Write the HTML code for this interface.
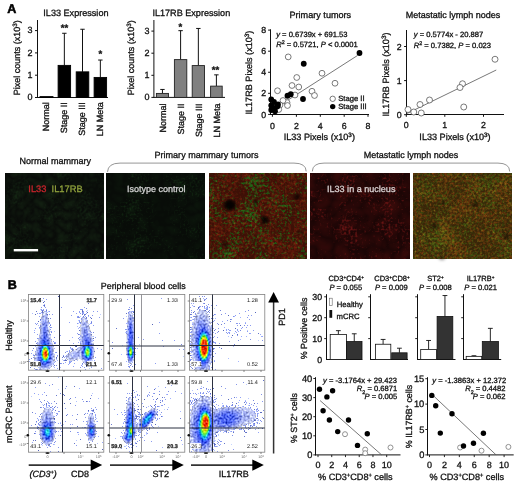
<!DOCTYPE html>
<html><head><meta charset="utf-8"><style>
html,body{margin:0;padding:0;background:#fff;}
svg{display:block;filter:blur(0.3px);}
text{font-family:'Liberation Sans', Arial, sans-serif;text-rendering:geometricPrecision;}
</style></head><body>
<svg width="520" height="483" viewBox="0 0 520 483">
<defs><filter id="mic0" x="0" y="0" width="1" height="1" color-interpolation-filters="sRGB"><feTurbulence type="turbulence" baseFrequency="0.09" numOctaves="2" seed="2" result="a_n0"/><feColorMatrix in="a_n0" type="matrix" values="1 0 0 0 0  1 0 0 0 0  1 0 0 0 0  0 0 0 0 1" result="a_n"/><feComponentTransfer in="a_n" result="a_t"><feFuncR type="linear" slope="1.3" intercept="-0.0650"/></feComponentTransfer><feColorMatrix in="a_t" type="matrix" values="0.04 0 0 0 0  0.085 0 0 0 0  0.035 0 0 0 0  0 0 0 0 1" result="a"/><feComposite in="SourceGraphic" in2="a" operator="arithmetic" k1="0" k2="1" k3="1" k4="0" result="acc0"/><feTurbulence type="fractalNoise" baseFrequency="0.45" numOctaves="1" seed="9" result="b_n0"/><feColorMatrix in="b_n0" type="matrix" values="1 0 0 0 0  1 0 0 0 0  1 0 0 0 0  0 0 0 0 1" result="b_n"/><feTurbulence type="fractalNoise" baseFrequency="0.04" numOctaves="2" seed="5" result="b_c0"/><feColorMatrix in="b_c0" type="matrix" values="1 0 0 0 0  1 0 0 0 0  1 0 0 0 0  0 0 0 0 1" result="b_c"/><feComposite in="b_n" in2="b_c" operator="arithmetic" k1="0" k2="1" k3="0.8" k4="-0.4" result="b_m"/><feComponentTransfer in="b_m" result="b_t"><feFuncR type="linear" slope="2.0" intercept="-1.1600"/></feComponentTransfer><feColorMatrix in="b_t" type="matrix" values="0.03 0 0 0 0  0.08 0 0 0 0  0.03 0 0 0 0  0 0 0 0 1" result="b"/><feComposite in="acc0" in2="b" operator="arithmetic" k1="0" k2="1" k3="1" k4="0" result="acc1"/><feGaussianBlur in="acc1" stdDeviation="0.35" result="bl"/><feComposite in="bl" in2="SourceAlpha" operator="in"/></filter><filter id="mic1" x="0" y="0" width="1" height="1" color-interpolation-filters="sRGB"><feTurbulence type="turbulence" baseFrequency="0.08" numOctaves="2" seed="4" result="a_n0"/><feColorMatrix in="a_n0" type="matrix" values="1 0 0 0 0  1 0 0 0 0  1 0 0 0 0  0 0 0 0 1" result="a_n"/><feComponentTransfer in="a_n" result="a_t"><feFuncR type="linear" slope="1.0" intercept="-0.1000"/></feComponentTransfer><feColorMatrix in="a_t" type="matrix" values="0.02 0 0 0 0  0.06 0 0 0 0  0.02 0 0 0 0  0 0 0 0 1" result="a"/><feComposite in="SourceGraphic" in2="a" operator="arithmetic" k1="0" k2="1" k3="1" k4="0" result="acc0"/><feTurbulence type="fractalNoise" baseFrequency="0.5" numOctaves="1" seed="12" result="b_n0"/><feColorMatrix in="b_n0" type="matrix" values="1 0 0 0 0  1 0 0 0 0  1 0 0 0 0  0 0 0 0 1" result="b_n"/><feTurbulence type="fractalNoise" baseFrequency="0.04" numOctaves="2" seed="8" result="b_c0"/><feColorMatrix in="b_c0" type="matrix" values="1 0 0 0 0  1 0 0 0 0  1 0 0 0 0  0 0 0 0 1" result="b_c"/><feComposite in="b_n" in2="b_c" operator="arithmetic" k1="0" k2="1" k3="0.8" k4="-0.4" result="b_m"/><feComponentTransfer in="b_m" result="b_t"><feFuncR type="linear" slope="2.5" intercept="-1.5000"/></feComponentTransfer><feColorMatrix in="b_t" type="matrix" values="0.03 0 0 0 0  0.09 0 0 0 0  0.03 0 0 0 0  0 0 0 0 1" result="b"/><feComposite in="acc0" in2="b" operator="arithmetic" k1="0" k2="1" k3="1" k4="0" result="acc1"/><feGaussianBlur in="acc1" stdDeviation="0.35" result="bl"/><feComposite in="bl" in2="SourceAlpha" operator="in"/></filter><filter id="mic2" x="0" y="0" width="1" height="1" color-interpolation-filters="sRGB"><feTurbulence type="fractalNoise" baseFrequency="0.35" numOctaves="2" seed="3" result="r_n0"/><feColorMatrix in="r_n0" type="matrix" values="1 0 0 0 0  1 0 0 0 0  1 0 0 0 0  0 0 0 0 1" result="r_n"/><feTurbulence type="fractalNoise" baseFrequency="0.05" numOctaves="2" seed="7" result="r_c0"/><feColorMatrix in="r_c0" type="matrix" values="1 0 0 0 0  1 0 0 0 0  1 0 0 0 0  0 0 0 0 1" result="r_c"/><feComposite in="r_n" in2="r_c" operator="arithmetic" k1="0" k2="1" k3="0.5" k4="-0.25" result="r_m"/><feComponentTransfer in="r_m" result="r_t"><feFuncR type="linear" slope="2.0" intercept="-0.8000"/></feComponentTransfer><feColorMatrix in="r_t" type="matrix" values="0.2 0 0 0 0  0.05 0 0 0 0  0.02 0 0 0 0  0 0 0 0 1" result="r"/><feComposite in="SourceGraphic" in2="r" operator="arithmetic" k1="0" k2="1" k3="1" k4="0" result="acc0"/><feTurbulence type="fractalNoise" baseFrequency="0.4" numOctaves="2" seed="5" result="g_n0"/><feColorMatrix in="g_n0" type="matrix" values="1 0 0 0 0  1 0 0 0 0  1 0 0 0 0  0 0 0 0 1" result="g_n"/><feTurbulence type="fractalNoise" baseFrequency="0.045" numOctaves="2" seed="21" result="g_c0"/><feColorMatrix in="g_c0" type="matrix" values="1 0 0 0 0  1 0 0 0 0  1 0 0 0 0  0 0 0 0 1" result="g_c"/><feComposite in="g_n" in2="g_c" operator="arithmetic" k1="0" k2="1" k3="0.6" k4="-0.3" result="g_m"/><feComponentTransfer in="g_m" result="g_t"><feFuncR type="linear" slope="3.2" intercept="-1.6320"/></feComponentTransfer><feColorMatrix in="g_t" type="matrix" values="0.02 0 0 0 0  0.3 0 0 0 0  0.05 0 0 0 0  0 0 0 0 1" result="g"/><feComposite in="acc0" in2="g" operator="arithmetic" k1="0" k2="1" k3="1" k4="0" result="acc1"/><feTurbulence type="fractalNoise" baseFrequency="0.4" numOctaves="2" seed="5" result="gm_n0"/><feColorMatrix in="gm_n0" type="matrix" values="1 0 0 0 0  1 0 0 0 0  1 0 0 0 0  0 0 0 0 1" result="gm_n"/><feTurbulence type="fractalNoise" baseFrequency="0.045" numOctaves="2" seed="21" result="gm_c0"/><feColorMatrix in="gm_c0" type="matrix" values="1 0 0 0 0  1 0 0 0 0  1 0 0 0 0  0 0 0 0 1" result="gm_c"/><feComposite in="gm_n" in2="gm_c" operator="arithmetic" k1="0" k2="1" k3="0.6" k4="-0.3" result="gm_m"/><feComponentTransfer in="gm_m" result="gm_t"><feFuncR type="linear" slope="3.2" intercept="-1.6320"/></feComponentTransfer><feColorMatrix in="gm_t" type="matrix" values="0.16 0 0 0 0  0.0 0 0 0 0  0.0 0 0 0 0  0 0 0 0 1" result="gm"/><feComposite in="acc1" in2="gm" operator="arithmetic" k1="0" k2="1" k3="-1" k4="0" result="acc2"/><feTurbulence type="fractalNoise" baseFrequency="0.47" numOctaves="1" seed="15" result="h_n0"/><feColorMatrix in="h_n0" type="matrix" values="1 0 0 0 0  1 0 0 0 0  1 0 0 0 0  0 0 0 0 1" result="h_n"/><feComponentTransfer in="h_n" result="h_t"><feFuncR type="linear" slope="3.0" intercept="-1.7400"/></feComponentTransfer><feColorMatrix in="h_t" type="matrix" values="0.1 0 0 0 0  0.1 0 0 0 0  0.02 0 0 0 0  0 0 0 0 1" result="h"/><feComposite in="acc2" in2="h" operator="arithmetic" k1="0" k2="1" k3="1" k4="0" result="acc3"/><feGaussianBlur in="acc3" stdDeviation="0.35" result="bl"/><feComposite in="bl" in2="SourceAlpha" operator="in"/></filter><filter id="mic3" x="0" y="0" width="1" height="1" color-interpolation-filters="sRGB"><feTurbulence type="turbulence" baseFrequency="0.06" numOctaves="2" seed="6" result="r_n0"/><feColorMatrix in="r_n0" type="matrix" values="1 0 0 0 0  1 0 0 0 0  1 0 0 0 0  0 0 0 0 1" result="r_n"/><feComponentTransfer in="r_n" result="r_t"><feFuncR type="linear" slope="1.0" intercept="-0.0000"/></feComponentTransfer><feColorMatrix in="r_t" type="matrix" values="0.15 0 0 0 0  0.025 0 0 0 0  0.02 0 0 0 0  0 0 0 0 1" result="r"/><feComposite in="SourceGraphic" in2="r" operator="arithmetic" k1="0" k2="1" k3="1" k4="0" result="acc0"/><feTurbulence type="fractalNoise" baseFrequency="0.45" numOctaves="1" seed="17" result="s_n0"/><feColorMatrix in="s_n0" type="matrix" values="1 0 0 0 0  1 0 0 0 0  1 0 0 0 0  0 0 0 0 1" result="s_n"/><feTurbulence type="fractalNoise" baseFrequency="0.05" numOctaves="2" seed="2" result="s_c0"/><feColorMatrix in="s_c0" type="matrix" values="1 0 0 0 0  1 0 0 0 0  1 0 0 0 0  0 0 0 0 1" result="s_c"/><feComposite in="s_n" in2="s_c" operator="arithmetic" k1="0" k2="1" k3="0.6" k4="-0.3" result="s_m"/><feComponentTransfer in="s_m" result="s_t"><feFuncR type="linear" slope="3.0" intercept="-1.7400"/></feComponentTransfer><feColorMatrix in="s_t" type="matrix" values="0.26 0 0 0 0  0.05 0 0 0 0  0.05 0 0 0 0  0 0 0 0 1" result="s"/><feComposite in="acc0" in2="s" operator="arithmetic" k1="0" k2="1" k3="1" k4="0" result="acc1"/><feGaussianBlur in="acc1" stdDeviation="0.35" result="bl"/><feComposite in="bl" in2="SourceAlpha" operator="in"/></filter><filter id="mic4" x="0" y="0" width="1" height="1" color-interpolation-filters="sRGB"><feTurbulence type="fractalNoise" baseFrequency="0.4" numOctaves="2" seed="8" result="r_n0"/><feColorMatrix in="r_n0" type="matrix" values="1 0 0 0 0  1 0 0 0 0  1 0 0 0 0  0 0 0 0 1" result="r_n"/><feTurbulence type="fractalNoise" baseFrequency="0.05" numOctaves="2" seed="3" result="r_c0"/><feColorMatrix in="r_c0" type="matrix" values="1 0 0 0 0  1 0 0 0 0  1 0 0 0 0  0 0 0 0 1" result="r_c"/><feComposite in="r_n" in2="r_c" operator="arithmetic" k1="0" k2="1" k3="0.45" k4="-0.225" result="r_m"/><feComponentTransfer in="r_m" result="r_t"><feFuncR type="linear" slope="2.2" intercept="-0.8360"/></feComponentTransfer><feColorMatrix in="r_t" type="matrix" values="0.24 0 0 0 0  0.08 0 0 0 0  0.02 0 0 0 0  0 0 0 0 1" result="r"/><feComposite in="SourceGraphic" in2="r" operator="arithmetic" k1="0" k2="1" k3="1" k4="0" result="acc0"/><feTurbulence type="fractalNoise" baseFrequency="0.42" numOctaves="2" seed="10" result="g_n0"/><feColorMatrix in="g_n0" type="matrix" values="1 0 0 0 0  1 0 0 0 0  1 0 0 0 0  0 0 0 0 1" result="g_n"/><feTurbulence type="fractalNoise" baseFrequency="0.04" numOctaves="2" seed="13" result="g_c0"/><feColorMatrix in="g_c0" type="matrix" values="1 0 0 0 0  1 0 0 0 0  1 0 0 0 0  0 0 0 0 1" result="g_c"/><feComposite in="g_n" in2="g_c" operator="arithmetic" k1="0" k2="1" k3="0.5" k4="-0.25" result="g_m"/><feComponentTransfer in="g_m" result="g_t"><feFuncR type="linear" slope="2.2" intercept="-0.9680"/></feComponentTransfer><feColorMatrix in="g_t" type="matrix" values="0.06 0 0 0 0  0.21 0 0 0 0  0.03 0 0 0 0  0 0 0 0 1" result="g"/><feComposite in="acc0" in2="g" operator="arithmetic" k1="0" k2="1" k3="1" k4="0" result="acc1"/><feTurbulence type="fractalNoise" baseFrequency="0.42" numOctaves="2" seed="10" result="gm_n0"/><feColorMatrix in="gm_n0" type="matrix" values="1 0 0 0 0  1 0 0 0 0  1 0 0 0 0  0 0 0 0 1" result="gm_n"/><feTurbulence type="fractalNoise" baseFrequency="0.04" numOctaves="2" seed="13" result="gm_c0"/><feColorMatrix in="gm_c0" type="matrix" values="1 0 0 0 0  1 0 0 0 0  1 0 0 0 0  0 0 0 0 1" result="gm_c"/><feComposite in="gm_n" in2="gm_c" operator="arithmetic" k1="0" k2="1" k3="0.5" k4="-0.25" result="gm_m"/><feComponentTransfer in="gm_m" result="gm_t"><feFuncR type="linear" slope="2.2" intercept="-0.9680"/></feComponentTransfer><feColorMatrix in="gm_t" type="matrix" values="0.04 0 0 0 0  0.0 0 0 0 0  0.0 0 0 0 0  0 0 0 0 1" result="gm"/><feComposite in="acc1" in2="gm" operator="arithmetic" k1="0" k2="1" k3="-1" k4="0" result="acc2"/><feTurbulence type="fractalNoise" baseFrequency="0.47" numOctaves="1" seed="19" result="d_n0"/><feColorMatrix in="d_n0" type="matrix" values="1 0 0 0 0  1 0 0 0 0  1 0 0 0 0  0 0 0 0 1" result="d_n"/><feComponentTransfer in="d_n" result="d_t"><feFuncR type="linear" slope="3.0" intercept="-1.7100"/></feComponentTransfer><feColorMatrix in="d_t" type="matrix" values="0.16 0 0 0 0  0.14 0 0 0 0  0.04 0 0 0 0  0 0 0 0 1" result="d"/><feComposite in="acc2" in2="d" operator="arithmetic" k1="0" k2="1" k3="1" k4="0" result="acc3"/><feGaussianBlur in="acc3" stdDeviation="0.35" result="bl"/><feComposite in="bl" in2="SourceAlpha" operator="in"/></filter><filter id="soft" x="-2%" y="-2%" width="104%" height="104%" color-interpolation-filters="sRGB"><feTurbulence type="fractalNoise" baseFrequency="0.5" numOctaves="1" seed="4" result="n0"/><feColorMatrix in="n0" type="matrix" values="1 0 0 0 0  1 0 0 0 0  1 0 0 0 0  0 0 0 0 1" result="n"/><feComposite in="SourceGraphic" in2="n" operator="arithmetic" k1="0" k2="1" k3="0.9" k4="-0.45" result="g"/><feComposite in="g" in2="SourceAlpha" operator="in" result="g2"/><feGaussianBlur in="g2" stdDeviation="0.45"/></filter><filter id="blur2" x="-50%" y="-50%" width="200%" height="200%"><feGaussianBlur stdDeviation="1.6"/></filter></defs>
<rect width="520" height="483" fill="#fff"/>
<text x="43.3" y="15.9" font-size="9.1" text-anchor="start" fill="#111" stroke="#111" stroke-width="0.3">IL33 Expression</text>
<line x1="37.5" y1="20" x2="37.5" y2="98.0" stroke="#111" stroke-width="1"/>
<line x1="37.0" y1="97.5" x2="108" y2="97.5" stroke="#111" stroke-width="1"/>
<line x1="35.0" y1="97.5" x2="37.5" y2="97.5" stroke="#111" stroke-width="1"/>
<text x="32.6" y="100.1" font-size="9.0" text-anchor="end" fill="#111" stroke="#111" stroke-width="0.3">0</text>
<line x1="35.0" y1="75.2" x2="37.5" y2="75.2" stroke="#111" stroke-width="1"/>
<text x="32.6" y="77.8" font-size="9.0" text-anchor="end" fill="#111" stroke="#111" stroke-width="0.3">1</text>
<line x1="35.0" y1="52.9" x2="37.5" y2="52.9" stroke="#111" stroke-width="1"/>
<text x="32.6" y="55.5" font-size="9.0" text-anchor="end" fill="#111" stroke="#111" stroke-width="0.3">2</text>
<line x1="35.0" y1="30.599999999999994" x2="37.5" y2="30.599999999999994" stroke="#111" stroke-width="1"/>
<text x="32.6" y="33.199999999999996" font-size="9.0" text-anchor="end" fill="#111" stroke="#111" stroke-width="0.3">3</text>
<text x="19.6" y="20.3" font-size="9.0" text-anchor="end" fill="#111" stroke="#111" stroke-width="0.3" transform="rotate(-90 19.6 20.3)">Pixel counts (x10<tspan font-size="70%" baseline-shift="super">3</tspan>)</text>
<rect x="40" y="96.608" width="13" height="0.8919999999999959" fill="#000" stroke="#000" stroke-width="0.9"/>
<text x="49.4" y="102.2" font-size="9.0" text-anchor="end" fill="#111" stroke="#111" stroke-width="0.3" transform="rotate(-90 49.4 102.2)">Normal</text>
<line x1="64.35" y1="33.275999999999996" x2="64.35" y2="65.388" stroke="#111" stroke-width="1"/>
<line x1="62.14999999999999" y1="33.275999999999996" x2="66.55" y2="33.275999999999996" stroke="#111" stroke-width="1"/>
<rect x="58.1" y="65.388" width="12.499999999999993" height="32.111999999999995" fill="#000" stroke="#000" stroke-width="0.9"/>
<text x="67.25" y="102.2" font-size="9.0" text-anchor="end" fill="#111" stroke="#111" stroke-width="0.3" transform="rotate(-90 67.25 102.2)">Stage II</text>
<line x1="82.5" y1="29.262" x2="82.5" y2="71.855" stroke="#111" stroke-width="1"/>
<line x1="80.3" y1="29.262" x2="84.7" y2="29.262" stroke="#111" stroke-width="1"/>
<rect x="76.2" y="71.855" width="12.599999999999994" height="25.644999999999996" fill="#000" stroke="#000" stroke-width="0.9"/>
<text x="85.4" y="102.2" font-size="9.0" text-anchor="end" fill="#111" stroke="#111" stroke-width="0.3" transform="rotate(-90 85.4 102.2)">Stage III</text>
<line x1="100.35" y1="60.036" x2="100.35" y2="77.43" stroke="#111" stroke-width="1"/>
<line x1="98.14999999999999" y1="60.036" x2="102.55" y2="60.036" stroke="#111" stroke-width="1"/>
<rect x="94.1" y="77.43" width="12.5" height="20.069999999999993" fill="#000" stroke="#000" stroke-width="0.9"/>
<text x="103.25" y="102.2" font-size="9.0" text-anchor="end" fill="#111" stroke="#111" stroke-width="0.3" transform="rotate(-90 103.25 102.2)">LN Meta</text>
<text x="64.6" y="30.900000000000002" font-size="9.6" text-anchor="middle" font-weight="bold" fill="#111" stroke="#111" stroke-width="0.3">**</text>
<text x="100.4" y="56.9" font-size="9.6" text-anchor="middle" font-weight="bold" fill="#111" stroke="#111" stroke-width="0.3">*</text>
<text x="152.4" y="15.9" font-size="9.1" text-anchor="start" fill="#111" stroke="#111" stroke-width="0.3">IL17RB Expression</text>
<line x1="153.9" y1="20" x2="153.9" y2="97.9" stroke="#111" stroke-width="1"/>
<line x1="153.4" y1="97.4" x2="225" y2="97.4" stroke="#111" stroke-width="1"/>
<line x1="151.4" y1="97.4" x2="153.9" y2="97.4" stroke="#111" stroke-width="1"/>
<text x="149.6" y="100.0" font-size="9.0" text-anchor="end" fill="#111" stroke="#111" stroke-width="0.3">0</text>
<line x1="151.4" y1="75.30000000000001" x2="153.9" y2="75.30000000000001" stroke="#111" stroke-width="1"/>
<text x="149.6" y="77.9" font-size="9.0" text-anchor="end" fill="#111" stroke="#111" stroke-width="0.3">1</text>
<line x1="151.4" y1="53.2" x2="153.9" y2="53.2" stroke="#111" stroke-width="1"/>
<text x="149.6" y="55.800000000000004" font-size="9.0" text-anchor="end" fill="#111" stroke="#111" stroke-width="0.3">2</text>
<line x1="151.4" y1="31.099999999999994" x2="153.9" y2="31.099999999999994" stroke="#111" stroke-width="1"/>
<text x="149.6" y="33.699999999999996" font-size="9.0" text-anchor="end" fill="#111" stroke="#111" stroke-width="0.3">3</text>
<text x="134.0" y="20.3" font-size="9.0" text-anchor="end" fill="#111" stroke="#111" stroke-width="0.3" transform="rotate(-90 134.0 20.3)">Pixel counts (x10<tspan font-size="70%" baseline-shift="super">3</tspan>)</text>
<line x1="162.45" y1="89.444" x2="162.45" y2="93.42200000000001" stroke="#111" stroke-width="1"/>
<line x1="160.25" y1="89.444" x2="164.64999999999998" y2="89.444" stroke="#111" stroke-width="1"/>
<rect x="156.4" y="93.42200000000001" width="12.099999999999994" height="3.9779999999999944" fill="#808080" stroke="#222" stroke-width="0.9"/>
<text x="166.04999999999998" y="103.4" font-size="9.0" text-anchor="end" fill="#111" stroke="#111" stroke-width="0.3" transform="rotate(-90 166.04999999999998 103.4)">Normal</text>
<line x1="180.60000000000002" y1="30.658" x2="180.60000000000002" y2="59.609" stroke="#111" stroke-width="1"/>
<line x1="178.40000000000003" y1="30.658" x2="182.8" y2="30.658" stroke="#111" stroke-width="1"/>
<rect x="174.4" y="59.609" width="12.400000000000006" height="37.791000000000004" fill="#808080" stroke="#222" stroke-width="0.9"/>
<text x="184.20000000000002" y="103.4" font-size="9.0" text-anchor="end" fill="#111" stroke="#111" stroke-width="0.3" transform="rotate(-90 184.20000000000002 103.4)">Stage II</text>
<line x1="198.35" y1="28.447999999999993" x2="198.35" y2="65.57600000000001" stroke="#111" stroke-width="1"/>
<line x1="196.15" y1="28.447999999999993" x2="200.54999999999998" y2="28.447999999999993" stroke="#111" stroke-width="1"/>
<rect x="192.2" y="65.57600000000001" width="12.300000000000011" height="31.823999999999998" fill="#808080" stroke="#222" stroke-width="0.9"/>
<text x="201.95" y="103.4" font-size="9.0" text-anchor="end" fill="#111" stroke="#111" stroke-width="0.3" transform="rotate(-90 201.95 103.4)">Stage III</text>
<line x1="216.39999999999998" y1="74.858" x2="216.39999999999998" y2="86.129" stroke="#111" stroke-width="1"/>
<line x1="214.2" y1="74.858" x2="218.59999999999997" y2="74.858" stroke="#111" stroke-width="1"/>
<rect x="210.6" y="86.129" width="11.599999999999994" height="11.271" fill="#808080" stroke="#222" stroke-width="0.9"/>
<text x="219.99999999999997" y="103.4" font-size="9.0" text-anchor="end" fill="#111" stroke="#111" stroke-width="0.3" transform="rotate(-90 219.99999999999997 103.4)">LN Meta</text>
<text x="180.3" y="29.900000000000002" font-size="9.6" text-anchor="middle" font-weight="bold" fill="#111" stroke="#111" stroke-width="0.3">*</text>
<text x="215.6" y="73.39999999999999" font-size="9.6" text-anchor="middle" font-weight="bold" fill="#111" stroke="#111" stroke-width="0.3">**</text>
<text x="7.2" y="12.5" font-size="12.6" font-weight="bold" fill="#000" stroke="#000" stroke-width="0.5">A</text>
<text x="289.5" y="18.3" font-size="9.1" text-anchor="start" fill="#111" stroke="#111" stroke-width="0.3">Primary tumors</text>
<line x1="270.5" y1="29.3" x2="270.5" y2="115.0" stroke="#111" stroke-width="1"/>
<line x1="270.0" y1="114.5" x2="369" y2="114.5" stroke="#111" stroke-width="1"/>
<line x1="268.1" y1="114.4" x2="270.5" y2="114.4" stroke="#111" stroke-width="1"/>
<text x="266.2" y="117.5" font-size="8.8" text-anchor="end" fill="#111" stroke="#111" stroke-width="0.3">0</text>
<line x1="268.1" y1="93.3" x2="270.5" y2="93.3" stroke="#111" stroke-width="1"/>
<text x="266.2" y="96.39999999999999" font-size="8.8" text-anchor="end" fill="#111" stroke="#111" stroke-width="0.3">2</text>
<line x1="268.1" y1="72.25" x2="270.5" y2="72.25" stroke="#111" stroke-width="1"/>
<text x="266.2" y="75.35" font-size="8.8" text-anchor="end" fill="#111" stroke="#111" stroke-width="0.3">4</text>
<line x1="268.1" y1="51.2" x2="270.5" y2="51.2" stroke="#111" stroke-width="1"/>
<text x="266.2" y="54.300000000000004" font-size="8.8" text-anchor="end" fill="#111" stroke="#111" stroke-width="0.3">6</text>
<line x1="268.1" y1="30.1" x2="270.5" y2="30.1" stroke="#111" stroke-width="1"/>
<text x="266.2" y="33.2" font-size="8.8" text-anchor="end" fill="#111" stroke="#111" stroke-width="0.3">8</text>
<line x1="272.4" y1="114.5" x2="272.4" y2="116.8" stroke="#111" stroke-width="1"/>
<text x="272.4" y="128.6" font-size="8.8" text-anchor="middle" fill="#111" stroke="#111" stroke-width="0.3">0</text>
<line x1="296.4" y1="114.5" x2="296.4" y2="116.8" stroke="#111" stroke-width="1"/>
<text x="296.4" y="128.6" font-size="8.8" text-anchor="middle" fill="#111" stroke="#111" stroke-width="0.3">2</text>
<line x1="320.3" y1="114.5" x2="320.3" y2="116.8" stroke="#111" stroke-width="1"/>
<text x="320.3" y="128.6" font-size="8.8" text-anchor="middle" fill="#111" stroke="#111" stroke-width="0.3">4</text>
<line x1="344.2" y1="114.5" x2="344.2" y2="116.8" stroke="#111" stroke-width="1"/>
<text x="344.2" y="128.6" font-size="8.8" text-anchor="middle" fill="#111" stroke="#111" stroke-width="0.3">6</text>
<line x1="368" y1="114.5" x2="368" y2="116.8" stroke="#111" stroke-width="1"/>
<text x="368" y="128.6" font-size="8.8" text-anchor="middle" fill="#111" stroke="#111" stroke-width="0.3">8</text>
<text x="319.3" y="139.5" font-size="9.1" text-anchor="middle" fill="#111" stroke="#111" stroke-width="0.3">IL33 Pixels (x10<tspan font-size="70%" baseline-shift="super">3</tspan>)</text>
<text x="252.1" y="30.6" font-size="9.1" text-anchor="end" fill="#111" stroke="#111" stroke-width="0.3" transform="rotate(-90 252.1 30.6)">IL17RB Pixels (x10<tspan font-size="70%" baseline-shift="super">3</tspan>)</text>
<text x="276.2" y="36.8" font-size="7.6" text-anchor="start" fill="#111" stroke="#111" stroke-width="0.3"><tspan font-style="italic">y</tspan> = 0.6739x + 691.53</text>
<text x="276.2" y="47.4" font-size="7.6" text-anchor="start" fill="#111" stroke="#111" stroke-width="0.3"><tspan font-style="italic">R</tspan><tspan font-size="70%" baseline-shift="super">2</tspan> = 0.5721, <tspan font-style="italic">P</tspan> &lt; 0.0001</text>
<line x1="272.5" y1="110" x2="357.5" y2="55.5" stroke="#555" stroke-width="0.8"/>
<circle cx="288.2" cy="56.9" r="2.9" fill="#fff" stroke="#444" stroke-width="0.7"/>
<circle cx="322" cy="73.25" r="2.9" fill="#fff" stroke="#444" stroke-width="0.7"/>
<circle cx="296.75" cy="77.5" r="2.9" fill="#fff" stroke="#444" stroke-width="0.7"/>
<circle cx="335" cy="83.25" r="2.9" fill="#fff" stroke="#444" stroke-width="0.7"/>
<circle cx="292" cy="85.5" r="2.9" fill="#fff" stroke="#444" stroke-width="0.7"/>
<circle cx="298.75" cy="87" r="2.9" fill="#fff" stroke="#444" stroke-width="0.7"/>
<circle cx="277.5" cy="90.75" r="2.9" fill="#fff" stroke="#444" stroke-width="0.7"/>
<circle cx="312" cy="91.25" r="2.9" fill="#fff" stroke="#444" stroke-width="0.7"/>
<circle cx="314.5" cy="95.5" r="2.9" fill="#fff" stroke="#444" stroke-width="0.7"/>
<circle cx="295" cy="95" r="2.9" fill="#fff" stroke="#444" stroke-width="0.7"/>
<circle cx="287" cy="102.5" r="2.9" fill="#fff" stroke="#444" stroke-width="0.7"/>
<circle cx="283" cy="100.5" r="2.9" fill="#fff" stroke="#444" stroke-width="0.7"/>
<circle cx="287.5" cy="105.5" r="2.9" fill="#fff" stroke="#444" stroke-width="0.7"/>
<circle cx="280" cy="105" r="2.9" fill="#fff" stroke="#444" stroke-width="0.7"/>
<circle cx="278.75" cy="109.5" r="2.9" fill="#fff" stroke="#444" stroke-width="0.7"/>
<circle cx="276" cy="107" r="2.9" fill="#fff" stroke="#444" stroke-width="0.7"/>
<circle cx="303.75" cy="63.75" r="2.9" fill="#000" stroke="none" stroke-width="1"/>
<circle cx="359.5" cy="53" r="2.9" fill="#000" stroke="none" stroke-width="1"/>
<circle cx="287.5" cy="95.75" r="2.9" fill="#000" stroke="none" stroke-width="1"/>
<circle cx="290.75" cy="94.25" r="2.9" fill="#000" stroke="none" stroke-width="1"/>
<circle cx="303" cy="99" r="2.9" fill="#000" stroke="none" stroke-width="1"/>
<circle cx="271.25" cy="99.5" r="2.9" fill="#000" stroke="none" stroke-width="1"/>
<circle cx="271.25" cy="105.5" r="2.9" fill="#000" stroke="none" stroke-width="1"/>
<circle cx="271.25" cy="110" r="2.9" fill="#000" stroke="none" stroke-width="1"/>
<circle cx="275" cy="111.25" r="2.9" fill="#000" stroke="none" stroke-width="1"/>
<circle cx="277.5" cy="106.25" r="2.9" fill="#000" stroke="none" stroke-width="1"/>
<circle cx="273.75" cy="108" r="2.9" fill="#000" stroke="none" stroke-width="1"/>
<circle cx="278" cy="104.5" r="2.9" fill="#000" stroke="none" stroke-width="1"/>
<circle cx="274" cy="102" r="2.9" fill="#000" stroke="none" stroke-width="1"/>
<circle cx="332.7" cy="98.8" r="2.7" fill="#fff" stroke="#444" stroke-width="0.7"/>
<circle cx="332.7" cy="106.6" r="2.7" fill="#000" stroke="none" stroke-width="1"/>
<text x="338.2" y="101.4" font-size="7.65" text-anchor="start" fill="#111" stroke="#111" stroke-width="0.3">Stage II</text>
<text x="338.2" y="109.2" font-size="7.65" text-anchor="start" fill="#111" stroke="#111" stroke-width="0.3">Stage III</text>
<text x="405.75" y="18.3" font-size="9.0" text-anchor="start" fill="#111" stroke="#111" stroke-width="0.3">Metastatic lymph nodes</text>
<line x1="406.5" y1="30" x2="406.5" y2="115.0" stroke="#111" stroke-width="1"/>
<line x1="406.0" y1="114.5" x2="504" y2="114.5" stroke="#111" stroke-width="1"/>
<line x1="404.1" y1="114.7" x2="406.5" y2="114.7" stroke="#111" stroke-width="1"/>
<text x="401.6" y="117.8" font-size="8.8" text-anchor="end" fill="#111" stroke="#111" stroke-width="0.3">0</text>
<line x1="404.1" y1="80.6" x2="406.5" y2="80.6" stroke="#111" stroke-width="1"/>
<text x="401.6" y="83.69999999999999" font-size="8.8" text-anchor="end" fill="#111" stroke="#111" stroke-width="0.3">1</text>
<line x1="404.1" y1="46.5" x2="406.5" y2="46.5" stroke="#111" stroke-width="1"/>
<text x="401.6" y="49.6" font-size="8.8" text-anchor="end" fill="#111" stroke="#111" stroke-width="0.3">2</text>
<line x1="406.3" y1="114.5" x2="406.3" y2="116.8" stroke="#111" stroke-width="1"/>
<text x="406.3" y="127.8" font-size="8.8" text-anchor="middle" fill="#111" stroke="#111" stroke-width="0.3">0</text>
<line x1="444.8" y1="114.5" x2="444.8" y2="116.8" stroke="#111" stroke-width="1"/>
<text x="444.8" y="127.8" font-size="8.8" text-anchor="middle" fill="#111" stroke="#111" stroke-width="0.3">1</text>
<line x1="483.5" y1="114.5" x2="483.5" y2="116.8" stroke="#111" stroke-width="1"/>
<text x="483.5" y="127.8" font-size="8.8" text-anchor="middle" fill="#111" stroke="#111" stroke-width="0.3">2</text>
<text x="455" y="139.5" font-size="9.1" text-anchor="middle" fill="#111" stroke="#111" stroke-width="0.3">IL33 Pixels (x10<tspan font-size="70%" baseline-shift="super">3</tspan>)</text>
<text x="388.6" y="32.5" font-size="9.1" text-anchor="end" fill="#111" stroke="#111" stroke-width="0.3" transform="rotate(-90 388.6 32.5)">IL17RB Pixels (x10<tspan font-size="70%" baseline-shift="super">3</tspan>)</text>
<text x="413.75" y="37.2" font-size="7.6" text-anchor="start" fill="#111" stroke="#111" stroke-width="0.3"><tspan font-style="italic">y</tspan> = 0.5774x - 20.887</text>
<text x="413.75" y="47.5" font-size="7.6" text-anchor="start" fill="#111" stroke="#111" stroke-width="0.3"><tspan font-style="italic">R</tspan><tspan font-size="70%" baseline-shift="super">2</tspan> = 0.7382, <tspan font-style="italic">P</tspan> = 0.023</text>
<line x1="406.5" y1="113.75" x2="496.25" y2="70" stroke="#555" stroke-width="0.8"/>
<circle cx="495" cy="59.25" r="3.0" fill="#fff" stroke="#444" stroke-width="0.7"/>
<circle cx="462.5" cy="83.75" r="3.0" fill="#fff" stroke="#444" stroke-width="0.7"/>
<circle cx="460" cy="87.5" r="3.0" fill="#fff" stroke="#444" stroke-width="0.7"/>
<circle cx="429.5" cy="100" r="3.0" fill="#fff" stroke="#444" stroke-width="0.7"/>
<circle cx="420" cy="104.5" r="3.0" fill="#fff" stroke="#444" stroke-width="0.7"/>
<circle cx="408" cy="109.5" r="3.0" fill="#fff" stroke="#444" stroke-width="0.7"/>
<circle cx="413.75" cy="112" r="3.0" fill="#fff" stroke="#444" stroke-width="0.7"/>
<circle cx="421.25" cy="113" r="3.0" fill="#fff" stroke="#444" stroke-width="0.7"/>
<circle cx="463.75" cy="107" r="3.0" fill="#fff" stroke="#444" stroke-width="0.7"/>
<rect x="5" y="173" width="99" height="86" fill="#090c09" stroke="none" stroke-width="1" filter="url(#mic0)"/>
<rect x="106" y="173" width="99" height="86" fill="#080c08" stroke="none" stroke-width="1" filter="url(#mic1)"/>
<rect x="209" y="173" width="98" height="86" fill="#3e1006" stroke="none" stroke-width="1" filter="url(#mic2)"/>
<rect x="310" y="173" width="100" height="86" fill="#1a0505" stroke="none" stroke-width="1" filter="url(#mic3)"/>
<rect x="413" y="173" width="99" height="86" fill="#382608" stroke="none" stroke-width="1" filter="url(#mic4)"/>
<text x="19.4" y="164.4" font-size="9.0" text-anchor="start" fill="#111" stroke="#111" stroke-width="0.3">Normal mammary</text>
<text x="154.5" y="158.2" font-size="9.05" text-anchor="start" fill="#111" stroke="#111" stroke-width="0.3">Primary mammary tumors</text>
<text x="363.75" y="158.2" font-size="9.0" text-anchor="start" fill="#111" stroke="#111" stroke-width="0.3">Metastatic lymph nodes</text>
<path d="M107.5 171.9 Q108 163.1 120 163.1 H294 Q306 163.1 306.2 171.4" fill="none" stroke="#8a8a8a" stroke-width="0.9"/>
<path d="M312.3 171.4 Q312.6 163.1 324 163.1 H498 Q509.5 163.1 509.7 171.5" fill="none" stroke="#8a8a8a" stroke-width="0.9"/>
<text x="28.3" y="191.5" font-size="9.3" text-anchor="start" fill="#c8242c" stroke="#c8242c" stroke-width="0.3">IL33</text>
<text x="51.6" y="191.5" font-size="9.3" text-anchor="start" fill="#8fa03c" stroke="#8fa03c" stroke-width="0.3">IL17RB</text>
<text x="126.9" y="191.6" font-size="9.0" text-anchor="start" fill="#cfcfcf" stroke="#cfcfcf" stroke-width="0.3">Isotype control</text>
<text x="327.0" y="191.6" font-size="9.05" text-anchor="start" fill="#d8d0d0" stroke="#d8d0d0" stroke-width="0.3">IL33 in a nucleus</text>
<rect x="13.75" y="249" width="24.35" height="2.4" fill="#ffffff" stroke="none" stroke-width="1"/>
<g filter="url(#blur2)">
<ellipse cx="230" cy="205" rx="6" ry="5.5" fill="#050302" opacity="0.9"/>
<ellipse cx="264.8" cy="220" rx="4" ry="4" fill="#050302" opacity="0.8"/>
<ellipse cx="297" cy="197" rx="3" ry="3" fill="#050302" opacity="0.7"/>
<ellipse cx="256" cy="202" rx="2.5" ry="2.5" fill="#050302" opacity="0.6"/>
<ellipse cx="225" cy="245" rx="3" ry="3" fill="#050302" opacity="0.5"/>
<ellipse cx="300" cy="232" rx="2.5" ry="2" fill="#050302" opacity="0.5"/>
<ellipse cx="435" cy="226" rx="2.5" ry="2.5" fill="#050302" opacity="0.7"/>
<ellipse cx="475" cy="204" rx="2.5" ry="2.5" fill="#050302" opacity="0.6"/>
<ellipse cx="506" cy="236" rx="3" ry="3" fill="#050302" opacity="0.6"/>
<ellipse cx="443" cy="203" rx="2" ry="2" fill="#050302" opacity="0.5"/>
<ellipse cx="442" cy="258" rx="3" ry="2" fill="#050302" opacity="0.4"/>
</g>
<text x="7.8" y="288.6" font-size="12.6" font-weight="bold" fill="#000" stroke="#000" stroke-width="0.5">B</text>
<text x="100.8" y="289" font-size="8.9" text-anchor="start" fill="#111" stroke="#111" stroke-width="0.3">Peripheral blood cells</text>
<clipPath id="fc00"><rect x="28.5" y="294.5" width="75.3" height="75.69999999999999"/></clipPath>
<g filter="url(#soft)">
<g clip-path="url(#fc00)"><path fill="#8c9cf0" d="M58 296h1v1h-1zM40 298h1v1h-1zM43 298h1v1h-1zM32 299h1v1h-1zM46 299h1v1h-1zM42 300h1v1h-1zM44 301h1v1h-1zM43 302h1v1h-1zM88 303h1v1h-1zM44 304h1v1h-1zM43 305h1v1h-1zM44 305h1v1h-1zM44 306h1v1h-1zM41 307h1v1h-1zM45 307h1v1h-1zM61 307h1v1h-1zM84 307h1v1h-1zM86 308h1v1h-1zM40 309h1v1h-1zM41 309h1v1h-1zM43 309h1v1h-1zM46 309h1v1h-1zM80 309h1v1h-1zM81 309h1v1h-1zM82 309h1v1h-1zM41 310h1v1h-1zM42 310h1v1h-1zM43 310h1v1h-1zM46 310h1v1h-1zM82 310h1v1h-1zM87 310h1v1h-1zM36 311h1v1h-1zM42 311h1v1h-1zM45 311h1v1h-1zM46 311h1v1h-1zM48 311h1v1h-1zM49 311h1v1h-1zM73 311h1v1h-1zM79 311h1v1h-1zM82 311h1v1h-1zM83 311h1v1h-1zM86 311h1v1h-1zM93 311h1v1h-1zM97 311h1v1h-1zM41 312h1v1h-1zM42 312h1v1h-1zM44 312h1v1h-1zM45 312h1v1h-1zM46 312h1v1h-1zM47 312h1v1h-1zM79 312h1v1h-1zM82 312h1v1h-1zM83 312h1v1h-1zM87 312h1v1h-1zM32 313h1v1h-1zM37 313h1v1h-1zM39 313h1v1h-1zM40 313h1v1h-1zM42 313h1v1h-1zM43 313h1v1h-1zM46 313h1v1h-1zM76 313h1v1h-1zM80 313h1v1h-1zM82 313h1v1h-1zM83 313h1v1h-1zM86 313h1v1h-1zM35 314h1v1h-1zM46 314h1v1h-1zM47 314h1v1h-1zM49 314h1v1h-1zM52 314h1v1h-1zM82 314h1v1h-1zM84 314h1v1h-1zM85 314h1v1h-1zM100 314h1v1h-1zM47 315h1v1h-1zM71 315h1v1h-1zM84 315h1v1h-1zM88 315h1v1h-1zM92 315h1v1h-1zM39 316h1v1h-1zM42 316h1v1h-1zM47 316h1v1h-1zM77 316h1v1h-1zM78 316h1v1h-1zM80 316h1v1h-1zM83 316h1v1h-1zM85 316h1v1h-1zM88 316h1v1h-1zM41 317h1v1h-1zM47 317h1v1h-1zM77 317h1v1h-1zM78 317h1v1h-1zM79 317h1v1h-1zM82 317h1v1h-1zM83 317h1v1h-1zM86 317h1v1h-1zM90 317h1v1h-1zM99 317h1v1h-1zM48 318h1v1h-1zM50 318h1v1h-1zM81 318h1v1h-1zM83 318h1v1h-1zM85 318h1v1h-1zM86 318h1v1h-1zM91 318h1v1h-1zM40 319h1v1h-1zM41 319h1v1h-1zM81 319h1v1h-1zM83 319h1v1h-1zM84 319h1v1h-1zM86 319h1v1h-1zM40 320h1v1h-1zM41 320h1v1h-1zM48 320h1v1h-1zM78 320h1v1h-1zM79 320h1v1h-1zM86 320h1v1h-1zM87 320h1v1h-1zM38 321h1v1h-1zM79 321h1v1h-1zM91 321h1v1h-1zM40 322h1v1h-1zM48 322h1v1h-1zM49 322h1v1h-1zM69 322h1v1h-1zM79 322h1v1h-1zM80 322h1v1h-1zM87 322h1v1h-1zM91 322h1v1h-1zM35 323h1v1h-1zM37 323h1v1h-1zM48 323h1v1h-1zM49 323h1v1h-1zM77 323h1v1h-1zM78 323h1v1h-1zM80 323h1v1h-1zM81 323h1v1h-1zM90 323h1v1h-1zM91 323h1v1h-1zM36 324h1v1h-1zM48 324h1v1h-1zM50 324h1v1h-1zM81 324h1v1h-1zM88 324h1v1h-1zM89 324h1v1h-1zM38 325h1v1h-1zM40 325h1v1h-1zM50 325h1v1h-1zM93 325h1v1h-1zM40 326h1v1h-1zM49 326h1v1h-1zM77 326h1v1h-1zM39 327h1v1h-1zM50 327h1v1h-1zM51 327h1v1h-1zM79 327h1v1h-1zM80 327h1v1h-1zM35 328h1v1h-1zM39 328h1v1h-1zM40 328h1v1h-1zM78 328h1v1h-1zM50 329h1v1h-1zM89 329h1v1h-1zM34 330h1v1h-1zM79 330h1v1h-1zM40 331h1v1h-1zM50 331h1v1h-1zM51 331h1v1h-1zM54 331h1v1h-1zM90 331h1v1h-1zM34 332h1v1h-1zM51 332h1v1h-1zM90 332h1v1h-1zM91 332h1v1h-1zM93 332h1v1h-1zM49 333h1v1h-1zM77 333h1v1h-1zM37 334h1v1h-1zM49 334h1v1h-1zM50 334h1v1h-1zM78 334h1v1h-1zM79 334h1v1h-1zM91 334h1v1h-1zM39 335h1v1h-1zM50 335h1v1h-1zM60 335h1v1h-1zM80 335h1v1h-1zM39 336h1v1h-1zM50 336h1v1h-1zM80 336h1v1h-1zM92 336h1v1h-1zM93 336h1v1h-1zM54 337h1v1h-1zM72 337h1v1h-1zM79 337h1v1h-1zM80 337h1v1h-1zM95 337h1v1h-1zM37 338h1v1h-1zM38 338h1v1h-1zM50 338h1v1h-1zM78 338h1v1h-1zM93 338h1v1h-1zM51 339h1v1h-1zM79 339h1v1h-1zM80 339h1v1h-1zM92 339h1v1h-1zM38 340h1v1h-1zM69 340h1v1h-1zM79 340h1v1h-1zM92 340h1v1h-1zM93 340h1v1h-1zM35 341h1v1h-1zM38 341h1v1h-1zM53 341h1v1h-1zM80 341h1v1h-1zM37 342h1v1h-1zM54 342h1v1h-1zM55 342h1v1h-1zM78 342h1v1h-1zM80 342h1v1h-1zM36 343h1v1h-1zM37 343h1v1h-1zM54 343h1v1h-1zM55 343h1v1h-1zM73 343h1v1h-1zM80 343h1v1h-1zM52 344h1v1h-1zM93 344h1v1h-1zM30 345h1v1h-1zM36 345h1v1h-1zM76 345h1v1h-1zM79 345h1v1h-1zM80 345h1v1h-1zM93 345h1v1h-1zM35 346h1v1h-1zM53 346h1v1h-1zM75 346h1v1h-1zM76 346h1v1h-1zM80 346h1v1h-1zM70 347h1v1h-1zM78 347h1v1h-1zM79 347h1v1h-1zM33 348h1v1h-1zM36 348h1v1h-1zM54 348h1v1h-1zM70 348h1v1h-1zM71 348h1v1h-1zM72 348h1v1h-1zM77 348h1v1h-1zM97 348h1v1h-1zM53 349h1v1h-1zM71 349h1v1h-1zM72 349h1v1h-1zM73 349h1v1h-1zM77 349h1v1h-1zM101 349h1v1h-1zM32 350h1v1h-1zM36 350h1v1h-1zM59 350h1v1h-1zM69 350h1v1h-1zM72 350h1v1h-1zM74 350h1v1h-1zM75 350h1v1h-1zM35 351h1v1h-1zM66 351h1v1h-1zM67 351h1v1h-1zM69 351h1v1h-1zM72 351h1v1h-1zM73 351h1v1h-1zM94 351h1v1h-1zM55 352h1v1h-1zM56 352h1v1h-1zM65 352h1v1h-1zM69 352h1v1h-1zM31 353h1v1h-1zM35 353h1v1h-1zM33 354h1v1h-1zM54 354h1v1h-1zM67 354h1v1h-1zM68 354h1v1h-1zM33 355h1v1h-1zM34 355h1v1h-1zM57 355h1v1h-1zM63 355h1v1h-1zM66 355h1v1h-1zM67 355h1v1h-1zM57 356h1v1h-1zM63 356h1v1h-1zM65 356h1v1h-1zM66 356h1v1h-1zM67 356h1v1h-1zM33 357h1v1h-1zM56 357h1v1h-1zM62 357h1v1h-1zM64 357h1v1h-1zM66 357h1v1h-1zM67 357h1v1h-1zM95 357h1v1h-1zM31 358h1v1h-1zM54 358h1v1h-1zM56 358h1v1h-1zM78 358h1v1h-1zM93 358h1v1h-1zM29 359h1v1h-1zM56 359h1v1h-1zM62 359h1v1h-1zM65 359h1v1h-1zM69 359h1v1h-1zM71 359h1v1h-1zM72 359h1v1h-1zM74 359h1v1h-1zM76 359h1v1h-1zM81 359h1v1h-1zM92 359h1v1h-1zM34 360h1v1h-1zM57 360h1v1h-1zM63 360h1v1h-1zM64 360h1v1h-1zM65 360h1v1h-1zM66 360h1v1h-1zM69 360h1v1h-1zM72 360h1v1h-1zM74 360h1v1h-1zM77 360h1v1h-1zM92 360h1v1h-1zM94 360h1v1h-1zM29 361h1v1h-1zM30 361h1v1h-1zM33 361h1v1h-1zM34 361h1v1h-1zM55 361h1v1h-1zM69 361h1v1h-1zM70 361h1v1h-1zM71 361h1v1h-1zM83 361h1v1h-1zM94 361h1v1h-1zM33 362h1v1h-1zM34 362h1v1h-1zM53 362h1v1h-1zM54 362h1v1h-1zM65 362h1v1h-1zM69 362h1v1h-1zM70 362h1v1h-1zM83 362h1v1h-1zM92 362h1v1h-1zM53 363h1v1h-1zM60 363h1v1h-1zM61 363h1v1h-1zM63 363h1v1h-1zM69 363h1v1h-1zM74 363h1v1h-1zM82 363h1v1h-1zM91 363h1v1h-1zM35 364h1v1h-1zM52 364h1v1h-1zM53 364h1v1h-1zM68 364h1v1h-1zM82 364h1v1h-1zM86 364h1v1h-1zM87 364h1v1h-1zM93 364h1v1h-1zM52 365h1v1h-1zM54 365h1v1h-1zM56 365h1v1h-1zM81 365h1v1h-1zM86 365h1v1h-1zM88 365h1v1h-1zM32 366h1v1h-1zM53 366h1v1h-1zM73 366h1v1h-1zM82 366h1v1h-1zM86 366h1v1h-1zM89 366h1v1h-1zM91 366h1v1h-1zM93 366h1v1h-1zM30 367h1v1h-1zM38 367h1v1h-1zM50 367h1v1h-1zM54 367h1v1h-1zM60 367h1v1h-1zM80 367h1v1h-1zM84 367h1v1h-1zM91 367h1v1h-1zM34 368h1v1h-1zM48 368h1v1h-1zM49 368h1v1h-1zM57 368h1v1h-1zM89 368h1v1h-1zM101 368h1v1h-1zM35 369h1v1h-1zM36 369h1v1h-1zM37 369h1v1h-1zM39 369h1v1h-1zM40 369h1v1h-1zM43 369h1v1h-1zM46 369h1v1h-1zM85 369h1v1h-1z"/>
<path fill="#c0c8f6" fill-rule="evenodd" d="M46.5 370.1 45.5 370.3 44.5 370.3 43.5 370.2 42.5 369.9 40.5 369.0 38.5 367.6 36.8 366.0 36.0 365.0 35.4 364.0 34.9 363.0 34.5 362.0 34.3 361.0 34.2 360.0 34.2 359.0 34.4 357.5 36.0 350.8 37.2 344.5 39.0 338.3 39.5 336.0 40.0 332.6 40.7 323.0 41.2 319.5 41.7 317.0 42.4 314.5 43.2 312.5 43.5 312.0 44.0 311.4 44.5 311.1 45.0 311.1 45.5 311.4 46.0 311.9 46.5 312.8 47.3 315.0 48.0 317.5 48.3 319.5 48.8 323.0 49.5 332.1 49.9 335.0 50.5 337.7 52.3 343.0 52.9 345.5 53.7 350.5 54.4 355.5 54.7 358.5 54.6 360.0 54.2 362.0 53.4 364.0 52.5 365.5 51.0 367.2 49.5 368.5 48.0 369.5 46.5 370.1ZM88.5 365.1 88.0 365.2 87.0 365.1 86.0 364.8 85.5 364.4 84.0 363.0 81.5 359.8 81.0 359.4 80.5 359.1 80.0 359.0 79.0 359.0 75.0 360.1 73.0 360.4 71.5 360.5 70.0 360.5 68.5 360.1 67.1 359.5 66.6 359.0 66.2 358.5 66.0 357.5 66.1 356.5 66.6 355.5 67.5 354.2 68.8 353.0 70.5 351.9 72.5 350.8 74.5 350.0 77.5 349.0 78.5 348.5 79.0 348.1 79.5 347.5 80.0 346.5 80.4 344.5 80.6 342.5 80.7 339.5 80.5 330.0 80.6 327.0 80.9 324.0 81.4 321.5 82.0 319.5 82.5 318.6 83.0 317.9 83.5 317.5 84.0 317.4 84.5 317.4 85.0 317.7 85.9 318.5 86.5 319.4 87.6 321.5 88.7 324.5 89.7 328.0 92.7 340.0 93.7 345.0 94.1 348.0 94.3 351.0 94.2 353.5 93.8 356.0 93.2 358.5 92.3 361.0 91.1 363.0 90.0 364.3 89.5 364.6 88.5 365.1Z"/>
<path fill="#a4b0f4" fill-rule="evenodd" d="M46.5 368.6 45.0 368.9 44.0 368.8 43.0 368.6 42.0 368.2 41.0 367.7 39.5 366.6 37.9 365.0 36.9 363.5 36.4 362.5 36.1 361.5 35.8 359.5 35.9 357.0 37.7 346.5 38.3 344.0 40.0 338.3 40.5 335.9 40.8 333.0 41.4 325.5 41.8 322.5 42.2 320.0 42.9 317.5 43.5 316.1 44.0 315.4 44.5 315.0 45.0 315.0 45.5 315.3 45.6 315.5 46.0 316.0 46.5 317.0 47.0 318.6 47.4 320.5 47.8 322.5 48.1 325.5 48.7 332.5 49.0 335.2 49.5 337.6 51.3 343.0 52.2 346.5 52.8 350.5 53.3 354.5 53.4 357.0 53.4 359.0 53.2 360.5 52.8 362.0 51.9 364.0 50.8 365.5 49.5 366.9 48.0 368.0 46.5 368.6ZM88.5 363.5 88.0 363.6 87.0 363.6 86.0 363.2 85.5 362.9 84.0 361.4 81.5 357.8 80.5 356.8 80.0 356.5 79.5 356.4 79.0 356.5 75.5 357.6 74.0 357.9 73.0 357.9 72.0 357.8 71.1 357.5 70.6 357.0 70.3 356.5 70.3 356.0 70.5 355.5 71.0 354.7 71.7 354.0 73.0 353.1 74.3 352.5 75.7 352.0 78.0 351.4 79.0 351.0 79.5 350.5 80.0 349.8 80.5 348.7 81.1 346.5 81.6 343.0 81.7 339.5 81.8 331.0 81.9 328.5 82.1 326.5 82.5 324.7 83.0 323.3 83.5 322.4 84.0 322.0 84.5 321.8 85.0 321.9 85.5 322.3 86.0 322.8 86.5 323.5 87.4 325.5 88.2 327.5 91.2 338.0 92.2 341.5 93.1 346.0 93.5 348.5 93.6 351.0 93.6 353.0 93.3 355.5 92.7 358.0 91.8 360.0 91.0 361.5 90.0 362.6 89.0 363.3 88.5 363.5Z"/>
<path fill="#8494f2" fill-rule="evenodd" d="M46.5 367.1 45.0 367.4 43.5 367.2 42.0 366.7 40.4 365.5 39.0 364.0 38.1 362.5 37.7 361.5 37.4 360.5 37.2 358.5 37.2 357.0 37.4 355.0 38.3 348.0 39.1 344.5 40.9 338.5 41.4 336.0 41.7 333.5 42.3 327.0 42.8 323.5 43.5 321.0 44.0 320.0 44.5 319.5 45.0 319.5 45.5 319.9 46.0 320.8 46.5 322.4 46.8 323.5 47.3 327.0 47.9 333.5 48.2 336.0 48.9 339.0 50.6 344.0 51.3 346.5 51.9 350.0 52.2 352.5 52.3 355.0 52.4 357.0 52.2 359.0 51.8 361.0 51.2 362.5 50.4 364.0 49.1 365.5 48.0 366.4 46.5 367.1ZM88.5 362.1 87.5 362.3 86.5 362.1 85.5 361.5 84.5 360.5 83.4 359.0 82.3 357.0 81.7 355.5 81.1 353.5 81.1 352.5 81.2 351.0 82.0 346.8 82.6 343.0 83.1 333.5 83.4 331.0 83.7 329.5 84.0 328.5 84.5 327.6 85.0 327.4 85.5 327.5 86.0 327.9 86.5 328.6 87.0 329.6 88.0 332.1 90.3 338.5 91.3 342.0 92.3 345.5 92.9 349.0 93.0 351.5 92.9 353.5 92.7 355.5 92.1 357.5 91.2 359.5 90.5 360.6 89.5 361.6 88.5 362.1Z"/>
<path fill="#687cf2" fill-rule="evenodd" d="M45.5 366.0 44.5 366.0 43.0 365.7 41.5 364.7 40.3 363.5 39.3 362.0 38.7 360.5 38.4 359.0 38.3 357.0 38.3 355.0 38.6 352.0 39.3 347.5 39.9 345.0 41.5 340.0 42.2 337.5 42.7 334.5 43.3 329.0 43.7 327.0 44.0 325.9 44.5 325.1 45.0 325.0 45.5 325.8 46.0 327.5 46.4 330.0 46.9 334.5 47.5 337.5 48.2 340.0 49.9 344.5 50.8 347.5 51.3 351.0 51.5 354.5 51.5 357.0 51.3 358.5 50.8 360.5 50.2 362.0 49.3 363.5 48.0 364.9 47.5 365.3 46.5 365.8 45.5 366.0ZM88.5 361.0 87.5 361.2 86.5 360.9 85.5 360.3 84.7 359.5 83.7 358.0 82.8 356.0 82.4 354.5 82.1 353.0 82.1 351.5 82.3 349.5 83.5 343.3 84.5 337.2 85.0 335.4 85.5 334.5 86.0 334.3 86.5 334.6 87.0 335.1 87.5 335.8 88.5 337.7 89.8 340.5 90.9 343.5 91.7 346.0 92.1 348.0 92.4 350.0 92.5 352.0 92.4 354.0 92.1 355.5 91.7 357.0 91.3 358.0 90.4 359.5 89.5 360.4 88.5 361.0Z"/>
<path fill="#4c64f4" fill-rule="evenodd" d="M46.5 364.5 45.5 364.8 44.5 364.8 44.0 364.7 43.0 364.3 42.5 364.0 41.5 363.1 40.4 361.5 39.8 360.0 39.4 358.5 39.2 356.5 39.2 354.0 39.4 351.5 39.8 349.0 40.3 346.5 41.1 344.0 44.0 336.0 44.5 335.0 45.0 334.9 45.5 335.7 46.7 339.0 48.8 344.0 49.7 346.5 50.5 349.5 50.7 351.0 50.9 353.0 50.9 355.0 50.8 357.0 50.4 359.0 49.9 360.5 49.2 362.0 48.5 363.0 47.5 363.9 46.5 364.5ZM88.5 360.0 87.5 360.2 86.5 360.0 85.8 359.5 85.0 358.7 84.2 357.5 83.7 356.5 83.2 355.0 82.8 353.0 82.8 351.5 82.9 350.0 83.3 348.0 83.7 346.0 84.8 342.5 85.5 340.7 86.0 339.9 86.5 339.5 87.0 339.5 87.5 339.8 88.0 340.3 88.5 341.0 89.5 342.6 90.5 344.7 91.1 346.5 91.7 348.5 91.9 350.0 92.0 352.0 91.9 353.5 91.7 355.0 91.3 356.5 90.6 358.0 90.0 358.8 89.4 359.5 88.5 360.0Z"/>
<path fill="#3a54f6" fill-rule="evenodd" d="M46.0 363.6 45.0 363.8 44.0 363.6 43.0 363.0 41.9 362.0 41.3 361.0 40.6 359.5 40.1 357.5 40.0 355.5 40.0 353.0 40.2 350.5 40.7 348.0 41.3 346.0 42.2 343.5 43.5 341.1 44.0 340.4 44.5 340.0 45.0 339.9 45.5 340.2 46.5 341.4 48.0 344.1 48.8 346.0 49.8 349.0 50.2 351.0 50.3 353.0 50.3 355.0 50.2 356.5 49.9 358.5 49.4 360.0 48.9 361.0 48.0 362.3 47.0 363.2 46.0 363.6ZM88.5 359.1 88.0 359.3 87.0 359.3 86.0 358.8 85.2 358.0 84.6 357.0 84.1 356.0 83.6 354.5 83.4 353.0 83.4 351.5 83.6 349.5 83.9 348.0 84.3 346.5 85.0 344.8 85.5 343.9 86.0 343.2 86.5 342.7 87.0 342.5 87.5 342.6 88.0 342.8 88.5 343.3 89.0 343.8 89.8 345.0 90.3 346.0 90.9 347.5 91.2 349.0 91.5 350.5 91.5 352.0 91.5 353.5 91.2 355.0 90.9 356.0 90.5 357.0 89.9 358.0 89.0 358.9 88.5 359.1Z"/>
<path fill="#2a66f8" fill-rule="evenodd" d="M46.0 362.7 45.0 362.8 44.0 362.5 43.0 361.9 42.2 361.0 41.7 360.0 41.1 358.5 40.7 357.0 40.6 355.0 40.6 353.0 40.7 351.0 41.1 349.0 41.7 347.0 42.5 345.1 43.5 343.4 44.0 342.9 44.5 342.6 45.0 342.5 45.5 342.6 46.5 343.5 47.5 344.9 48.3 346.5 48.9 348.0 49.4 349.5 49.7 351.5 49.9 353.0 49.9 355.0 49.7 356.5 49.4 358.0 48.9 359.5 48.4 360.5 47.5 361.7 47.0 362.2 46.0 362.7ZM87.5 358.5 87.0 358.5 86.5 358.2 86.0 357.9 85.5 357.4 84.9 356.5 84.5 355.5 84.2 354.5 83.9 353.0 83.9 352.0 84.0 350.5 84.2 349.0 85.0 346.7 85.5 345.8 86.0 345.1 86.5 344.6 87.0 344.4 87.5 344.4 88.0 344.5 88.5 344.9 89.0 345.3 90.0 346.9 90.4 348.0 90.9 349.5 91.1 352.0 91.1 353.0 90.8 354.5 90.6 355.5 90.0 356.8 89.5 357.5 89.0 358.0 88.5 358.3 88.0 358.5 87.5 358.5Z"/>
<path fill="#1a8cf8" fill-rule="evenodd" d="M46.5 361.6 45.5 362.0 44.5 361.9 43.5 361.3 43.0 360.8 42.4 360.0 41.7 358.5 41.3 357.0 41.1 355.5 41.0 353.5 41.2 351.5 41.5 349.5 42.0 348.0 42.6 346.5 43.5 345.1 44.0 344.6 44.5 344.3 45.0 344.2 45.5 344.2 46.0 344.5 46.5 344.9 47.4 346.0 48.0 347.0 48.4 348.0 48.9 349.5 49.3 351.0 49.4 352.5 49.5 354.5 49.4 356.0 49.2 357.0 48.8 358.5 48.4 359.5 47.7 360.5 47.0 361.3 46.5 361.6ZM88.5 357.6 88.0 357.8 87.5 357.8 87.0 357.7 86.5 357.5 86.0 357.1 85.5 356.4 85.0 355.5 84.6 354.5 84.4 353.0 84.3 352.0 84.4 350.5 84.7 349.0 85.1 348.0 85.5 347.1 86.0 346.4 86.5 345.9 87.0 345.7 87.5 345.6 88.0 345.7 88.5 346.0 89.0 346.5 89.5 347.2 90.3 349.0 90.7 351.0 90.7 353.0 90.3 355.0 89.9 356.0 89.5 356.6 89.0 357.2 88.5 357.6Z"/>
<path fill="#20b8f0" fill-rule="evenodd" d="M46.0 361.2 45.0 361.3 44.5 361.2 43.5 360.5 43.0 359.9 42.4 359.0 41.9 357.5 41.6 356.5 41.5 355.0 41.4 353.5 41.6 351.5 41.9 350.0 42.3 348.5 42.7 347.5 43.5 346.3 44.0 345.8 44.5 345.5 45.0 345.3 45.5 345.4 46.0 345.6 46.5 346.0 47.0 346.5 47.7 347.5 48.2 348.5 48.7 350.0 49.0 351.5 49.2 353.0 49.2 354.5 49.0 356.0 48.7 357.5 48.4 358.5 47.5 360.0 47.0 360.6 46.0 361.2ZM88.0 357.1 87.5 357.2 87.0 357.0 86.5 356.8 85.8 356.0 85.5 355.5 85.1 354.5 84.8 353.5 84.7 352.5 84.8 350.5 85.1 349.5 85.5 348.3 86.0 347.5 86.5 347.0 87.0 346.7 87.5 346.6 88.0 346.7 88.5 347.0 89.0 347.5 89.5 348.3 90.1 350.0 90.3 351.5 90.2 353.5 89.8 355.0 89.5 355.7 89.0 356.4 88.5 356.9 88.0 357.1Z"/>
<path fill="#28d8c8" fill-rule="evenodd" d="M46.0 360.6 45.5 360.7 45.0 360.7 44.5 360.6 44.0 360.3 43.2 359.5 42.6 358.5 42.3 357.5 41.9 356.0 41.8 355.0 41.7 353.5 41.8 352.0 42.1 350.5 42.6 349.0 43.0 348.0 43.5 347.2 44.0 346.7 44.5 346.4 45.0 346.2 45.5 346.2 46.0 346.4 46.5 346.8 47.0 347.3 47.5 348.0 48.3 350.0 48.7 351.5 48.9 353.0 48.8 355.5 48.6 356.5 48.2 358.0 47.4 359.5 46.5 360.4 46.0 360.6ZM87.5 356.5 87.0 356.4 86.5 356.1 86.0 355.5 85.7 355.0 85.2 353.5 85.1 352.0 85.1 351.0 85.3 350.0 86.0 348.5 86.5 347.8 87.0 347.5 87.5 347.4 88.0 347.5 88.5 347.8 89.0 348.4 89.3 349.0 89.8 350.5 90.0 352.0 89.9 353.5 89.4 355.0 89.0 355.7 88.5 356.2 88.0 356.5 87.5 356.5Z"/>
<path fill="#40e280" fill-rule="evenodd" d="M46.0 360.1 45.5 360.2 45.0 360.2 44.5 360.0 44.0 359.7 43.5 359.2 43.0 358.4 42.6 357.5 42.3 356.5 42.1 355.0 42.0 353.5 42.1 352.0 42.3 351.0 42.8 349.5 43.2 348.5 44.0 347.5 44.5 347.1 45.0 346.9 45.5 346.9 46.0 347.1 46.5 347.5 47.3 348.5 47.8 349.5 48.2 350.5 48.4 351.5 48.6 353.0 48.6 354.5 48.5 355.5 48.1 357.5 47.6 358.5 47.0 359.4 46.5 359.8 46.0 360.1ZM88.5 355.5 88.0 355.8 87.5 355.9 87.0 355.8 86.5 355.4 85.9 354.5 85.5 353.0 85.4 352.0 85.5 351.0 86.0 349.5 86.5 348.7 87.0 348.3 87.5 348.2 88.0 348.3 88.5 348.6 88.8 349.0 89.3 350.0 89.6 351.0 89.6 352.5 89.5 353.5 89.0 354.9 88.5 355.5Z"/>
<path fill="#60e840" fill-rule="evenodd" d="M46.0 359.6 45.5 359.7 45.0 359.7 44.5 359.5 44.0 359.1 43.5 358.6 42.8 357.0 42.3 355.0 42.3 354.0 42.4 352.5 42.6 351.0 42.9 350.0 43.5 348.8 44.0 348.1 44.5 347.7 45.0 347.5 45.5 347.5 46.0 347.7 46.5 348.1 47.2 349.0 47.7 350.0 48.1 351.0 48.4 353.0 48.4 355.0 48.0 357.0 47.5 358.0 47.0 358.8 46.5 359.3 46.0 359.6ZM88.0 355.2 87.5 355.3 87.0 355.1 86.5 354.6 86.0 353.6 85.8 352.5 85.9 351.0 86.2 350.0 86.5 349.5 87.0 349.0 87.5 348.9 88.0 349.0 88.5 349.5 89.0 350.4 89.2 351.5 89.3 352.5 89.0 353.9 88.5 354.8 88.0 355.2Z"/>
<path fill="#a0ee28" fill-rule="evenodd" d="M46.0 359.2 45.5 359.3 45.0 359.3 44.5 359.0 43.9 358.5 43.5 358.0 43.1 357.0 42.8 356.0 42.6 355.0 42.5 354.0 42.6 352.5 43.0 350.5 43.5 349.5 44.0 348.7 44.5 348.3 45.0 348.1 45.5 348.1 46.0 348.2 46.5 348.6 47.0 349.2 47.4 350.0 47.8 351.0 48.2 353.0 48.1 355.0 47.7 357.0 47.0 358.3 46.5 358.9 46.0 359.2ZM87.5 354.6 87.0 354.4 86.5 353.7 86.3 353.0 86.2 352.0 86.4 351.0 86.5 350.5 87.0 349.9 87.5 349.7 88.0 349.8 88.5 350.4 88.7 351.0 88.9 352.0 88.8 353.0 88.5 353.9 88.0 354.5 87.5 354.6Z"/>
<path fill="#dcf010" fill-rule="evenodd" d="M46.0 358.6 45.5 358.8 45.0 358.7 44.5 358.5 44.0 358.0 43.5 357.2 43.2 356.5 42.9 355.0 42.9 353.0 43.3 351.0 43.5 350.4 44.0 349.5 44.5 349.0 45.0 348.7 45.5 348.7 46.0 348.9 46.5 349.3 47.0 350.0 47.6 351.5 47.9 353.0 47.9 355.0 47.5 356.5 47.0 357.6 46.5 358.3 46.0 358.6ZM87.5 353.3 87.2 353.0 87.0 352.6 87.0 352.0 87.1 351.5 87.5 351.0 88.0 351.4 88.1 352.0 88.0 353.0 87.5 353.3Z"/>
<path fill="#f8e000" fill-rule="evenodd" d="M46.0 358.1 45.5 358.2 45.0 358.2 44.5 357.9 44.1 357.5 43.5 356.3 43.1 354.5 43.2 352.5 43.6 351.0 44.0 350.2 44.5 349.6 45.0 349.3 45.5 349.3 46.0 349.5 46.5 349.9 47.0 350.7 47.4 352.0 47.6 353.5 47.6 355.0 47.2 356.5 46.6 357.5 46.0 358.1Z"/>
<path fill="#ffb000" fill-rule="evenodd" d="M46.0 357.5 45.5 357.7 45.0 357.6 44.5 357.3 44.0 356.6 43.7 356.0 43.4 354.5 43.4 353.5 43.5 352.5 44.0 351.0 44.5 350.3 45.0 349.9 45.5 349.9 46.0 350.1 46.5 350.6 46.8 351.0 47.1 352.0 47.4 353.5 47.3 355.0 47.1 356.0 46.5 357.1 46.0 357.5Z"/>
<path fill="#ff8000" fill-rule="evenodd" d="M45.5 357.2 45.0 357.1 44.4 356.5 43.9 355.5 43.7 354.0 43.8 352.5 44.2 351.5 44.5 350.9 45.0 350.5 45.5 350.4 46.0 350.7 46.6 351.5 47.0 352.6 47.1 354.0 47.0 355.1 46.5 356.4 46.0 357.0 45.5 357.2Z"/>
<path fill="#ff5000" fill-rule="evenodd" d="M46.0 356.2 45.5 356.5 45.0 356.3 44.5 355.8 44.1 354.5 44.1 353.0 44.4 352.0 45.0 351.3 45.5 351.2 46.0 351.5 46.3 352.0 46.6 352.5 46.7 353.5 46.6 355.0 46.5 355.5 46.0 356.2Z"/>
<path fill="#e82400" fill-rule="evenodd" d="M45.5 355.6 45.0 355.4 44.6 354.5 44.5 354.0 44.7 353.0 44.9 352.5 45.0 352.3 45.5 352.1 46.0 352.5 46.2 353.0 46.3 354.0 46.0 355.2 45.5 355.6Z"/></g>
</g>
<rect x="28.5" y="294.5" width="75.3" height="75.69999999999999" fill="none" stroke="#808080" stroke-width="0.8"/>
<line x1="59.5" y1="294.5" x2="59.5" y2="370.2" stroke="#2b3040" stroke-width="1.0"/>
<line x1="28.5" y1="345.5" x2="103.8" y2="345.5" stroke="#2b3040" stroke-width="1.0"/>
<rect x="29.7" y="297.5" width="10.4" height="5.6" fill="#fff" stroke="none" stroke-width="1"/>
<text x="30.3" y="302.1" font-size="5.5" text-rendering="geometricPrecision" text-anchor="start" font-weight="bold" stroke="#1a1a1a" stroke-width="0.25" fill="#1a1a1a">15.4</text>
<rect x="86.99999999999999" y="297.5" width="10.4" height="5.6" fill="#fff" stroke="none" stroke-width="1"/>
<text x="96.8" y="302.1" font-size="5.5" text-rendering="geometricPrecision" text-anchor="end" font-weight="bold" stroke="#1a1a1a" stroke-width="0.25" fill="#1a1a1a">11.7</text>
<rect x="29.7" y="361.09999999999997" width="10.4" height="5.6" fill="#fff" stroke="none" stroke-width="1"/>
<text x="30.3" y="365.7" font-size="5.5" text-rendering="geometricPrecision" text-anchor="start" font-weight="bold" stroke="#1a1a1a" stroke-width="0.25" fill="#1a1a1a">51.8</text>
<rect x="86.99999999999999" y="361.09999999999997" width="10.4" height="5.6" fill="#fff" stroke="none" stroke-width="1"/>
<text x="96.8" y="365.7" font-size="5.5" text-rendering="geometricPrecision" text-anchor="end" font-weight="bold" stroke="#1a1a1a" stroke-width="0.25" fill="#1a1a1a">21.1</text>
<clipPath id="fc01"><rect x="109.5" y="294.5" width="75.30000000000001" height="75.69999999999999"/></clipPath>
<g filter="url(#soft)">
<g clip-path="url(#fc01)"><path fill="#8c9cf0" d="M161 298h1v1h-1zM127 299h1v1h-1zM133 305h1v1h-1zM129 307h1v1h-1zM131 308h1v1h-1zM128 309h1v1h-1zM129 309h1v1h-1zM129 311h1v1h-1zM130 311h1v1h-1zM131 311h1v1h-1zM132 311h1v1h-1zM133 311h1v1h-1zM128 312h1v1h-1zM129 312h1v1h-1zM131 312h1v1h-1zM133 312h1v1h-1zM126 313h1v1h-1zM128 313h1v1h-1zM132 314h1v1h-1zM133 314h1v1h-1zM128 315h1v1h-1zM126 316h1v1h-1zM133 317h1v1h-1zM123 318h1v1h-1zM133 318h1v1h-1zM134 319h1v1h-1zM133 320h1v1h-1zM133 321h1v1h-1zM127 322h1v1h-1zM159 322h1v1h-1zM126 323h1v1h-1zM127 323h1v1h-1zM152 324h1v1h-1zM134 327h1v1h-1zM116 328h1v1h-1zM125 329h1v1h-1zM126 329h1v1h-1zM134 329h1v1h-1zM126 331h1v1h-1zM125 332h1v1h-1zM126 332h1v1h-1zM126 333h1v1h-1zM159 333h1v1h-1zM134 335h1v1h-1zM138 337h1v1h-1zM143 339h1v1h-1zM162 340h1v1h-1zM174 340h1v1h-1zM112 342h1v1h-1zM126 342h1v1h-1zM139 344h1v1h-1zM181 344h1v1h-1zM122 345h1v1h-1zM135 345h1v1h-1zM134 346h1v1h-1zM163 346h1v1h-1zM134 347h1v1h-1zM112 348h1v1h-1zM126 348h1v1h-1zM135 348h1v1h-1zM137 348h1v1h-1zM179 349h1v1h-1zM183 349h1v1h-1zM135 352h1v1h-1zM141 353h1v1h-1zM121 354h1v1h-1zM126 354h1v1h-1zM135 354h1v1h-1zM134 356h1v1h-1zM183 356h1v1h-1zM134 357h1v1h-1zM127 358h1v1h-1zM133 359h1v1h-1zM134 360h1v1h-1zM126 361h1v1h-1zM128 361h1v1h-1zM128 362h1v1h-1zM132 362h1v1h-1zM155 363h1v1h-1zM128 364h1v1h-1zM131 364h1v1h-1zM135 364h1v1h-1zM130 365h1v1h-1zM128 366h1v1h-1zM129 366h1v1h-1zM132 366h1v1h-1zM141 366h1v1h-1zM129 367h1v1h-1zM130 369h1v1h-1z"/>
<path fill="#c0c8f6" fill-rule="evenodd" d="M131.5 363.5 131.0 363.8 130.5 363.9 130.0 363.7 129.5 363.2 129.0 362.6 128.2 361.0 127.7 359.5 127.2 357.5 126.8 355.0 126.6 352.0 126.6 349.0 126.8 343.5 126.8 332.5 127.3 323.5 127.8 319.0 128.2 316.5 128.7 314.5 129.0 313.3 129.5 312.0 130.0 311.2 130.5 310.9 131.0 311.0 131.5 311.6 132.0 312.7 132.3 313.5 133.1 317.0 133.7 321.5 134.2 326.5 134.3 330.0 134.4 335.0 134.4 343.5 134.8 350.5 134.7 354.5 134.3 357.0 133.9 359.0 133.4 360.5 132.7 362.0 132.0 363.1 131.5 363.5Z"/>
<path fill="#a4b0f4" fill-rule="evenodd" d="M131.0 362.5 130.5 362.5 130.0 362.4 129.5 361.9 128.8 361.0 128.1 359.5 127.7 358.0 127.3 356.0 127.1 354.5 126.9 351.5 127.3 343.0 127.3 332.0 127.8 324.5 128.3 320.5 129.0 316.9 129.7 315.0 130.0 314.5 130.5 314.1 131.0 314.3 131.5 314.9 132.0 316.1 132.7 319.0 133.3 323.0 133.8 330.0 133.9 335.0 133.9 343.0 134.4 348.5 134.5 351.0 134.3 354.5 133.7 358.0 133.2 359.5 132.5 361.0 132.0 361.8 131.5 362.3 131.0 362.5Z"/>
<path fill="#8494f2" fill-rule="evenodd" d="M131.5 361.1 131.0 361.4 130.5 361.4 130.0 361.2 129.3 360.5 128.7 359.5 128.3 358.5 127.7 356.5 127.4 354.0 127.2 352.0 127.3 349.5 127.8 343.0 127.8 333.0 128.3 326.0 128.7 322.5 129.2 320.0 129.5 319.0 130.0 318.0 130.5 317.5 131.0 317.7 131.5 318.5 131.9 319.5 132.4 322.0 132.9 325.0 133.2 328.5 133.4 332.0 133.4 343.0 133.9 348.0 134.1 351.0 134.1 353.0 133.9 355.0 133.4 357.5 133.1 358.5 132.5 359.9 132.0 360.6 131.5 361.1Z"/>
<path fill="#687cf2" fill-rule="evenodd" d="M131.5 360.2 131.0 360.4 130.5 360.5 130.0 360.3 129.5 359.8 129.0 359.0 128.4 357.5 128.1 356.5 127.7 354.5 127.6 352.5 127.7 349.0 128.4 342.5 128.4 334.0 128.7 328.0 129.0 325.5 129.5 323.0 130.0 321.6 130.5 321.1 131.0 321.3 131.5 322.3 132.0 324.2 132.5 327.5 132.7 330.5 132.8 333.5 132.9 342.5 133.7 348.5 133.8 351.0 133.7 354.0 133.3 356.5 132.8 358.0 132.5 358.8 132.0 359.6 131.5 360.2Z"/>
<path fill="#4c64f4" fill-rule="evenodd" d="M131.0 359.6 130.5 359.6 130.0 359.4 129.5 358.9 128.8 357.5 128.3 356.0 128.1 355.0 127.8 352.0 127.9 350.0 128.1 348.0 128.7 344.0 128.9 342.0 129.0 334.5 129.2 330.0 129.5 327.7 129.8 326.5 130.0 325.7 130.5 325.0 131.0 325.3 131.5 326.7 132.0 329.9 132.3 334.5 132.3 342.0 132.5 343.5 133.3 348.0 133.5 351.5 133.3 354.5 132.8 357.0 132.0 358.7 131.5 359.3 131.0 359.6Z"/>
<path fill="#3a54f6" fill-rule="evenodd" d="M131.0 358.8 130.5 358.8 130.0 358.6 129.5 358.0 129.0 357.1 128.6 356.0 128.3 354.5 128.1 352.0 128.2 350.0 128.4 348.0 129.6 342.5 129.8 341.5 129.8 340.0 129.7 336.0 129.8 333.5 130.0 331.7 130.5 330.2 131.0 330.7 131.3 332.5 131.5 335.5 131.4 340.0 131.5 341.5 131.7 343.0 132.9 347.5 133.2 349.5 133.3 351.5 133.1 354.0 132.9 355.5 132.6 356.5 132.0 357.8 131.5 358.5 131.0 358.8Z"/>
<path fill="#2a66f8" fill-rule="evenodd" d="M131.0 358.1 130.5 358.1 130.0 357.8 129.5 357.2 129.2 356.5 128.6 354.5 128.4 352.0 128.5 349.5 128.9 347.0 129.5 345.2 130.0 344.1 130.5 343.6 131.0 343.7 131.5 344.5 132.0 345.7 132.7 348.5 133.0 351.0 132.9 353.5 132.5 355.5 132.0 357.0 131.5 357.7 131.0 358.1Z"/>
<path fill="#1a8cf8" fill-rule="evenodd" d="M131.0 357.4 130.5 357.4 130.0 357.1 129.5 356.4 128.9 354.5 128.7 352.5 128.7 350.0 129.0 348.0 129.3 347.0 129.7 346.0 130.0 345.5 130.5 345.1 131.0 345.2 131.5 345.8 132.0 346.9 132.5 349.0 132.7 351.0 132.7 353.0 132.4 355.0 131.8 356.5 131.5 357.0 131.0 357.4Z"/>
<path fill="#20b8f0" fill-rule="evenodd" d="M131.0 356.7 130.5 356.8 130.0 356.4 129.5 355.6 129.1 354.0 128.9 352.5 128.9 350.5 129.2 348.5 129.7 347.0 130.0 346.5 130.5 346.1 131.0 346.2 131.5 346.7 131.8 347.5 132.3 349.0 132.5 351.0 132.5 353.0 132.2 354.5 131.7 356.0 131.5 356.3 131.0 356.7Z"/>
<path fill="#28d8c8" fill-rule="evenodd" d="M131.0 356.1 130.5 356.2 130.0 355.8 129.8 355.5 129.4 354.5 129.1 352.5 129.1 350.5 129.4 349.0 130.0 347.4 130.5 346.9 131.0 347.0 131.5 347.6 132.0 349.0 132.3 351.0 132.2 353.0 132.0 354.4 131.5 355.6 131.0 356.1Z"/>
<path fill="#40e280" fill-rule="evenodd" d="M131.0 355.5 130.5 355.6 130.0 355.1 129.6 354.0 129.3 352.5 129.3 351.0 129.5 349.5 130.0 348.1 130.5 347.6 131.0 347.7 131.5 348.4 131.8 349.5 132.1 351.0 132.1 352.5 131.8 354.0 131.5 354.9 131.0 355.5Z"/>
<path fill="#60e840" fill-rule="evenodd" d="M130.5 355.0 130.0 354.4 129.8 354.0 129.6 353.0 129.5 351.5 129.6 350.5 129.8 349.5 130.0 348.9 130.5 348.3 131.0 348.4 131.5 349.2 131.8 350.5 131.9 351.5 131.8 353.0 131.5 354.2 131.0 354.9 130.5 355.0Z"/>
<path fill="#a0ee28" fill-rule="evenodd" d="M131.0 354.3 130.5 354.4 130.2 354.0 130.0 353.6 129.8 352.5 129.8 351.5 129.9 350.5 130.0 349.9 130.5 349.0 131.0 349.1 131.4 350.0 131.6 351.0 131.6 352.0 131.5 353.0 131.4 353.5 131.0 354.3Z"/>
<path fill="#dcf010" fill-rule="evenodd" d="M131.0 353.1 130.5 353.2 130.2 352.5 130.2 351.5 130.5 350.2 131.0 350.4 131.2 351.0 131.2 352.0 131.0 353.1Z"/></g>
</g>
<rect x="109.5" y="294.5" width="75.30000000000001" height="75.69999999999999" fill="none" stroke="#808080" stroke-width="0.8"/>
<line x1="134.5" y1="294.5" x2="134.5" y2="370.2" stroke="#2b3040" stroke-width="1.0"/>
<line x1="141.5" y1="294.5" x2="141.5" y2="370.2" stroke="#8a8a90" stroke-width="0.9"/>
<line x1="109.5" y1="346.0" x2="184.8" y2="346.0" stroke="#2b3040" stroke-width="1.0"/>
<rect x="110.7" y="297.5" width="10.4" height="5.6" fill="#fff" stroke="none" stroke-width="1"/>
<text x="111.3" y="302.1" font-size="5.5" text-rendering="geometricPrecision" text-anchor="start" fill="#1a1a1a">29.9</text>
<rect x="168.0" y="297.5" width="10.4" height="5.6" fill="#fff" stroke="none" stroke-width="1"/>
<text x="177.8" y="302.1" font-size="5.5" text-rendering="geometricPrecision" text-anchor="end" fill="#1a1a1a">1.33</text>
<rect x="110.7" y="361.09999999999997" width="10.4" height="5.6" fill="#fff" stroke="none" stroke-width="1"/>
<text x="111.3" y="365.7" font-size="5.5" text-rendering="geometricPrecision" text-anchor="start" fill="#1a1a1a">67.4</text>
<rect x="168.0" y="361.09999999999997" width="10.4" height="5.6" fill="#fff" stroke="none" stroke-width="1"/>
<text x="177.8" y="365.7" font-size="5.5" text-rendering="geometricPrecision" text-anchor="end" fill="#1a1a1a">1.33</text>
<clipPath id="fc02"><rect x="189.5" y="294.5" width="75.30000000000001" height="75.69999999999999"/></clipPath>
<g filter="url(#soft)">
<g clip-path="url(#fc02)"><path fill="#8c9cf0" d="M199 296h1v1h-1zM202 296h1v1h-1zM204 296h1v1h-1zM203 298h1v1h-1zM206 298h1v1h-1zM204 299h1v1h-1zM205 299h1v1h-1zM212 299h1v1h-1zM197 300h1v1h-1zM204 300h1v1h-1zM191 303h1v1h-1zM193 303h1v1h-1zM203 303h1v1h-1zM204 303h1v1h-1zM208 304h1v1h-1zM192 305h1v1h-1zM206 305h1v1h-1zM211 305h1v1h-1zM216 305h1v1h-1zM193 306h1v1h-1zM194 306h1v1h-1zM199 306h1v1h-1zM200 306h1v1h-1zM202 306h1v1h-1zM204 306h1v1h-1zM207 306h1v1h-1zM190 307h1v1h-1zM198 307h1v1h-1zM199 307h1v1h-1zM204 307h1v1h-1zM206 307h1v1h-1zM207 307h1v1h-1zM209 307h1v1h-1zM198 308h1v1h-1zM204 308h1v1h-1zM205 308h1v1h-1zM206 308h1v1h-1zM207 308h1v1h-1zM214 308h1v1h-1zM197 309h1v1h-1zM199 309h1v1h-1zM200 309h1v1h-1zM206 309h1v1h-1zM207 309h1v1h-1zM191 310h1v1h-1zM199 310h1v1h-1zM201 310h1v1h-1zM204 310h1v1h-1zM205 310h1v1h-1zM209 310h1v1h-1zM212 310h1v1h-1zM220 310h1v1h-1zM248 310h1v1h-1zM194 311h1v1h-1zM202 311h1v1h-1zM204 311h1v1h-1zM206 311h1v1h-1zM208 311h1v1h-1zM245 311h1v1h-1zM191 312h1v1h-1zM193 312h1v1h-1zM199 312h1v1h-1zM203 312h1v1h-1zM204 312h1v1h-1zM205 312h1v1h-1zM207 312h1v1h-1zM209 312h1v1h-1zM255 312h1v1h-1zM195 313h1v1h-1zM205 313h1v1h-1zM225 313h1v1h-1zM239 313h1v1h-1zM190 314h1v1h-1zM191 314h1v1h-1zM195 314h1v1h-1zM206 314h1v1h-1zM208 314h1v1h-1zM214 314h1v1h-1zM215 314h1v1h-1zM221 314h1v1h-1zM196 315h1v1h-1zM213 315h1v1h-1zM228 315h1v1h-1zM235 315h1v1h-1zM248 315h1v1h-1zM251 315h1v1h-1zM193 316h1v1h-1zM194 316h1v1h-1zM195 316h1v1h-1zM196 316h1v1h-1zM209 316h1v1h-1zM233 316h1v1h-1zM234 316h1v1h-1zM190 317h1v1h-1zM191 317h1v1h-1zM240 317h1v1h-1zM247 317h1v1h-1zM194 318h1v1h-1zM209 318h1v1h-1zM211 318h1v1h-1zM212 318h1v1h-1zM213 318h1v1h-1zM215 318h1v1h-1zM192 319h1v1h-1zM193 319h1v1h-1zM195 319h1v1h-1zM208 319h1v1h-1zM212 319h1v1h-1zM230 319h1v1h-1zM231 319h1v1h-1zM249 319h1v1h-1zM190 320h1v1h-1zM191 320h1v1h-1zM209 320h1v1h-1zM214 320h1v1h-1zM227 320h1v1h-1zM209 321h1v1h-1zM213 321h1v1h-1zM222 321h1v1h-1zM230 321h1v1h-1zM192 322h1v1h-1zM194 322h1v1h-1zM211 322h1v1h-1zM245 322h1v1h-1zM192 323h1v1h-1zM193 323h1v1h-1zM217 323h1v1h-1zM224 323h1v1h-1zM236 323h1v1h-1zM237 323h1v1h-1zM239 323h1v1h-1zM245 323h1v1h-1zM192 324h1v1h-1zM193 324h1v1h-1zM218 324h1v1h-1zM221 324h1v1h-1zM211 325h1v1h-1zM237 325h1v1h-1zM240 325h1v1h-1zM244 325h1v1h-1zM247 325h1v1h-1zM250 325h1v1h-1zM193 326h1v1h-1zM211 326h1v1h-1zM212 326h1v1h-1zM190 327h1v1h-1zM191 327h1v1h-1zM211 327h1v1h-1zM212 327h1v1h-1zM224 327h1v1h-1zM242 327h1v1h-1zM246 327h1v1h-1zM191 328h1v1h-1zM211 328h1v1h-1zM213 328h1v1h-1zM218 328h1v1h-1zM235 328h1v1h-1zM241 328h1v1h-1zM190 329h1v1h-1zM191 329h1v1h-1zM211 329h1v1h-1zM215 329h1v1h-1zM226 329h1v1h-1zM228 329h1v1h-1zM237 329h1v1h-1zM192 330h1v1h-1zM214 330h1v1h-1zM223 330h1v1h-1zM226 330h1v1h-1zM229 330h1v1h-1zM230 330h1v1h-1zM237 330h1v1h-1zM240 330h1v1h-1zM247 330h1v1h-1zM253 330h1v1h-1zM191 331h1v1h-1zM211 331h1v1h-1zM212 331h1v1h-1zM218 331h1v1h-1zM235 331h1v1h-1zM238 331h1v1h-1zM247 331h1v1h-1zM190 332h1v1h-1zM191 332h1v1h-1zM211 332h1v1h-1zM213 332h1v1h-1zM217 332h1v1h-1zM226 332h1v1h-1zM228 332h1v1h-1zM229 332h1v1h-1zM236 332h1v1h-1zM192 333h1v1h-1zM215 333h1v1h-1zM227 333h1v1h-1zM229 333h1v1h-1zM234 333h1v1h-1zM249 333h1v1h-1zM250 333h1v1h-1zM258 333h1v1h-1zM212 334h1v1h-1zM237 334h1v1h-1zM260 334h1v1h-1zM190 335h1v1h-1zM191 335h1v1h-1zM232 335h1v1h-1zM237 335h1v1h-1zM190 336h1v1h-1zM214 336h1v1h-1zM228 336h1v1h-1zM241 336h1v1h-1zM246 336h1v1h-1zM261 336h1v1h-1zM262 336h1v1h-1zM191 337h1v1h-1zM212 337h1v1h-1zM213 337h1v1h-1zM217 337h1v1h-1zM231 337h1v1h-1zM190 338h1v1h-1zM191 338h1v1h-1zM212 338h1v1h-1zM191 339h1v1h-1zM240 339h1v1h-1zM250 339h1v1h-1zM191 340h1v1h-1zM212 340h1v1h-1zM238 340h1v1h-1zM258 340h1v1h-1zM262 340h1v1h-1zM190 341h1v1h-1zM212 341h1v1h-1zM213 341h1v1h-1zM229 341h1v1h-1zM213 342h1v1h-1zM214 342h1v1h-1zM215 342h1v1h-1zM190 343h1v1h-1zM191 343h1v1h-1zM215 343h1v1h-1zM219 343h1v1h-1zM190 344h1v1h-1zM212 344h1v1h-1zM234 344h1v1h-1zM190 345h1v1h-1zM212 345h1v1h-1zM214 345h1v1h-1zM242 345h1v1h-1zM233 346h1v1h-1zM190 347h1v1h-1zM219 347h1v1h-1zM191 348h1v1h-1zM213 348h1v1h-1zM214 348h1v1h-1zM221 348h1v1h-1zM191 349h1v1h-1zM213 349h1v1h-1zM190 351h1v1h-1zM191 351h1v1h-1zM212 351h1v1h-1zM213 351h1v1h-1zM191 352h1v1h-1zM212 352h1v1h-1zM192 353h1v1h-1zM212 353h1v1h-1zM215 353h1v1h-1zM192 354h1v1h-1zM212 354h1v1h-1zM190 355h1v1h-1zM191 355h1v1h-1zM192 355h1v1h-1zM192 356h1v1h-1zM211 356h1v1h-1zM212 356h1v1h-1zM213 356h1v1h-1zM191 357h1v1h-1zM211 357h1v1h-1zM212 357h1v1h-1zM211 358h1v1h-1zM228 358h1v1h-1zM190 359h1v1h-1zM191 359h1v1h-1zM193 359h1v1h-1zM190 360h1v1h-1zM193 360h1v1h-1zM214 360h1v1h-1zM211 361h1v1h-1zM212 361h1v1h-1zM214 361h1v1h-1zM238 361h1v1h-1zM211 362h1v1h-1zM191 363h1v1h-1zM193 363h1v1h-1zM190 364h1v1h-1zM193 364h1v1h-1zM210 364h1v1h-1zM212 364h1v1h-1zM194 365h1v1h-1zM209 365h1v1h-1zM212 365h1v1h-1zM190 366h1v1h-1zM209 366h1v1h-1zM191 367h1v1h-1zM208 367h1v1h-1zM209 367h1v1h-1zM211 367h1v1h-1zM192 368h1v1h-1zM195 368h1v1h-1zM196 368h1v1h-1zM209 368h1v1h-1zM194 369h1v1h-1zM207 369h1v1h-1zM209 369h1v1h-1zM215 369h1v1h-1z"/>
<path fill="#c0c8f6" fill-rule="evenodd" d="M202.5 376.1 201.5 376.1 200.5 375.8 199.5 375.2 198.5 374.3 197.5 373.1 196.5 371.4 195.6 369.5 194.8 367.5 194.1 365.5 193.3 362.5 192.3 357.0 191.6 351.0 191.4 347.5 191.3 344.0 191.4 337.5 191.7 334.0 192.1 330.5 192.6 327.0 193.1 324.5 194.3 320.0 195.2 317.5 196.0 315.6 197.0 313.7 197.8 312.5 199.0 311.2 200.0 310.5 201.0 310.0 202.0 309.9 203.0 310.0 204.0 310.5 205.0 311.2 206.2 312.5 207.0 313.7 208.0 315.6 208.8 317.5 209.7 320.0 210.4 322.5 211.2 325.5 212.1 331.0 212.7 337.5 212.9 343.5 212.8 349.5 212.3 355.0 211.4 360.5 210.2 365.0 209.4 367.5 208.6 369.5 207.6 371.5 206.6 373.0 205.5 374.4 204.5 375.2 203.5 375.8 202.5 376.1Z"/>
<path fill="#a4b0f4" fill-rule="evenodd" d="M203.0 371.6 202.0 371.7 201.0 371.4 200.0 370.8 199.1 370.0 198.3 369.0 197.5 367.7 196.6 366.0 196.0 364.5 194.8 360.5 193.8 355.5 193.2 350.5 192.8 344.5 192.9 339.0 193.4 333.5 194.2 328.0 195.4 323.5 196.0 321.5 196.9 319.5 197.7 318.0 198.5 316.8 199.3 316.0 200.0 315.4 201.0 314.9 202.0 314.7 203.0 314.9 204.0 315.4 204.7 316.0 205.5 316.8 206.3 318.0 207.0 319.3 207.8 321.0 208.5 323.0 209.8 327.5 210.8 332.5 211.3 335.5 211.6 339.0 211.9 344.0 211.9 349.5 211.4 354.5 210.7 358.5 209.7 362.5 208.3 366.0 207.5 367.6 206.5 369.1 206.0 369.7 205.0 370.7 204.0 371.3 203.0 371.6Z"/>
<path fill="#8494f2" fill-rule="evenodd" d="M204.5 368.1 203.5 368.4 202.5 368.4 202.0 368.3 201.0 367.7 200.2 367.0 199.5 366.2 198.2 364.0 197.3 362.0 196.8 360.5 195.7 356.5 195.1 352.5 194.6 347.5 194.5 342.5 194.7 337.5 195.3 333.0 196.2 328.5 196.8 326.5 197.5 324.6 198.3 323.0 198.9 322.0 199.5 321.3 200.5 320.4 201.0 320.2 202.0 319.9 203.0 320.1 203.5 320.4 204.0 320.7 205.0 321.7 206.0 323.1 206.5 324.0 207.9 327.0 209.2 331.0 210.2 335.0 210.8 339.0 211.2 343.5 211.2 348.0 210.9 352.5 210.3 356.5 209.7 359.5 208.7 362.5 207.5 365.0 206.8 366.0 206.0 367.0 205.0 367.8 204.5 368.1Z"/>
<path fill="#687cf2" fill-rule="evenodd" d="M204.5 366.2 204.0 366.3 203.0 366.4 202.5 366.2 201.5 365.7 200.7 365.0 200.0 364.1 198.8 362.0 197.7 359.0 196.8 355.5 196.2 351.5 195.9 347.5 195.9 343.0 196.2 338.5 196.8 334.5 197.7 331.0 198.2 329.5 198.8 328.0 199.5 326.8 200.0 326.1 201.0 325.2 202.0 324.7 202.5 324.7 203.0 324.7 204.0 325.1 205.0 325.8 205.5 326.3 206.7 328.0 207.9 330.5 208.8 333.0 209.8 337.0 210.3 340.5 210.7 344.5 210.7 348.5 210.4 352.5 209.8 356.0 209.3 358.5 208.2 361.5 207.2 363.5 206.0 365.1 205.5 365.6 204.5 366.2Z"/>
<path fill="#4c64f4" fill-rule="evenodd" d="M204.5 364.7 204.0 364.8 203.0 364.8 202.5 364.6 201.6 364.0 201.0 363.4 200.3 362.5 199.3 360.5 198.4 358.0 197.6 355.0 197.1 352.0 196.8 348.0 196.8 344.0 197.1 340.0 197.6 336.5 198.2 334.0 198.7 332.5 199.4 331.0 200.5 329.1 201.5 328.1 202.0 327.8 203.0 327.5 204.0 327.7 205.0 328.2 205.5 328.7 206.0 329.2 206.9 330.5 207.8 332.5 208.7 335.0 209.3 337.5 209.8 340.5 210.2 345.0 210.2 349.0 209.9 352.5 209.3 356.0 208.8 358.0 207.9 360.5 207.0 362.3 206.0 363.6 205.5 364.1 204.5 364.7Z"/>
<path fill="#3a54f6" fill-rule="evenodd" d="M204.0 363.5 203.0 363.4 202.5 363.2 201.5 362.4 200.4 361.0 199.5 359.0 198.7 356.5 198.1 354.0 197.6 350.5 197.5 347.0 197.5 343.5 197.8 340.5 198.3 337.5 199.1 334.5 200.0 332.4 201.0 330.8 202.0 329.9 202.5 329.6 203.5 329.4 204.5 329.7 205.5 330.4 206.0 331.0 207.0 332.5 207.9 334.5 208.7 337.0 209.2 339.5 209.7 343.0 209.8 346.0 209.8 349.5 209.4 353.0 208.9 356.0 208.3 358.0 207.5 360.0 206.5 361.7 205.5 362.8 205.0 363.2 204.0 363.5Z"/>
<path fill="#2a66f8" fill-rule="evenodd" d="M205.0 362.1 204.5 362.3 203.5 362.4 202.5 362.0 201.5 361.1 200.5 359.5 199.6 357.5 198.8 354.5 198.3 351.5 198.1 348.5 198.0 345.0 198.2 342.0 198.7 339.0 199.3 336.5 200.2 334.0 201.1 332.5 202.0 331.5 202.5 331.2 203.5 330.9 204.5 331.1 205.5 331.8 206.5 333.1 207.5 335.0 208.2 337.0 208.8 339.5 209.3 342.5 209.4 345.0 209.5 348.0 209.3 351.0 208.9 354.0 208.4 356.0 207.8 358.0 207.0 359.8 206.0 361.2 205.0 362.1Z"/>
<path fill="#1a8cf8" fill-rule="evenodd" d="M205.0 361.1 204.5 361.3 204.0 361.4 203.5 361.4 203.0 361.2 202.0 360.5 200.9 359.0 200.0 357.0 199.3 354.5 198.8 351.5 198.5 349.0 198.5 346.0 198.6 343.0 199.0 340.0 199.6 337.5 200.5 335.1 201.5 333.5 202.0 332.9 202.5 332.5 203.0 332.3 203.5 332.2 204.0 332.2 204.5 332.3 205.5 333.0 206.5 334.3 207.1 335.5 207.9 337.5 208.4 339.5 208.8 342.0 209.1 345.0 209.2 347.5 209.1 350.0 208.8 352.5 208.3 355.0 207.7 357.0 206.8 359.0 206.0 360.2 205.0 361.1Z"/>
<path fill="#20b8f0" fill-rule="evenodd" d="M204.0 360.6 203.5 360.5 203.0 360.3 202.0 359.5 201.0 358.0 200.4 356.5 199.8 354.5 199.3 352.0 198.9 349.0 198.9 346.5 199.0 344.0 199.2 341.5 199.7 339.0 200.3 337.0 201.0 335.5 202.0 334.1 202.5 333.6 203.0 333.3 203.5 333.2 204.0 333.2 204.5 333.3 205.0 333.6 206.0 334.6 206.8 336.0 207.5 337.5 208.2 340.0 208.5 342.0 208.8 344.5 208.9 347.0 208.8 349.5 208.6 352.0 208.2 354.0 207.5 356.5 206.9 358.0 206.0 359.4 205.0 360.3 204.5 360.5 204.0 360.6Z"/>
<path fill="#28d8c8" fill-rule="evenodd" d="M205.0 359.6 204.5 359.8 204.0 359.8 203.5 359.8 203.0 359.5 202.5 359.2 202.0 358.6 201.3 357.5 200.5 355.5 199.8 353.0 199.4 350.5 199.2 348.0 199.2 345.5 199.4 343.0 199.8 340.5 200.5 338.0 201.1 336.5 202.0 335.1 202.5 334.6 203.0 334.3 203.5 334.1 204.0 334.1 204.5 334.2 205.0 334.4 205.5 334.9 206.5 336.2 207.1 337.5 207.8 339.5 208.2 341.5 208.5 344.0 208.7 346.0 208.7 348.0 208.6 350.0 208.3 352.5 207.8 354.5 207.2 356.5 206.5 357.9 206.0 358.6 205.5 359.2 205.0 359.6Z"/>
<path fill="#40e280" fill-rule="evenodd" d="M204.5 359.1 204.0 359.2 203.5 359.1 203.0 358.8 202.5 358.4 201.8 357.5 201.0 356.0 200.4 354.0 200.0 352.0 199.7 350.0 199.5 347.5 199.6 345.0 199.8 342.5 200.2 340.5 200.8 338.5 201.4 337.0 202.0 336.0 202.5 335.5 203.0 335.1 203.5 334.9 204.0 334.8 204.5 334.9 205.0 335.2 205.5 335.6 206.0 336.2 206.5 337.0 207.1 338.5 207.7 340.5 208.1 342.5 208.4 344.5 208.5 346.5 208.4 349.0 208.3 351.0 207.8 353.5 207.4 355.0 206.8 356.5 206.0 358.0 205.5 358.5 205.0 358.9 204.5 359.1Z"/>
<path fill="#60e840" fill-rule="evenodd" d="M204.5 358.5 204.0 358.6 203.5 358.5 202.8 358.0 202.0 357.1 201.2 355.5 200.7 354.0 200.2 352.0 199.9 349.5 199.8 347.5 199.9 345.0 200.1 343.0 200.4 341.0 201.0 339.0 201.6 337.5 202.5 336.3 203.0 335.8 203.5 335.6 204.0 335.5 204.5 335.6 205.0 335.9 205.5 336.3 206.4 337.5 207.0 338.9 207.4 340.0 207.8 342.0 208.2 344.5 208.3 346.5 208.3 348.5 208.1 350.5 207.8 352.5 207.3 354.5 206.8 356.0 206.0 357.4 205.5 357.9 205.0 358.3 204.5 358.5Z"/>
<path fill="#a0ee28" fill-rule="evenodd" d="M204.0 358.0 203.5 357.9 203.0 357.6 202.5 357.1 201.8 356.0 201.2 354.5 200.7 353.0 200.4 351.0 200.1 349.0 200.1 347.0 200.1 345.0 200.4 343.0 200.7 341.0 201.2 339.5 201.8 338.0 202.5 337.0 203.1 336.5 203.5 336.3 204.0 336.2 204.5 336.2 205.0 336.5 205.5 336.9 206.3 338.0 206.9 339.5 207.4 341.0 207.8 343.0 208.0 345.0 208.1 347.0 208.1 349.0 207.8 351.5 207.4 353.5 206.9 355.0 206.2 356.5 205.5 357.4 205.0 357.8 204.5 358.0 204.0 358.0Z"/>
<path fill="#dcf010" fill-rule="evenodd" d="M205.0 357.1 204.5 357.3 204.0 357.4 203.5 357.2 202.7 356.5 202.0 355.5 201.4 354.0 201.0 352.5 200.6 350.5 200.4 348.5 200.4 346.5 200.6 344.0 200.9 342.0 201.3 340.5 201.9 339.0 202.5 337.9 203.0 337.4 203.5 337.1 204.0 336.9 204.5 337.0 205.0 337.2 205.5 337.7 206.0 338.4 206.5 339.3 207.0 340.5 207.4 342.0 207.7 344.0 207.9 346.0 207.8 349.5 207.6 351.0 207.2 353.0 206.8 354.5 206.3 355.5 205.5 356.7 205.0 357.1Z"/>
<path fill="#f8e000" fill-rule="evenodd" d="M205.0 356.5 204.5 356.7 204.0 356.7 203.5 356.5 202.9 356.0 202.2 355.0 201.6 353.5 201.2 352.0 200.9 350.0 200.7 348.5 200.7 346.5 200.8 344.5 201.1 342.5 201.5 341.0 202.0 339.7 202.5 338.8 203.2 338.0 203.5 337.8 204.0 337.7 204.5 337.7 205.0 337.9 205.5 338.4 206.0 339.1 206.5 340.0 206.8 341.0 207.2 342.5 207.5 344.0 207.7 346.0 207.7 348.0 207.6 349.5 207.1 352.5 206.7 354.0 206.2 355.0 205.5 356.1 205.0 356.5Z"/>
<path fill="#ffb000" fill-rule="evenodd" d="M204.5 356.1 204.0 356.1 203.7 356.0 203.0 355.5 202.5 354.8 202.1 354.0 201.6 352.5 201.3 351.0 201.0 348.0 201.0 346.5 201.1 344.5 201.3 343.0 201.7 341.5 202.1 340.5 202.6 339.5 203.0 338.9 203.5 338.5 204.0 338.3 204.5 338.3 205.0 338.6 205.5 339.1 205.8 339.5 206.3 340.5 206.7 341.5 207.1 343.0 207.3 344.5 207.5 346.5 207.5 348.5 207.3 350.0 207.1 351.5 206.7 353.0 206.4 354.0 205.8 355.0 205.5 355.5 205.0 355.9 204.5 356.1Z"/>
<path fill="#ff8000" fill-rule="evenodd" d="M204.5 355.6 204.0 355.6 203.5 355.3 203.0 354.8 202.3 353.5 201.9 352.5 201.5 351.0 201.2 348.0 201.3 345.0 201.5 343.5 201.9 342.0 202.5 340.5 203.0 339.6 203.5 339.2 204.0 338.9 204.5 339.0 205.0 339.2 205.5 339.7 206.2 341.0 206.6 342.0 207.0 343.5 207.3 346.5 207.2 349.5 207.0 351.0 206.6 352.5 206.1 354.0 205.5 354.9 205.0 355.4 204.5 355.6Z"/>
<path fill="#ff5000" fill-rule="evenodd" d="M205.0 354.7 204.5 354.9 204.0 354.9 203.4 354.5 202.7 353.5 202.3 352.5 202.0 351.5 201.7 350.0 201.5 348.5 201.6 345.5 201.8 344.0 202.1 342.5 202.5 341.4 203.0 340.5 203.5 340.0 204.0 339.7 204.5 339.7 205.0 339.9 205.5 340.4 206.0 341.3 206.4 342.5 206.7 343.5 207.0 346.0 207.0 349.0 206.6 351.5 206.0 353.4 205.5 354.2 205.0 354.7Z"/>
<path fill="#e82400" fill-rule="evenodd" d="M205.0 354.0 204.5 354.3 204.0 354.2 203.5 353.9 203.0 353.3 202.5 352.2 202.2 351.0 201.9 349.5 201.8 348.0 201.8 346.5 201.9 345.0 202.2 343.5 202.5 342.4 203.0 341.4 203.5 340.7 204.0 340.4 204.5 340.4 205.0 340.6 205.5 341.2 206.0 342.1 206.5 344.0 206.8 346.5 206.8 349.0 206.5 351.0 206.0 352.6 205.5 353.5 205.0 354.0Z"/></g>
</g>
<rect x="189.5" y="294.5" width="75.30000000000001" height="75.69999999999999" fill="none" stroke="#808080" stroke-width="0.8"/>
<line x1="212.5" y1="294.5" x2="212.5" y2="370.2" stroke="#2b3040" stroke-width="1.0"/>
<line x1="189.5" y1="345.5" x2="264.8" y2="345.5" stroke="#2b3040" stroke-width="1.0"/>
<rect x="190.70000000000002" y="297.5" width="10.4" height="5.6" fill="#fff" stroke="none" stroke-width="1"/>
<text x="191.3" y="302.1" font-size="5.5" text-rendering="geometricPrecision" text-anchor="start" fill="#1a1a1a">41.1</text>
<rect x="248.0" y="297.5" width="10.4" height="5.6" fill="#fff" stroke="none" stroke-width="1"/>
<text x="257.8" y="302.1" font-size="5.5" text-rendering="geometricPrecision" text-anchor="end" fill="#1a1a1a">1.28</text>
<rect x="190.70000000000002" y="361.09999999999997" width="10.4" height="5.6" fill="#fff" stroke="none" stroke-width="1"/>
<text x="191.3" y="365.7" font-size="5.5" text-rendering="geometricPrecision" text-anchor="start" fill="#1a1a1a">57.1</text>
<rect x="248.0" y="361.09999999999997" width="10.4" height="5.6" fill="#fff" stroke="none" stroke-width="1"/>
<text x="257.8" y="365.7" font-size="5.5" text-rendering="geometricPrecision" text-anchor="end" fill="#1a1a1a">0.52</text>
<clipPath id="fc10"><rect x="28.5" y="376.5" width="75.3" height="75.69999999999999"/></clipPath>
<g filter="url(#soft)">
<g clip-path="url(#fc10)"><path fill="#8c9cf0" d="M58 377h1v1h-1zM92 382h1v1h-1zM45 383h1v1h-1zM32 384h1v1h-1zM52 384h1v1h-1zM49 385h1v1h-1zM66 386h1v1h-1zM74 386h1v1h-1zM35 387h1v1h-1zM65 388h1v1h-1zM79 388h1v1h-1zM58 389h1v1h-1zM44 392h1v1h-1zM34 393h1v1h-1zM60 393h1v1h-1zM92 393h1v1h-1zM38 394h1v1h-1zM42 394h1v1h-1zM63 394h1v1h-1zM46 395h1v1h-1zM56 395h1v1h-1zM64 395h1v1h-1zM91 395h1v1h-1zM31 396h1v1h-1zM62 396h1v1h-1zM75 397h1v1h-1zM70 398h1v1h-1zM90 398h1v1h-1zM98 398h1v1h-1zM39 399h1v1h-1zM69 399h1v1h-1zM82 399h1v1h-1zM44 400h1v1h-1zM40 401h1v1h-1zM47 401h1v1h-1zM54 401h1v1h-1zM76 401h1v1h-1zM83 401h1v1h-1zM86 401h1v1h-1zM87 401h1v1h-1zM89 401h1v1h-1zM41 402h1v1h-1zM48 402h1v1h-1zM46 403h1v1h-1zM48 403h1v1h-1zM49 403h1v1h-1zM51 403h1v1h-1zM56 403h1v1h-1zM64 403h1v1h-1zM70 403h1v1h-1zM42 404h1v1h-1zM44 404h1v1h-1zM46 404h1v1h-1zM43 405h1v1h-1zM46 405h1v1h-1zM48 405h1v1h-1zM49 405h1v1h-1zM62 405h1v1h-1zM75 405h1v1h-1zM46 406h1v1h-1zM49 406h1v1h-1zM52 406h1v1h-1zM55 406h1v1h-1zM40 407h1v1h-1zM41 407h1v1h-1zM43 407h1v1h-1zM46 407h1v1h-1zM47 407h1v1h-1zM48 407h1v1h-1zM50 407h1v1h-1zM51 407h1v1h-1zM54 407h1v1h-1zM57 407h1v1h-1zM95 407h1v1h-1zM44 408h1v1h-1zM45 408h1v1h-1zM46 408h1v1h-1zM47 408h1v1h-1zM48 408h1v1h-1zM52 408h1v1h-1zM53 408h1v1h-1zM65 408h1v1h-1zM91 408h1v1h-1zM45 409h1v1h-1zM50 409h1v1h-1zM52 409h1v1h-1zM53 409h1v1h-1zM93 409h1v1h-1zM96 409h1v1h-1zM52 410h1v1h-1zM55 410h1v1h-1zM88 410h1v1h-1zM91 410h1v1h-1zM92 410h1v1h-1zM93 410h1v1h-1zM58 411h1v1h-1zM59 411h1v1h-1zM88 411h1v1h-1zM92 411h1v1h-1zM93 411h1v1h-1zM32 412h1v1h-1zM43 412h1v1h-1zM51 412h1v1h-1zM52 412h1v1h-1zM54 412h1v1h-1zM94 412h1v1h-1zM35 413h1v1h-1zM41 413h1v1h-1zM42 413h1v1h-1zM52 413h1v1h-1zM56 413h1v1h-1zM57 413h1v1h-1zM85 413h1v1h-1zM87 413h1v1h-1zM90 413h1v1h-1zM91 413h1v1h-1zM92 413h1v1h-1zM40 414h1v1h-1zM42 414h1v1h-1zM57 414h1v1h-1zM67 414h1v1h-1zM77 414h1v1h-1zM84 414h1v1h-1zM89 414h1v1h-1zM90 414h1v1h-1zM91 414h1v1h-1zM92 414h1v1h-1zM95 414h1v1h-1zM42 415h1v1h-1zM56 415h1v1h-1zM66 415h1v1h-1zM72 415h1v1h-1zM92 415h1v1h-1zM95 415h1v1h-1zM39 416h1v1h-1zM41 416h1v1h-1zM53 416h1v1h-1zM54 416h1v1h-1zM89 416h1v1h-1zM92 416h1v1h-1zM93 416h1v1h-1zM95 416h1v1h-1zM85 417h1v1h-1zM88 417h1v1h-1zM93 417h1v1h-1zM95 417h1v1h-1zM37 418h1v1h-1zM54 418h1v1h-1zM93 418h1v1h-1zM96 418h1v1h-1zM38 419h1v1h-1zM40 419h1v1h-1zM53 419h1v1h-1zM54 419h1v1h-1zM76 419h1v1h-1zM88 419h1v1h-1zM93 419h1v1h-1zM95 419h1v1h-1zM38 420h1v1h-1zM53 420h1v1h-1zM36 421h1v1h-1zM40 421h1v1h-1zM54 421h1v1h-1zM65 421h1v1h-1zM83 421h1v1h-1zM86 421h1v1h-1zM87 421h1v1h-1zM96 421h1v1h-1zM97 421h1v1h-1zM36 422h1v1h-1zM39 422h1v1h-1zM54 422h1v1h-1zM55 422h1v1h-1zM60 422h1v1h-1zM94 422h1v1h-1zM38 423h1v1h-1zM40 423h1v1h-1zM58 423h1v1h-1zM60 423h1v1h-1zM35 424h1v1h-1zM38 424h1v1h-1zM39 424h1v1h-1zM40 424h1v1h-1zM63 424h1v1h-1zM70 424h1v1h-1zM72 424h1v1h-1zM86 424h1v1h-1zM95 424h1v1h-1zM31 425h1v1h-1zM39 425h1v1h-1zM40 425h1v1h-1zM61 425h1v1h-1zM87 425h1v1h-1zM37 426h1v1h-1zM77 426h1v1h-1zM37 427h1v1h-1zM38 427h1v1h-1zM55 427h1v1h-1zM82 427h1v1h-1zM84 427h1v1h-1zM85 427h1v1h-1zM37 428h1v1h-1zM55 428h1v1h-1zM70 428h1v1h-1zM95 428h1v1h-1zM38 429h1v1h-1zM60 429h1v1h-1zM55 430h1v1h-1zM35 431h1v1h-1zM55 431h1v1h-1zM56 431h1v1h-1zM58 431h1v1h-1zM61 431h1v1h-1zM70 431h1v1h-1zM96 431h1v1h-1zM55 432h1v1h-1zM77 432h1v1h-1zM78 432h1v1h-1zM34 433h1v1h-1zM35 433h1v1h-1zM85 433h1v1h-1zM96 433h1v1h-1zM39 434h1v1h-1zM78 434h1v1h-1zM86 434h1v1h-1zM87 434h1v1h-1zM58 435h1v1h-1zM60 435h1v1h-1zM86 435h1v1h-1zM40 436h1v1h-1zM62 436h1v1h-1zM95 436h1v1h-1zM98 436h1v1h-1zM40 438h1v1h-1zM55 438h1v1h-1zM80 439h1v1h-1zM88 439h1v1h-1zM89 439h1v1h-1zM33 440h1v1h-1zM35 440h1v1h-1zM53 440h1v1h-1zM76 440h1v1h-1zM88 440h1v1h-1zM91 440h1v1h-1zM52 441h1v1h-1zM55 441h1v1h-1zM92 441h1v1h-1zM32 442h1v1h-1zM41 442h1v1h-1zM43 442h1v1h-1zM54 442h1v1h-1zM89 442h1v1h-1zM102 442h1v1h-1zM42 443h1v1h-1zM44 443h1v1h-1zM50 443h1v1h-1zM51 443h1v1h-1zM74 443h1v1h-1zM87 443h1v1h-1zM91 443h1v1h-1zM97 443h1v1h-1zM36 444h1v1h-1zM41 444h1v1h-1zM46 444h1v1h-1zM47 444h1v1h-1zM49 444h1v1h-1zM53 444h1v1h-1zM54 444h1v1h-1zM91 444h1v1h-1zM93 444h1v1h-1zM94 444h1v1h-1zM34 445h1v1h-1zM42 445h1v1h-1zM46 445h1v1h-1zM48 445h1v1h-1zM49 445h1v1h-1zM76 445h1v1h-1zM87 445h1v1h-1zM49 446h1v1h-1zM50 446h1v1h-1zM47 447h1v1h-1zM58 447h1v1h-1zM102 449h1v1h-1zM38 450h1v1h-1zM50 451h1v1h-1zM58 451h1v1h-1z"/>
<path fill="#c0c8f6" fill-rule="evenodd" d="M49.0 444.6 48.0 444.8 47.0 444.8 45.5 444.4 44.5 443.8 44.0 443.4 42.7 442.0 41.8 440.5 40.7 438.0 40.1 435.5 39.8 433.5 39.7 432.0 39.7 428.5 40.2 424.5 41.4 417.5 42.4 413.5 43.3 411.0 44.5 409.1 45.0 408.5 46.0 407.7 47.0 407.3 47.5 407.2 48.0 407.3 49.0 407.7 50.0 408.5 51.1 410.0 51.7 411.0 52.3 412.5 53.2 415.5 53.8 418.5 54.9 425.0 55.2 427.5 55.3 429.5 55.3 432.0 55.1 434.5 54.8 436.0 54.4 437.5 53.7 439.5 52.6 441.5 51.5 442.9 50.5 443.8 49.0 444.6ZM91.5 441.1 91.0 441.0 90.5 440.9 89.9 440.5 89.0 439.4 88.2 438.0 87.7 436.5 87.2 434.5 87.1 433.0 86.9 430.5 86.9 428.0 87.2 425.0 87.8 420.5 88.4 417.5 89.0 415.5 89.5 414.4 90.0 413.7 90.5 413.3 91.0 413.2 91.5 413.3 92.0 413.7 92.5 414.5 93.0 415.6 93.5 417.0 95.3 425.0 95.7 427.5 95.8 430.0 95.8 432.0 95.7 433.5 95.3 435.5 94.7 437.5 94.0 439.0 93.3 440.0 92.5 440.7 92.0 441.0 91.5 441.1Z"/>
<path fill="#a4b0f4" fill-rule="evenodd" d="M47.5 443.5 46.5 443.4 46.0 443.2 45.0 442.7 43.6 441.5 42.6 440.0 41.6 438.0 40.9 435.5 40.6 433.5 40.5 431.0 40.6 428.0 41.1 425.0 42.2 420.5 43.5 416.0 44.5 413.7 45.5 412.2 46.5 411.4 47.0 411.2 47.5 411.2 48.0 411.2 48.5 411.4 49.5 412.2 50.5 413.7 51.5 416.0 52.8 420.5 53.9 425.0 54.4 428.0 54.5 431.0 54.4 433.5 54.1 435.5 53.4 438.0 52.4 440.0 51.4 441.5 50.0 442.7 49.0 443.2 48.5 443.4 47.5 443.5ZM92.0 439.8 91.5 439.9 91.0 439.8 90.5 439.6 90.0 439.3 89.5 438.7 88.8 437.5 88.2 436.0 87.8 434.5 87.6 433.0 87.4 431.0 87.4 429.0 87.7 426.5 88.1 424.0 88.6 422.0 89.2 420.0 89.8 418.5 90.0 418.1 90.5 417.5 91.0 417.3 91.5 417.4 92.0 418.0 92.8 419.5 93.8 422.0 94.8 425.5 95.2 427.5 95.4 429.5 95.4 431.5 95.3 433.0 94.9 435.0 94.6 436.0 94.3 437.0 93.5 438.4 93.0 439.1 92.5 439.5 92.0 439.8Z"/>
<path fill="#8494f2" fill-rule="evenodd" d="M48.5 442.1 48.0 442.2 47.0 442.2 46.0 441.9 45.0 441.3 44.5 440.9 43.5 439.7 42.5 438.0 41.8 436.0 41.4 434.0 41.2 432.0 41.3 429.5 41.6 427.0 42.3 424.5 43.2 422.0 44.5 419.0 45.5 417.3 46.5 416.3 47.0 416.1 47.5 416.0 48.0 416.1 48.5 416.3 49.5 417.4 50.5 419.0 51.5 421.2 52.4 423.5 53.1 426.0 53.6 428.5 53.8 430.5 53.7 433.0 53.4 435.0 52.9 437.0 52.5 438.0 51.7 439.5 50.5 440.9 49.5 441.7 48.5 442.1ZM92.0 438.6 91.5 438.7 91.0 438.7 90.5 438.4 90.0 438.0 89.3 437.0 88.8 436.0 88.4 434.5 88.1 433.0 88.0 431.5 87.9 429.5 88.1 427.5 88.8 424.5 89.3 423.0 90.0 421.8 90.5 421.2 91.0 421.0 91.5 421.1 92.0 421.4 92.5 421.9 93.0 422.7 93.5 423.7 94.3 426.0 94.7 428.0 94.9 429.5 94.8 432.5 94.6 434.0 94.2 435.5 93.8 436.5 93.3 437.5 92.5 438.3 92.0 438.6Z"/>
<path fill="#687cf2" fill-rule="evenodd" d="M47.5 441.0 46.5 440.9 45.5 440.4 44.5 439.5 43.5 438.1 42.8 436.5 42.3 435.0 42.1 433.5 42.0 431.5 42.1 429.5 42.4 427.5 42.9 425.5 43.8 423.5 44.5 422.2 45.5 420.9 46.5 420.2 47.0 420.0 47.5 419.9 48.0 420.0 48.5 420.2 49.5 420.9 50.5 422.2 51.2 423.5 52.1 425.5 52.6 427.5 52.9 429.5 53.0 431.5 52.9 433.5 52.7 435.0 52.2 436.5 51.5 438.1 50.5 439.5 49.5 440.4 48.5 440.9 47.5 441.0ZM92.0 437.5 91.5 437.7 91.0 437.6 90.5 437.3 89.8 436.5 89.3 435.5 88.9 434.5 88.6 433.0 88.4 431.5 88.4 430.0 88.5 428.5 88.8 427.0 89.0 426.0 89.5 424.8 90.0 423.9 90.5 423.4 91.0 423.1 91.5 423.1 92.0 423.3 92.5 423.7 93.0 424.5 93.5 425.4 93.9 426.5 94.2 428.0 94.4 429.5 94.4 432.0 94.2 433.5 94.0 434.5 93.6 435.5 93.1 436.5 92.5 437.2 92.0 437.5Z"/>
<path fill="#4c64f4" fill-rule="evenodd" d="M48.5 439.7 47.5 439.9 46.5 439.7 45.5 439.2 44.5 438.1 43.8 437.0 43.2 435.5 42.9 434.0 42.7 432.5 42.7 430.5 42.8 429.0 43.3 427.0 43.9 425.5 44.5 424.4 45.5 423.1 46.5 422.4 47.5 422.2 48.0 422.2 49.0 422.7 50.0 423.7 50.6 424.5 51.3 426.0 51.8 427.5 52.2 429.0 52.3 430.5 52.4 432.0 52.2 433.5 51.9 435.0 51.4 436.5 50.9 437.5 50.0 438.7 49.5 439.2 48.5 439.7ZM91.5 436.6 91.0 436.5 90.5 436.2 90.0 435.6 89.7 435.0 89.3 434.0 89.1 433.0 88.9 430.5 89.1 428.0 89.4 427.0 89.8 426.0 90.5 424.9 91.0 424.6 91.5 424.5 92.0 424.7 92.5 425.2 93.3 426.5 93.8 428.5 94.0 431.0 93.8 433.0 93.6 434.0 93.2 435.0 92.5 436.1 92.0 436.5 91.5 436.6Z"/>
<path fill="#3a54f6" fill-rule="evenodd" d="M48.5 438.6 47.5 438.8 46.5 438.6 46.0 438.3 45.1 437.5 44.5 436.6 44.0 435.5 43.5 434.0 43.3 432.5 43.3 431.0 43.5 429.5 43.8 428.0 44.4 426.5 45.0 425.5 46.0 424.4 46.5 424.1 47.5 423.8 48.5 424.1 49.0 424.4 49.6 425.0 50.3 426.0 50.8 427.0 51.2 428.0 51.4 429.0 51.6 430.5 51.7 432.0 51.6 433.0 51.3 434.5 51.0 435.5 50.6 436.5 50.0 437.4 49.4 438.0 48.5 438.6ZM91.5 435.6 91.0 435.5 90.5 435.0 90.0 434.2 89.5 432.5 89.3 430.5 89.6 428.5 90.0 427.1 90.5 426.3 91.0 425.9 91.5 425.8 92.0 426.0 92.5 426.5 93.0 427.5 93.4 429.0 93.6 431.0 93.4 432.5 93.0 434.0 92.4 435.0 92.0 435.4 91.5 435.6Z"/>
<path fill="#2a66f8" fill-rule="evenodd" d="M48.0 437.6 47.5 437.7 47.0 437.6 46.5 437.4 46.0 437.1 45.4 436.5 44.8 435.5 44.4 434.5 44.2 433.5 44.0 432.0 44.0 430.5 44.2 429.5 44.5 428.4 45.0 427.2 45.5 426.5 46.0 425.9 46.5 425.6 47.0 425.4 47.5 425.3 48.0 425.4 48.5 425.6 49.0 425.9 49.9 427.0 50.3 428.0 50.7 429.0 51.0 431.0 51.0 432.5 50.8 433.5 50.6 434.5 50.2 435.5 49.6 436.5 49.1 437.0 48.5 437.4 48.0 437.6ZM92.0 434.2 91.5 434.4 91.0 434.3 90.5 433.7 90.1 432.5 89.9 431.5 89.9 430.0 90.2 428.5 90.5 427.8 90.8 427.5 91.0 427.2 91.5 427.1 92.0 427.3 92.5 428.0 92.8 429.0 93.0 430.0 93.0 431.5 92.9 432.5 92.5 433.5 92.0 434.2Z"/>
<path fill="#1a8cf8" fill-rule="evenodd" d="M47.5 436.5 47.0 436.4 46.5 436.2 46.0 435.8 45.5 435.1 44.9 433.5 44.7 432.5 44.7 431.5 44.8 430.5 45.0 429.5 45.5 428.2 46.0 427.4 46.5 427.0 47.0 426.7 47.5 426.7 48.0 426.7 48.5 427.0 49.0 427.4 49.5 428.2 50.0 429.5 50.2 430.5 50.3 431.5 50.3 432.5 50.1 433.5 49.5 435.1 49.0 435.8 48.5 436.2 48.0 436.4 47.5 436.5ZM91.5 433.1 91.0 432.8 90.9 432.5 90.5 431.5 90.5 431.0 90.5 430.4 90.7 429.5 91.0 428.8 91.5 428.6 92.0 428.9 92.2 429.5 92.4 431.0 92.3 432.0 92.1 432.5 92.0 432.7 91.5 433.1Z"/>
<path fill="#20b8f0" fill-rule="evenodd" d="M48.0 435.2 47.5 435.3 47.0 435.2 46.5 434.9 46.2 434.5 45.7 433.5 45.4 432.0 45.5 430.5 46.0 429.1 46.5 428.4 47.0 428.1 47.5 428.0 48.0 428.1 48.5 428.4 48.9 429.0 49.4 430.0 49.6 431.0 49.6 432.5 49.3 433.5 48.8 434.5 48.5 434.9 48.0 435.2Z"/>
<path fill="#28d8c8" fill-rule="evenodd" d="M48.0 433.6 47.5 433.8 47.0 433.6 46.5 432.9 46.3 432.0 46.4 431.0 46.5 430.5 47.0 429.8 47.5 429.6 48.0 429.8 48.5 430.5 48.7 431.5 48.7 432.0 48.5 432.9 48.0 433.6Z"/></g>
</g>
<rect x="28.5" y="376.5" width="75.3" height="75.69999999999999" fill="none" stroke="#808080" stroke-width="0.8"/>
<line x1="62.5" y1="376.5" x2="62.5" y2="452.2" stroke="#2b3040" stroke-width="1.0"/>
<line x1="28.5" y1="428.0" x2="103.8" y2="428.0" stroke="#2b3040" stroke-width="1.0"/>
<rect x="29.7" y="379.5" width="10.4" height="5.6" fill="#fff" stroke="none" stroke-width="1"/>
<text x="30.3" y="384.1" font-size="5.5" text-rendering="geometricPrecision" text-anchor="start" fill="#1a1a1a">29.6</text>
<rect x="86.99999999999999" y="379.5" width="10.4" height="5.6" fill="#fff" stroke="none" stroke-width="1"/>
<text x="96.8" y="384.1" font-size="5.5" text-rendering="geometricPrecision" text-anchor="end" fill="#1a1a1a">12.1</text>
<rect x="29.7" y="443.09999999999997" width="10.4" height="5.6" fill="#fff" stroke="none" stroke-width="1"/>
<text x="30.3" y="447.7" font-size="5.5" text-rendering="geometricPrecision" text-anchor="start" fill="#1a1a1a">43.1</text>
<rect x="86.99999999999999" y="443.09999999999997" width="10.4" height="5.6" fill="#fff" stroke="none" stroke-width="1"/>
<text x="96.8" y="447.7" font-size="5.5" text-rendering="geometricPrecision" text-anchor="end" fill="#1a1a1a">15.1</text>
<clipPath id="fc11"><rect x="109.5" y="376.5" width="75.30000000000001" height="75.69999999999999"/></clipPath>
<g filter="url(#soft)">
<g clip-path="url(#fc11)"><path fill="#8c9cf0" d="M127 383h1v1h-1zM171 385h1v1h-1zM147 386h1v1h-1zM158 386h1v1h-1zM165 387h1v1h-1zM155 388h1v1h-1zM154 389h1v1h-1zM133 390h1v1h-1zM136 391h1v1h-1zM159 391h1v1h-1zM168 391h1v1h-1zM175 391h1v1h-1zM134 392h1v1h-1zM149 392h1v1h-1zM127 393h1v1h-1zM129 393h1v1h-1zM131 393h1v1h-1zM153 393h1v1h-1zM154 393h1v1h-1zM181 393h1v1h-1zM137 394h1v1h-1zM148 394h1v1h-1zM159 394h1v1h-1zM166 394h1v1h-1zM167 394h1v1h-1zM131 395h1v1h-1zM137 395h1v1h-1zM139 395h1v1h-1zM147 395h1v1h-1zM149 395h1v1h-1zM132 396h1v1h-1zM135 396h1v1h-1zM147 396h1v1h-1zM152 396h1v1h-1zM126 397h1v1h-1zM129 397h1v1h-1zM130 397h1v1h-1zM133 397h1v1h-1zM135 397h1v1h-1zM162 397h1v1h-1zM164 397h1v1h-1zM128 398h1v1h-1zM130 398h1v1h-1zM132 398h1v1h-1zM157 398h1v1h-1zM170 398h1v1h-1zM128 399h1v1h-1zM129 399h1v1h-1zM131 399h1v1h-1zM138 399h1v1h-1zM144 399h1v1h-1zM153 399h1v1h-1zM156 399h1v1h-1zM165 399h1v1h-1zM126 400h1v1h-1zM128 400h1v1h-1zM136 400h1v1h-1zM160 400h1v1h-1zM162 400h1v1h-1zM128 401h1v1h-1zM155 401h1v1h-1zM162 401h1v1h-1zM127 402h1v1h-1zM133 402h1v1h-1zM155 402h1v1h-1zM160 402h1v1h-1zM126 403h1v1h-1zM132 403h1v1h-1zM134 403h1v1h-1zM142 403h1v1h-1zM133 404h1v1h-1zM137 404h1v1h-1zM141 404h1v1h-1zM155 404h1v1h-1zM164 404h1v1h-1zM150 405h1v1h-1zM154 405h1v1h-1zM161 405h1v1h-1zM162 405h1v1h-1zM133 406h1v1h-1zM134 406h1v1h-1zM138 406h1v1h-1zM143 406h1v1h-1zM148 406h1v1h-1zM151 406h1v1h-1zM155 406h1v1h-1zM157 406h1v1h-1zM158 406h1v1h-1zM159 406h1v1h-1zM146 407h1v1h-1zM152 407h1v1h-1zM155 407h1v1h-1zM168 407h1v1h-1zM134 408h1v1h-1zM151 408h1v1h-1zM154 408h1v1h-1zM114 409h1v1h-1zM126 409h1v1h-1zM134 409h1v1h-1zM137 409h1v1h-1zM138 409h1v1h-1zM140 409h1v1h-1zM157 409h1v1h-1zM164 409h1v1h-1zM167 409h1v1h-1zM124 410h1v1h-1zM126 410h1v1h-1zM134 410h1v1h-1zM135 410h1v1h-1zM141 410h1v1h-1zM149 410h1v1h-1zM159 410h1v1h-1zM126 411h1v1h-1zM137 411h1v1h-1zM156 411h1v1h-1zM157 411h1v1h-1zM180 411h1v1h-1zM121 412h1v1h-1zM124 412h1v1h-1zM125 412h1v1h-1zM126 412h1v1h-1zM138 412h1v1h-1zM139 412h1v1h-1zM145 412h1v1h-1zM146 412h1v1h-1zM156 412h1v1h-1zM157 412h1v1h-1zM161 412h1v1h-1zM126 413h1v1h-1zM134 413h1v1h-1zM139 413h1v1h-1zM144 413h1v1h-1zM145 413h1v1h-1zM156 413h1v1h-1zM117 414h1v1h-1zM122 414h1v1h-1zM125 414h1v1h-1zM135 414h1v1h-1zM138 414h1v1h-1zM139 414h1v1h-1zM140 414h1v1h-1zM142 414h1v1h-1zM144 414h1v1h-1zM156 414h1v1h-1zM157 414h1v1h-1zM160 414h1v1h-1zM124 415h1v1h-1zM135 415h1v1h-1zM136 415h1v1h-1zM140 415h1v1h-1zM155 415h1v1h-1zM157 415h1v1h-1zM135 416h1v1h-1zM136 416h1v1h-1zM137 416h1v1h-1zM138 416h1v1h-1zM139 416h1v1h-1zM143 416h1v1h-1zM161 416h1v1h-1zM162 416h1v1h-1zM125 417h1v1h-1zM136 417h1v1h-1zM139 417h1v1h-1zM141 417h1v1h-1zM142 417h1v1h-1zM154 417h1v1h-1zM155 417h1v1h-1zM135 418h1v1h-1zM136 418h1v1h-1zM138 418h1v1h-1zM155 418h1v1h-1zM157 418h1v1h-1zM159 418h1v1h-1zM180 418h1v1h-1zM124 419h1v1h-1zM135 419h1v1h-1zM137 419h1v1h-1zM139 419h1v1h-1zM140 419h1v1h-1zM153 419h1v1h-1zM157 419h1v1h-1zM135 420h1v1h-1zM139 420h1v1h-1zM140 420h1v1h-1zM156 420h1v1h-1zM124 421h1v1h-1zM125 421h1v1h-1zM139 421h1v1h-1zM123 422h1v1h-1zM136 422h1v1h-1zM138 422h1v1h-1zM151 422h1v1h-1zM152 422h1v1h-1zM123 423h1v1h-1zM125 423h1v1h-1zM135 423h1v1h-1zM137 423h1v1h-1zM138 423h1v1h-1zM150 423h1v1h-1zM111 424h1v1h-1zM125 424h1v1h-1zM136 424h1v1h-1zM137 424h1v1h-1zM138 424h1v1h-1zM149 424h1v1h-1zM151 424h1v1h-1zM155 424h1v1h-1zM135 425h1v1h-1zM136 425h1v1h-1zM151 425h1v1h-1zM122 426h1v1h-1zM136 426h1v1h-1zM137 426h1v1h-1zM152 426h1v1h-1zM158 426h1v1h-1zM149 427h1v1h-1zM153 427h1v1h-1zM136 428h1v1h-1zM137 428h1v1h-1zM146 428h1v1h-1zM147 428h1v1h-1zM149 428h1v1h-1zM146 429h1v1h-1zM149 429h1v1h-1zM123 430h1v1h-1zM137 430h1v1h-1zM138 430h1v1h-1zM147 430h1v1h-1zM138 431h1v1h-1zM140 431h1v1h-1zM141 431h1v1h-1zM121 432h1v1h-1zM124 432h1v1h-1zM139 432h1v1h-1zM140 432h1v1h-1zM146 432h1v1h-1zM157 432h1v1h-1zM122 433h1v1h-1zM124 433h1v1h-1zM135 433h1v1h-1zM136 433h1v1h-1zM146 433h1v1h-1zM147 433h1v1h-1zM135 434h1v1h-1zM139 434h1v1h-1zM146 434h1v1h-1zM135 435h1v1h-1zM136 435h1v1h-1zM138 435h1v1h-1zM141 435h1v1h-1zM144 435h1v1h-1zM120 436h1v1h-1zM121 436h1v1h-1zM122 436h1v1h-1zM122 437h1v1h-1zM134 437h1v1h-1zM140 437h1v1h-1zM142 437h1v1h-1zM180 437h1v1h-1zM115 438h1v1h-1zM122 438h1v1h-1zM135 438h1v1h-1zM135 439h1v1h-1zM139 440h1v1h-1zM144 440h1v1h-1zM181 440h1v1h-1zM137 441h1v1h-1zM151 441h1v1h-1zM125 442h1v1h-1zM135 442h1v1h-1zM126 443h1v1h-1zM128 443h1v1h-1zM131 443h1v1h-1zM132 443h1v1h-1zM135 443h1v1h-1zM136 443h1v1h-1zM128 444h1v1h-1zM130 444h1v1h-1zM131 444h1v1h-1zM182 444h1v1h-1zM126 445h1v1h-1zM133 445h1v1h-1zM124 446h1v1h-1zM125 446h1v1h-1zM128 446h1v1h-1zM136 446h1v1h-1zM129 447h1v1h-1zM131 447h1v1h-1zM162 447h1v1h-1zM121 448h1v1h-1zM126 448h1v1h-1zM132 449h1v1h-1zM156 450h1v1h-1zM129 451h1v1h-1z"/>
<path fill="#c0c8f6" fill-rule="evenodd" d="M128.5 443.6 127.5 443.5 126.5 443.3 125.5 442.8 124.5 441.9 123.8 441.0 123.3 440.0 123.1 439.0 123.0 437.5 123.1 436.5 123.4 435.5 123.8 434.5 124.9 432.5 125.1 431.5 125.3 423.5 125.7 419.0 126.0 416.4 126.6 407.5 127.1 404.0 127.8 401.5 128.5 399.7 129.0 398.9 129.5 398.4 130.0 398.3 130.5 398.3 131.0 398.6 131.7 399.5 132.5 401.4 133.3 404.0 134.2 409.0 134.7 412.5 135.5 422.7 136.0 424.5 136.5 425.7 137.0 425.8 139.8 421.0 141.2 419.0 142.7 417.0 144.4 415.0 145.9 413.5 149.0 410.8 150.5 409.8 152.5 408.8 153.5 408.5 154.5 408.4 155.5 408.6 156.0 409.0 156.4 409.5 156.6 410.0 156.7 411.5 156.2 414.0 155.7 415.5 154.8 417.5 153.7 419.5 152.7 421.0 150.4 424.0 148.5 426.0 146.5 427.9 144.5 429.4 143.0 430.3 142.0 430.7 141.0 431.1 139.5 431.3 138.5 431.2 137.9 431.0 137.0 430.4 136.9 430.5 136.5 430.9 135.8 434.0 134.8 437.0 133.8 439.0 133.2 440.0 132.0 441.5 131.0 442.5 130.5 442.8 129.5 443.4 128.5 443.6Z"/>
<path fill="#a4b0f4" fill-rule="evenodd" d="M129.0 442.6 128.0 442.8 127.0 442.6 126.0 442.2 125.0 441.4 124.3 440.5 123.8 439.5 123.6 438.5 123.6 437.5 123.8 436.0 124.3 435.0 125.1 433.5 125.5 432.4 125.6 431.0 125.6 425.5 125.8 422.0 126.2 418.0 127.9 406.0 128.3 404.0 128.9 402.5 129.5 401.8 130.0 401.5 130.5 401.6 131.0 402.1 131.8 403.5 132.8 406.5 133.8 410.5 134.2 413.5 134.4 415.5 134.6 419.0 134.7 424.5 135.0 426.4 135.4 428.0 135.5 430.5 135.4 432.0 135.2 433.5 134.7 435.5 133.8 437.5 132.7 439.5 131.5 441.0 130.5 441.9 130.0 442.2 129.0 442.6ZM141.5 430.1 140.5 430.3 140.0 430.3 139.5 430.3 139.0 430.0 138.5 429.6 138.2 429.0 138.0 428.0 138.2 426.5 138.8 424.5 139.8 422.5 141.2 420.0 142.6 418.0 144.7 415.5 147.0 413.2 149.0 411.6 151.0 410.3 152.5 409.6 153.5 409.4 154.0 409.3 154.5 409.4 155.0 409.6 155.5 410.2 155.8 411.0 155.9 412.0 155.7 413.5 155.3 415.0 154.7 416.5 153.6 418.5 152.7 420.0 151.3 422.0 149.7 424.0 147.0 426.7 144.5 428.6 142.5 429.8 141.5 430.1Z"/>
<path fill="#8494f2" fill-rule="evenodd" d="M129.5 441.7 128.5 442.0 127.5 441.9 126.5 441.6 125.6 441.0 125.0 440.4 124.5 439.5 124.2 438.5 124.2 437.5 124.5 436.0 125.5 434.0 125.9 432.5 126.0 431.0 126.0 426.5 126.1 422.5 126.7 417.5 127.3 414.0 128.3 409.5 129.0 407.0 129.5 406.0 130.0 405.6 130.5 405.5 131.0 405.9 131.5 406.5 132.3 408.0 133.1 410.5 133.6 413.0 133.9 415.0 134.1 418.0 134.3 424.5 134.5 426.7 134.9 429.0 135.0 431.0 134.7 433.5 134.3 435.0 133.7 436.5 132.9 438.0 131.5 440.0 130.5 441.0 129.5 441.7ZM142.5 429.1 141.0 429.5 140.0 429.4 139.5 429.1 139.1 428.5 138.8 427.5 138.9 426.5 139.1 425.5 139.6 424.0 140.3 422.5 141.7 420.0 143.2 418.0 145.3 415.5 147.0 413.8 149.0 412.1 151.0 410.9 152.5 410.3 153.5 410.2 154.0 410.2 154.5 410.5 154.9 411.0 155.2 412.0 155.2 413.0 154.9 414.5 154.4 416.0 153.7 417.5 152.2 420.0 150.4 422.5 149.1 424.0 147.5 425.7 145.0 427.7 143.5 428.7 142.5 429.1Z"/>
<path fill="#687cf2" fill-rule="evenodd" d="M129.0 441.2 128.5 441.3 127.5 441.2 126.5 440.9 126.0 440.5 125.5 440.0 125.0 439.0 124.9 438.5 124.8 437.5 125.1 436.0 126.0 434.0 126.4 432.5 126.3 427.0 126.4 424.0 126.7 420.0 127.4 416.0 128.2 412.5 129.0 410.0 129.5 409.0 130.0 408.4 130.5 408.2 131.0 408.3 131.5 408.7 132.0 409.5 132.6 411.0 133.2 413.5 133.6 416.0 133.7 418.0 133.9 425.0 134.5 429.5 134.6 431.5 134.4 433.0 134.2 434.0 133.7 435.5 133.1 436.5 131.8 438.5 130.7 440.0 130.0 440.6 129.0 441.2ZM142.0 428.6 141.0 428.7 140.5 428.6 140.0 428.2 139.6 427.5 139.5 427.0 139.6 426.0 139.9 424.5 140.8 422.5 141.9 420.5 142.9 419.0 144.4 417.0 146.0 415.2 147.5 413.8 149.5 412.3 151.0 411.4 152.0 411.0 153.0 410.9 153.5 411.0 154.0 411.3 154.4 412.0 154.5 412.5 154.5 413.5 154.2 415.0 153.2 417.5 151.4 420.5 150.3 422.0 149.1 423.5 148.0 424.6 146.5 426.0 145.0 427.2 144.0 427.8 143.0 428.3 142.0 428.6Z"/>
<path fill="#4c64f4" fill-rule="evenodd" d="M128.5 440.6 127.5 440.5 127.0 440.4 126.5 440.0 126.0 439.5 125.7 439.0 125.5 438.5 125.4 437.5 125.6 436.5 126.5 434.1 126.8 433.0 126.8 431.5 126.7 427.0 126.8 424.0 127.1 420.5 127.6 417.0 128.3 414.0 129.0 411.9 129.5 410.9 129.8 410.5 130.0 410.2 130.5 410.0 131.0 410.1 131.5 410.5 132.0 411.3 132.6 413.0 133.0 415.0 133.4 418.5 133.5 424.5 134.2 429.5 134.3 431.5 134.2 432.5 133.8 434.0 133.4 435.0 132.9 436.0 131.2 438.5 130.4 439.5 129.5 440.2 128.5 440.6ZM143.0 427.7 142.0 427.9 141.5 427.9 141.0 427.7 140.7 427.5 140.4 427.0 140.2 426.0 140.5 424.5 141.0 423.0 141.7 421.5 143.0 419.5 144.4 417.5 145.8 416.0 147.5 414.3 149.0 413.1 150.5 412.2 151.5 411.8 152.5 411.6 153.0 411.7 153.5 412.0 153.8 412.5 153.9 413.0 153.9 414.0 153.7 415.0 153.2 416.5 152.8 417.5 151.3 420.0 149.5 422.5 148.1 424.0 147.0 425.1 145.0 426.6 144.0 427.2 143.0 427.7Z"/>
<path fill="#3a54f6" fill-rule="evenodd" d="M129.5 439.5 129.0 439.8 128.5 439.9 128.0 439.9 127.5 439.8 127.0 439.5 126.5 439.0 126.2 438.5 126.0 437.5 126.2 436.5 127.1 434.0 127.3 433.0 127.3 432.0 127.1 428.0 127.2 425.0 127.5 421.0 127.9 418.0 128.5 415.3 129.0 413.7 129.6 412.5 130.0 412.0 130.5 411.7 131.0 411.8 131.5 412.4 132.0 413.4 132.5 415.5 132.9 419.0 133.1 424.5 133.9 429.0 134.0 431.0 133.7 433.0 133.4 434.0 133.0 435.0 132.5 435.8 130.5 438.5 129.5 439.5ZM142.5 427.0 142.0 427.0 141.5 426.7 141.3 426.5 141.0 426.0 141.0 425.0 141.2 424.0 141.7 422.5 142.5 421.0 143.4 419.5 144.5 418.0 145.8 416.5 147.0 415.3 148.5 414.0 150.0 413.0 151.0 412.6 152.0 412.4 152.5 412.5 153.0 412.9 153.2 413.5 153.2 414.5 153.0 415.5 152.7 416.5 152.0 418.0 150.5 420.5 148.5 423.0 146.5 424.9 144.5 426.3 143.5 426.8 142.5 427.0Z"/>
<path fill="#2a66f8" fill-rule="evenodd" d="M144.5 425.5 143.5 425.8 143.0 425.9 142.5 425.8 142.2 425.5 141.9 425.0 141.9 424.0 142.2 423.0 142.8 421.5 143.6 420.0 145.5 417.4 146.8 416.0 148.0 414.9 149.5 413.9 150.5 413.4 151.5 413.2 152.0 413.4 152.4 414.0 152.5 414.5 152.4 415.5 151.7 417.5 150.6 419.5 149.0 421.6 147.5 423.3 146.0 424.6 144.5 425.5ZM129.0 439.0 128.5 439.2 128.0 439.2 127.5 439.0 127.0 438.5 126.8 438.0 126.7 437.0 126.9 436.0 127.7 434.0 127.9 433.0 127.9 432.0 127.7 428.0 127.8 425.0 128.0 421.7 128.5 418.5 129.0 416.2 129.5 414.9 130.0 414.1 130.5 413.9 131.0 414.1 131.5 414.9 132.0 416.8 132.3 419.0 132.5 423.5 133.6 429.0 133.7 430.5 133.7 431.5 133.3 433.5 132.5 435.0 130.0 438.2 129.5 438.7 129.0 439.0Z"/>
<path fill="#1a8cf8" fill-rule="evenodd" d="M145.0 424.1 144.0 424.3 143.5 424.2 143.3 424.0 143.1 423.5 143.2 422.5 143.5 421.5 144.5 419.6 146.1 417.5 148.0 415.6 149.5 414.5 150.5 414.2 151.0 414.2 151.4 414.5 151.5 414.7 151.6 415.5 151.2 417.0 150.4 418.5 149.5 419.9 148.0 421.7 146.5 423.1 145.0 424.1ZM129.0 438.1 128.5 438.2 128.0 438.1 127.5 437.5 127.5 437.0 127.7 436.0 128.3 434.5 128.5 433.5 128.4 429.5 128.6 427.5 129.0 425.6 129.5 424.3 130.0 423.5 130.5 423.1 131.0 423.1 131.5 423.5 132.0 424.5 132.5 425.7 133.0 427.5 133.3 429.0 133.4 430.0 133.3 432.0 132.9 433.5 132.4 434.5 132.0 435.1 130.5 436.5 129.5 437.6 129.0 438.1Z"/>
<path fill="#20b8f0" fill-rule="evenodd" d="M145.5 422.1 144.9 422.0 144.7 421.5 144.8 421.0 145.1 420.0 146.0 418.5 147.3 417.0 148.5 416.0 149.5 415.4 150.0 415.4 150.2 415.5 150.5 416.0 150.3 417.0 149.8 418.0 149.0 419.2 148.0 420.4 147.0 421.3 146.0 421.9 145.5 422.1ZM130.0 435.6 129.5 435.7 129.4 435.5 129.2 435.0 128.9 431.5 129.0 429.5 129.2 428.0 129.8 426.5 130.5 425.6 131.0 425.3 131.5 425.4 132.0 425.9 132.5 426.9 132.9 428.0 133.1 429.5 133.2 431.5 132.8 433.0 132.5 433.7 132.0 434.5 131.0 435.3 130.0 435.6Z"/>
<path fill="#28d8c8" fill-rule="evenodd" d="M131.0 434.6 130.5 434.6 130.2 434.5 130.0 434.3 129.6 433.5 129.4 432.0 129.3 430.0 129.6 428.5 130.0 427.4 130.5 426.7 131.0 426.3 131.5 426.3 132.0 426.8 132.6 428.0 132.9 429.5 133.0 431.0 132.8 432.0 132.5 433.1 132.0 433.9 131.5 434.4 131.0 434.6Z"/>
<path fill="#40e280" fill-rule="evenodd" d="M131.0 434.0 130.5 433.9 130.0 433.0 129.7 431.5 129.7 430.0 130.0 428.5 130.5 427.5 131.0 427.1 131.5 427.1 132.0 427.5 132.5 428.6 132.7 430.0 132.8 431.0 132.6 432.0 132.2 433.0 132.0 433.4 131.5 433.9 131.0 434.0Z"/>
<path fill="#60e840" fill-rule="evenodd" d="M131.5 433.4 131.0 433.5 130.5 433.1 130.1 432.0 129.9 431.0 130.1 429.5 130.4 428.5 131.0 427.8 131.5 427.7 132.0 428.2 132.1 428.5 132.5 429.5 132.6 430.5 132.4 432.0 132.0 432.8 131.5 433.4Z"/>
<path fill="#a0ee28" fill-rule="evenodd" d="M131.5 432.8 131.0 432.9 130.7 432.5 130.4 432.0 130.3 431.0 130.3 430.0 130.5 429.3 131.0 428.5 131.5 428.4 132.0 429.0 132.3 430.5 132.1 432.0 131.5 432.8Z"/>
<path fill="#dcf010" fill-rule="evenodd" d="M131.5 431.9 131.0 431.8 130.8 431.0 130.8 430.5 131.0 429.6 131.5 429.4 131.8 430.0 131.9 430.5 131.9 431.0 131.5 431.9Z"/></g>
</g>
<rect x="109.5" y="376.5" width="75.30000000000001" height="75.69999999999999" fill="none" stroke="#808080" stroke-width="0.8"/>
<line x1="132.5" y1="376.5" x2="132.5" y2="452.2" stroke="#2b3040" stroke-width="1.0"/>
<line x1="141.5" y1="376.5" x2="141.5" y2="452.2" stroke="#8a8a90" stroke-width="0.9"/>
<line x1="109.5" y1="428.0" x2="184.8" y2="428.0" stroke="#2b3040" stroke-width="1.0"/>
<rect x="110.7" y="379.5" width="10.4" height="5.6" fill="#fff" stroke="none" stroke-width="1"/>
<text x="111.3" y="384.1" font-size="5.5" text-rendering="geometricPrecision" text-anchor="start" font-weight="bold" stroke="#1a1a1a" stroke-width="0.25" fill="#1a1a1a">6.51</text>
<rect x="168.0" y="379.5" width="10.4" height="5.6" fill="#fff" stroke="none" stroke-width="1"/>
<text x="177.8" y="384.1" font-size="5.5" text-rendering="geometricPrecision" text-anchor="end" font-weight="bold" stroke="#1a1a1a" stroke-width="0.25" fill="#1a1a1a">14.2</text>
<rect x="110.7" y="443.09999999999997" width="10.4" height="5.6" fill="#fff" stroke="none" stroke-width="1"/>
<text x="111.3" y="447.7" font-size="5.5" text-rendering="geometricPrecision" text-anchor="start" font-weight="bold" stroke="#1a1a1a" stroke-width="0.25" fill="#1a1a1a">59.0</text>
<rect x="168.0" y="443.09999999999997" width="10.4" height="5.6" fill="#fff" stroke="none" stroke-width="1"/>
<text x="177.8" y="447.7" font-size="5.5" text-rendering="geometricPrecision" text-anchor="end" font-weight="bold" stroke="#1a1a1a" stroke-width="0.25" fill="#1a1a1a">20.3</text>
<clipPath id="fc12"><rect x="189.5" y="376.5" width="75.30000000000001" height="75.69999999999999"/></clipPath>
<g filter="url(#soft)">
<g clip-path="url(#fc12)"><path fill="#8c9cf0" d="M198 380h1v1h-1zM263 380h1v1h-1zM207 381h1v1h-1zM243 382h1v1h-1zM236 384h1v1h-1zM246 384h1v1h-1zM201 386h1v1h-1zM221 386h1v1h-1zM203 387h1v1h-1zM200 388h1v1h-1zM201 388h1v1h-1zM206 388h1v1h-1zM213 388h1v1h-1zM225 388h1v1h-1zM197 389h1v1h-1zM206 389h1v1h-1zM208 389h1v1h-1zM210 389h1v1h-1zM192 390h1v1h-1zM207 391h1v1h-1zM209 391h1v1h-1zM200 392h1v1h-1zM203 392h1v1h-1zM208 392h1v1h-1zM190 393h1v1h-1zM193 393h1v1h-1zM195 393h1v1h-1zM198 393h1v1h-1zM200 393h1v1h-1zM202 393h1v1h-1zM203 393h1v1h-1zM206 393h1v1h-1zM210 393h1v1h-1zM196 394h1v1h-1zM210 394h1v1h-1zM261 394h1v1h-1zM200 395h1v1h-1zM204 395h1v1h-1zM214 395h1v1h-1zM221 395h1v1h-1zM200 396h1v1h-1zM201 396h1v1h-1zM202 396h1v1h-1zM204 396h1v1h-1zM205 396h1v1h-1zM206 396h1v1h-1zM210 396h1v1h-1zM191 397h1v1h-1zM200 397h1v1h-1zM202 397h1v1h-1zM204 397h1v1h-1zM205 397h1v1h-1zM207 397h1v1h-1zM209 397h1v1h-1zM211 397h1v1h-1zM214 397h1v1h-1zM234 397h1v1h-1zM236 397h1v1h-1zM240 397h1v1h-1zM193 398h1v1h-1zM195 398h1v1h-1zM197 398h1v1h-1zM199 398h1v1h-1zM209 398h1v1h-1zM210 398h1v1h-1zM211 398h1v1h-1zM216 398h1v1h-1zM231 398h1v1h-1zM248 398h1v1h-1zM194 399h1v1h-1zM195 399h1v1h-1zM196 399h1v1h-1zM198 399h1v1h-1zM200 399h1v1h-1zM210 399h1v1h-1zM211 399h1v1h-1zM212 399h1v1h-1zM214 399h1v1h-1zM215 399h1v1h-1zM228 399h1v1h-1zM190 400h1v1h-1zM192 400h1v1h-1zM194 400h1v1h-1zM196 400h1v1h-1zM210 400h1v1h-1zM211 400h1v1h-1zM212 400h1v1h-1zM213 400h1v1h-1zM239 400h1v1h-1zM245 400h1v1h-1zM253 400h1v1h-1zM190 401h1v1h-1zM192 401h1v1h-1zM195 401h1v1h-1zM197 401h1v1h-1zM210 401h1v1h-1zM213 401h1v1h-1zM215 401h1v1h-1zM245 401h1v1h-1zM262 401h1v1h-1zM191 402h1v1h-1zM194 402h1v1h-1zM210 402h1v1h-1zM213 402h1v1h-1zM214 402h1v1h-1zM232 402h1v1h-1zM238 402h1v1h-1zM244 402h1v1h-1zM246 402h1v1h-1zM191 403h1v1h-1zM193 403h1v1h-1zM194 403h1v1h-1zM195 403h1v1h-1zM210 403h1v1h-1zM222 403h1v1h-1zM236 403h1v1h-1zM246 403h1v1h-1zM249 403h1v1h-1zM254 403h1v1h-1zM257 403h1v1h-1zM190 404h1v1h-1zM192 404h1v1h-1zM194 404h1v1h-1zM216 404h1v1h-1zM232 404h1v1h-1zM245 404h1v1h-1zM251 404h1v1h-1zM194 405h1v1h-1zM213 405h1v1h-1zM218 405h1v1h-1zM222 405h1v1h-1zM223 405h1v1h-1zM226 405h1v1h-1zM231 405h1v1h-1zM232 405h1v1h-1zM235 405h1v1h-1zM238 405h1v1h-1zM248 405h1v1h-1zM249 405h1v1h-1zM253 405h1v1h-1zM192 406h1v1h-1zM193 406h1v1h-1zM211 406h1v1h-1zM212 406h1v1h-1zM214 406h1v1h-1zM222 406h1v1h-1zM223 406h1v1h-1zM226 406h1v1h-1zM227 406h1v1h-1zM229 406h1v1h-1zM235 406h1v1h-1zM242 406h1v1h-1zM243 406h1v1h-1zM256 406h1v1h-1zM192 407h1v1h-1zM211 407h1v1h-1zM215 407h1v1h-1zM221 407h1v1h-1zM226 407h1v1h-1zM228 407h1v1h-1zM229 407h1v1h-1zM230 407h1v1h-1zM231 407h1v1h-1zM233 407h1v1h-1zM238 407h1v1h-1zM239 407h1v1h-1zM240 407h1v1h-1zM245 407h1v1h-1zM248 407h1v1h-1zM250 407h1v1h-1zM213 408h1v1h-1zM215 408h1v1h-1zM218 408h1v1h-1zM219 408h1v1h-1zM239 408h1v1h-1zM241 408h1v1h-1zM244 408h1v1h-1zM250 408h1v1h-1zM257 408h1v1h-1zM190 409h1v1h-1zM213 409h1v1h-1zM214 409h1v1h-1zM215 409h1v1h-1zM216 409h1v1h-1zM218 409h1v1h-1zM248 409h1v1h-1zM251 409h1v1h-1zM254 409h1v1h-1zM256 409h1v1h-1zM257 409h1v1h-1zM190 410h1v1h-1zM213 410h1v1h-1zM214 410h1v1h-1zM215 410h1v1h-1zM249 410h1v1h-1zM250 410h1v1h-1zM251 410h1v1h-1zM252 410h1v1h-1zM256 410h1v1h-1zM258 410h1v1h-1zM263 410h1v1h-1zM251 411h1v1h-1zM252 411h1v1h-1zM253 411h1v1h-1zM254 411h1v1h-1zM256 411h1v1h-1zM257 411h1v1h-1zM252 412h1v1h-1zM254 412h1v1h-1zM260 412h1v1h-1zM261 412h1v1h-1zM253 413h1v1h-1zM255 413h1v1h-1zM257 413h1v1h-1zM258 413h1v1h-1zM190 414h1v1h-1zM253 414h1v1h-1zM257 414h1v1h-1zM254 415h1v1h-1zM255 415h1v1h-1zM257 415h1v1h-1zM190 416h1v1h-1zM254 416h1v1h-1zM257 416h1v1h-1zM253 417h1v1h-1zM262 417h1v1h-1zM253 418h1v1h-1zM254 418h1v1h-1zM256 418h1v1h-1zM257 418h1v1h-1zM263 418h1v1h-1zM252 419h1v1h-1zM253 419h1v1h-1zM254 419h1v1h-1zM255 419h1v1h-1zM258 419h1v1h-1zM252 420h1v1h-1zM253 420h1v1h-1zM254 420h1v1h-1zM255 420h1v1h-1zM257 420h1v1h-1zM258 420h1v1h-1zM260 420h1v1h-1zM251 421h1v1h-1zM253 421h1v1h-1zM261 421h1v1h-1zM247 422h1v1h-1zM249 422h1v1h-1zM252 422h1v1h-1zM256 422h1v1h-1zM257 422h1v1h-1zM244 423h1v1h-1zM247 423h1v1h-1zM250 423h1v1h-1zM253 423h1v1h-1zM254 423h1v1h-1zM257 423h1v1h-1zM259 423h1v1h-1zM246 424h1v1h-1zM248 424h1v1h-1zM253 424h1v1h-1zM254 424h1v1h-1zM243 425h1v1h-1zM244 425h1v1h-1zM245 425h1v1h-1zM248 425h1v1h-1zM250 425h1v1h-1zM251 425h1v1h-1zM253 425h1v1h-1zM254 425h1v1h-1zM238 426h1v1h-1zM240 426h1v1h-1zM241 426h1v1h-1zM245 426h1v1h-1zM250 426h1v1h-1zM252 426h1v1h-1zM256 426h1v1h-1zM237 427h1v1h-1zM245 427h1v1h-1zM248 427h1v1h-1zM234 428h1v1h-1zM235 428h1v1h-1zM241 428h1v1h-1zM246 428h1v1h-1zM249 428h1v1h-1zM250 428h1v1h-1zM258 428h1v1h-1zM262 428h1v1h-1zM231 429h1v1h-1zM233 429h1v1h-1zM234 429h1v1h-1zM239 429h1v1h-1zM240 429h1v1h-1zM241 429h1v1h-1zM243 429h1v1h-1zM248 429h1v1h-1zM255 429h1v1h-1zM216 430h1v1h-1zM218 430h1v1h-1zM219 430h1v1h-1zM222 430h1v1h-1zM223 430h1v1h-1zM225 430h1v1h-1zM229 430h1v1h-1zM244 430h1v1h-1zM217 431h1v1h-1zM218 431h1v1h-1zM220 431h1v1h-1zM224 431h1v1h-1zM225 431h1v1h-1zM226 431h1v1h-1zM230 431h1v1h-1zM231 431h1v1h-1zM233 431h1v1h-1zM244 431h1v1h-1zM216 432h1v1h-1zM217 432h1v1h-1zM223 432h1v1h-1zM226 432h1v1h-1zM228 432h1v1h-1zM233 432h1v1h-1zM245 432h1v1h-1zM246 432h1v1h-1zM258 432h1v1h-1zM214 433h1v1h-1zM215 433h1v1h-1zM215 434h1v1h-1zM218 434h1v1h-1zM214 435h1v1h-1zM216 435h1v1h-1zM218 435h1v1h-1zM232 435h1v1h-1zM215 436h1v1h-1zM216 436h1v1h-1zM244 436h1v1h-1zM190 438h1v1h-1zM213 439h1v1h-1zM218 439h1v1h-1zM190 440h1v1h-1zM213 440h1v1h-1zM214 440h1v1h-1zM215 440h1v1h-1zM219 440h1v1h-1zM190 441h1v1h-1zM214 441h1v1h-1zM217 441h1v1h-1zM220 441h1v1h-1zM221 441h1v1h-1zM190 442h1v1h-1zM218 442h1v1h-1zM191 443h1v1h-1zM212 443h1v1h-1zM213 443h1v1h-1zM214 443h1v1h-1zM217 443h1v1h-1zM224 443h1v1h-1zM214 444h1v1h-1zM215 444h1v1h-1zM218 444h1v1h-1zM220 444h1v1h-1zM231 444h1v1h-1zM212 445h1v1h-1zM214 445h1v1h-1zM219 445h1v1h-1zM190 446h1v1h-1zM191 446h1v1h-1zM211 446h1v1h-1zM214 446h1v1h-1zM215 446h1v1h-1zM216 446h1v1h-1zM217 446h1v1h-1zM190 447h1v1h-1zM212 447h1v1h-1zM193 448h1v1h-1zM211 448h1v1h-1zM212 448h1v1h-1zM192 449h1v1h-1zM193 449h1v1h-1zM211 449h1v1h-1zM213 449h1v1h-1zM233 449h1v1h-1zM194 450h1v1h-1zM211 450h1v1h-1zM214 450h1v1h-1zM228 450h1v1h-1zM191 451h1v1h-1zM208 451h1v1h-1zM209 451h1v1h-1zM217 451h1v1h-1z"/>
<path fill="#c0c8f6" fill-rule="evenodd" d="M204.0 456.5 203.0 456.8 201.5 456.8 200.5 456.7 199.0 456.1 197.5 455.2 196.5 454.3 195.3 453.0 194.2 451.5 193.3 450.0 192.4 448.0 191.4 445.5 190.7 443.5 189.6 439.0 189.2 436.5 188.9 433.5 188.6 428.5 188.7 425.5 188.8 423.0 189.4 418.0 189.9 415.5 190.6 413.0 191.9 409.0 192.8 407.0 193.6 405.5 194.8 403.5 195.9 402.0 197.2 400.5 198.5 399.2 199.9 398.0 201.0 397.3 202.5 396.6 204.0 396.2 205.5 396.1 207.0 396.2 208.5 396.7 209.5 397.2 210.5 398.0 211.0 398.5 211.6 399.5 211.8 400.5 212.0 401.5 211.8 404.5 212.0 406.5 212.5 408.0 212.8 408.5 213.5 409.2 214.0 409.5 215.0 409.6 216.0 409.5 221.5 407.9 224.5 407.2 227.5 406.9 230.5 406.9 238.5 407.7 240.5 407.7 244.5 407.7 247.0 407.9 249.0 408.4 250.6 409.0 252.3 410.0 253.5 411.1 254.6 412.5 255.3 414.0 255.6 415.5 255.6 416.5 255.4 417.5 254.9 419.0 253.9 420.5 252.5 421.8 251.0 422.8 250.0 423.3 248.5 423.8 244.0 424.8 242.0 425.4 240.5 426.0 234.5 428.8 232.0 429.7 230.5 430.1 228.0 430.6 225.5 430.8 223.5 430.9 218.5 430.6 217.5 430.8 217.0 431.0 216.5 431.3 215.9 432.0 215.5 433.0 215.1 434.5 214.3 439.5 213.7 442.0 212.7 445.5 211.2 449.0 209.8 451.5 209.0 452.6 208.0 453.8 207.0 454.8 206.0 455.5 205.0 456.1 204.0 456.5Z"/>
<path fill="#a4b0f4" fill-rule="evenodd" d="M203.0 453.1 202.0 453.1 200.5 452.9 199.5 452.5 198.5 452.0 197.5 451.2 196.5 450.2 195.5 448.9 194.5 447.2 193.6 445.5 192.8 443.5 191.6 439.5 190.8 435.0 190.4 430.0 190.4 425.5 190.8 421.0 191.6 416.5 192.8 412.5 193.6 410.5 194.4 409.0 196.0 406.4 198.0 404.0 199.5 402.5 201.0 401.1 202.0 400.4 203.0 399.8 204.5 399.3 206.0 399.3 207.0 399.6 207.6 400.0 208.1 400.5 208.7 401.5 210.0 406.1 211.5 409.8 212.0 410.7 212.5 411.3 213.0 411.7 213.5 411.8 214.0 411.8 215.0 411.6 220.0 409.6 223.0 408.7 226.0 408.2 227.5 408.1 229.5 408.1 231.5 408.3 234.0 408.7 241.0 410.5 245.7 411.5 247.0 411.9 248.0 412.4 248.9 413.0 249.4 413.5 250.0 414.3 250.3 415.0 250.4 415.5 250.4 416.5 250.1 417.5 249.9 418.0 249.0 419.0 247.6 420.0 243.0 422.3 237.5 425.8 234.5 427.4 232.5 428.3 231.0 428.8 229.0 429.3 227.0 429.6 225.5 429.7 223.5 429.6 218.0 429.0 217.0 428.9 216.0 429.0 215.5 429.2 215.0 429.6 214.5 430.2 214.0 431.6 212.9 438.0 212.2 441.0 211.2 444.0 210.1 446.5 208.6 449.0 207.0 450.9 206.0 451.8 205.0 452.4 204.0 452.8 203.0 453.1Z"/>
<path fill="#8494f2" fill-rule="evenodd" d="M204.5 449.2 203.5 449.4 202.5 449.5 201.0 449.2 200.0 448.8 199.0 448.2 198.0 447.3 196.5 445.5 195.6 444.0 195.0 442.8 193.8 439.5 192.9 436.0 192.4 432.0 192.2 428.0 192.4 424.0 192.9 420.0 193.8 416.5 194.8 413.5 195.6 412.0 196.4 410.5 198.1 408.0 199.4 406.5 200.8 405.0 201.5 404.3 202.5 403.6 203.5 403.1 204.0 403.0 204.5 402.9 205.5 403.1 206.5 403.7 207.5 404.8 208.5 406.3 209.6 408.5 211.5 412.6 212.0 413.5 212.5 414.1 213.0 414.4 213.5 414.5 214.5 414.2 218.5 411.9 220.0 411.2 221.5 410.6 223.0 410.1 224.5 409.8 227.5 409.5 229.5 409.6 231.5 409.8 233.5 410.3 235.0 410.7 236.5 411.3 238.0 412.1 239.5 413.0 240.7 414.0 241.1 414.5 241.8 415.5 242.1 416.5 242.1 417.0 242.0 418.0 241.3 419.5 239.8 421.5 237.8 423.5 235.7 425.0 233.5 426.3 231.5 427.2 229.5 427.8 227.5 428.1 225.5 428.3 223.5 428.3 221.5 428.0 216.5 426.7 215.5 426.6 215.0 426.6 214.5 426.7 214.0 427.0 213.5 427.9 213.0 429.6 212.2 435.0 211.3 439.0 210.7 441.0 209.9 443.0 208.9 445.0 207.5 447.0 206.0 448.4 204.5 449.2Z"/>
<path fill="#687cf2" fill-rule="evenodd" d="M204.5 446.5 204.0 446.6 203.0 446.6 202.0 446.3 201.0 445.8 199.4 444.5 198.5 443.5 197.8 442.5 196.4 440.0 195.3 437.0 194.6 434.0 194.2 430.5 194.1 427.0 194.3 424.0 194.8 421.0 195.7 417.5 196.8 414.5 198.2 411.5 199.7 409.0 200.5 407.8 201.5 406.7 202.0 406.3 203.0 405.6 204.0 405.3 204.5 405.2 205.0 405.3 206.0 405.7 207.0 406.5 208.0 407.7 209.1 409.5 210.3 412.0 212.5 417.4 213.0 418.3 213.5 418.7 214.0 418.6 215.7 416.5 217.2 415.0 219.3 413.5 220.5 412.8 222.0 412.1 223.5 411.7 225.0 411.3 226.5 411.2 228.5 411.1 230.5 411.4 232.0 411.7 233.5 412.2 235.0 412.9 236.0 413.6 237.1 414.5 237.5 415.0 238.1 416.0 238.3 416.5 238.4 417.5 238.2 419.0 237.5 420.5 236.4 422.0 234.7 423.5 232.5 424.9 230.5 425.8 228.5 426.4 226.5 426.6 224.5 426.7 222.5 426.4 220.5 425.9 218.3 425.0 216.6 424.0 214.5 422.4 214.0 422.3 213.5 422.8 213.0 424.2 212.5 426.7 211.7 432.5 211.2 435.5 210.4 438.5 209.7 440.5 208.8 442.5 207.5 444.5 207.0 445.0 206.0 445.9 205.5 446.2 204.5 446.5Z"/>
<path fill="#4c64f4" fill-rule="evenodd" d="M204.5 444.5 204.0 444.5 203.0 444.4 202.2 444.0 201.5 443.5 200.9 443.0 200.1 442.0 198.8 440.0 197.7 437.5 197.2 436.0 196.7 434.0 196.2 431.0 196.0 427.5 196.2 424.0 196.7 420.5 197.7 416.5 198.7 413.5 199.4 412.0 200.2 410.5 201.5 408.6 202.1 408.0 203.0 407.4 203.5 407.1 204.5 406.9 205.5 407.1 206.0 407.3 207.0 408.1 208.1 409.5 209.3 411.5 210.3 414.0 211.3 417.0 211.8 419.5 212.0 422.5 211.8 426.0 211.2 431.5 210.6 434.5 209.7 438.0 208.7 440.5 207.5 442.4 207.0 443.0 206.0 443.9 205.5 444.2 204.5 444.5ZM228.5 424.0 227.0 424.3 226.0 424.4 224.0 424.2 222.9 424.0 221.6 423.5 220.0 422.5 219.1 421.5 218.8 421.0 218.5 420.0 218.5 419.0 218.6 418.5 219.0 417.6 219.4 417.0 220.0 416.3 220.9 415.5 222.5 414.5 224.0 413.9 226.0 413.5 228.0 413.4 230.0 413.6 231.5 414.1 232.4 414.5 233.2 415.0 234.2 416.0 234.5 416.5 234.9 417.5 234.9 418.5 234.6 419.5 234.4 420.0 233.5 421.2 232.0 422.5 230.1 423.5 228.5 424.0Z"/>
<path fill="#3a54f6" fill-rule="evenodd" d="M205.5 442.5 205.0 442.7 204.0 442.8 203.5 442.7 202.5 442.3 202.0 441.9 201.2 441.0 200.1 439.5 199.2 437.5 198.2 434.5 197.7 431.5 197.3 427.5 197.4 424.5 197.8 421.0 198.3 418.0 199.3 414.5 200.4 412.0 201.0 411.0 201.8 410.0 202.5 409.2 203.0 408.9 203.5 408.6 204.5 408.3 205.5 408.5 206.5 409.1 207.5 410.0 208.8 412.0 209.7 414.0 210.7 417.0 211.1 419.5 211.4 422.0 211.3 425.5 210.9 429.5 210.3 433.0 209.7 435.5 208.9 438.0 207.9 440.0 206.8 441.5 206.0 442.2 205.5 442.5Z"/>
<path fill="#2a66f8" fill-rule="evenodd" d="M205.0 441.2 204.0 441.2 203.5 441.1 202.5 440.5 201.5 439.5 200.3 437.5 199.4 435.0 198.8 432.5 198.4 429.5 198.2 427.0 198.3 424.0 198.6 420.5 199.2 417.5 199.8 415.5 200.9 413.0 202.0 411.2 203.0 410.2 204.0 409.7 204.5 409.6 205.5 409.7 206.5 410.3 207.0 410.7 208.0 411.9 208.9 413.5 209.7 415.5 210.3 417.5 210.7 420.0 210.9 422.5 210.8 425.5 210.4 429.0 209.8 432.5 209.2 435.0 208.5 437.0 207.5 439.0 206.5 440.2 206.0 440.7 205.0 441.2Z"/>
<path fill="#1a8cf8" fill-rule="evenodd" d="M205.5 439.6 205.0 439.8 204.0 439.8 203.0 439.4 202.0 438.4 201.0 436.8 200.1 434.5 199.4 432.0 199.1 429.5 198.9 426.5 199.0 423.5 199.3 420.5 199.9 417.5 200.7 415.0 201.5 413.4 202.5 412.0 203.5 411.1 204.0 410.9 205.0 410.7 206.0 411.0 207.0 411.7 208.0 412.9 208.8 414.5 209.6 416.5 210.1 418.5 210.4 420.5 210.5 422.5 210.4 425.5 210.1 428.0 209.6 431.0 208.9 434.0 208.2 436.0 207.4 437.5 206.5 438.8 205.5 439.6Z"/>
<path fill="#20b8f0" fill-rule="evenodd" d="M204.5 438.5 204.0 438.5 203.5 438.3 202.5 437.5 201.5 436.1 200.8 434.5 200.2 432.5 199.7 430.0 199.5 427.5 199.4 425.0 199.6 422.5 199.9 420.0 200.4 418.0 201.2 415.5 202.0 413.9 203.0 412.6 204.0 411.9 205.0 411.6 206.0 411.8 207.0 412.5 208.0 413.8 208.7 415.0 209.4 417.0 209.9 419.0 210.1 421.5 210.2 423.5 210.0 426.5 209.6 429.0 208.9 432.0 208.1 434.5 207.4 436.0 206.5 437.4 205.5 438.3 205.0 438.5 204.5 438.5Z"/>
<path fill="#28d8c8" fill-rule="evenodd" d="M205.0 437.2 204.5 437.3 204.0 437.2 203.5 437.0 203.0 436.7 202.1 435.5 201.5 434.4 200.8 432.5 200.3 430.5 200.0 428.0 199.9 425.5 200.0 423.0 200.3 420.5 200.7 418.5 201.4 416.5 202.0 415.0 203.0 413.6 204.0 412.7 205.0 412.4 206.0 412.6 207.0 413.2 207.7 414.0 208.5 415.5 209.1 417.0 209.6 419.0 209.8 421.0 209.9 423.0 209.8 425.5 209.4 428.0 208.9 430.5 208.3 432.5 207.5 434.4 206.5 436.0 206.0 436.6 205.5 437.0 205.0 437.2Z"/>
<path fill="#40e280" fill-rule="evenodd" d="M204.5 436.0 204.0 436.0 203.5 435.7 203.0 435.3 202.5 434.7 202.1 434.0 201.4 432.5 200.9 430.5 200.6 428.5 200.4 426.5 200.4 424.0 200.6 421.5 201.0 419.5 201.5 417.5 202.1 416.0 202.6 415.0 203.5 413.9 204.5 413.2 205.0 413.1 205.5 413.1 206.0 413.2 207.0 413.8 208.0 415.2 208.6 416.5 209.2 418.5 209.5 420.0 209.7 422.0 209.7 424.0 209.5 426.0 209.1 428.0 208.5 430.4 207.7 432.5 207.0 434.0 206.0 435.3 205.5 435.7 205.0 436.0 204.5 436.0Z"/>
<path fill="#60e840" fill-rule="evenodd" d="M205.0 434.7 204.5 434.8 204.0 434.7 203.5 434.4 202.7 433.5 202.0 432.1 201.5 430.5 201.1 428.5 200.9 426.5 200.8 424.5 200.9 422.5 201.3 420.0 201.8 418.0 202.4 416.5 203.2 415.0 204.0 414.2 204.5 413.9 205.0 413.7 205.5 413.6 206.0 413.8 206.5 414.0 207.0 414.4 207.8 415.5 208.4 416.5 208.9 418.0 209.2 419.5 209.4 421.5 209.5 423.5 209.3 425.5 209.1 427.0 208.6 429.0 208.0 430.7 207.5 431.8 206.5 433.5 206.0 434.0 205.5 434.4 205.0 434.7Z"/>
<path fill="#a0ee28" fill-rule="evenodd" d="M205.5 433.2 205.0 433.4 204.5 433.4 204.0 433.3 203.5 432.9 203.1 432.5 202.5 431.5 202.0 430.2 201.6 428.5 201.3 426.5 201.3 424.5 201.3 422.5 201.6 420.5 202.0 418.5 202.6 417.0 203.4 415.5 204.0 414.8 204.5 414.4 205.0 414.2 205.5 414.2 206.0 414.3 206.5 414.5 207.0 414.9 207.5 415.5 208.1 416.5 208.7 418.0 208.9 419.0 209.2 420.5 209.3 422.5 209.1 425.5 208.7 427.5 208.3 429.0 207.5 430.8 207.0 431.7 206.5 432.3 205.5 433.2Z"/>
<path fill="#dcf010" fill-rule="evenodd" d="M205.5 431.7 205.0 431.8 204.5 431.7 204.0 431.5 203.5 431.0 203.0 430.2 202.5 429.0 202.1 427.5 201.9 426.0 201.8 424.0 201.8 422.0 202.0 420.5 202.4 419.0 202.8 417.5 203.3 416.5 204.0 415.6 204.5 415.1 205.0 414.9 205.5 414.8 206.0 414.9 206.5 415.1 207.0 415.5 207.5 416.1 208.0 417.1 208.4 418.0 208.8 419.5 209.0 421.0 209.0 422.5 208.8 425.5 208.5 427.0 208.0 428.6 207.5 429.7 207.0 430.5 206.5 431.1 206.0 431.5 205.5 431.7Z"/>
<path fill="#f8e000" fill-rule="evenodd" d="M205.5 430.5 204.9 430.5 204.5 430.3 204.1 430.0 203.5 429.3 203.1 428.5 202.7 427.5 202.4 426.0 202.2 423.5 202.2 422.0 202.4 420.5 202.8 419.0 203.1 418.0 203.5 417.1 204.0 416.3 204.5 415.8 205.0 415.5 205.5 415.4 206.0 415.4 206.5 415.6 207.0 416.1 207.5 416.7 207.9 417.5 208.3 418.5 208.6 420.0 208.8 422.5 208.8 424.0 208.6 425.5 208.2 427.0 207.8 428.0 207.0 429.5 206.5 430.0 206.0 430.4 205.5 430.5Z"/>
<path fill="#ffb000" fill-rule="evenodd" d="M206.0 429.5 205.5 429.6 205.0 429.5 204.5 429.2 204.0 428.7 203.6 428.0 203.2 427.0 202.9 426.0 202.6 423.5 202.7 421.0 202.9 420.0 203.3 418.5 203.7 417.5 204.4 416.5 205.0 416.1 205.5 415.9 206.0 415.9 206.5 416.2 207.0 416.6 207.6 417.5 208.0 418.5 208.3 419.5 208.6 422.0 208.5 424.5 208.0 426.7 207.5 427.9 207.0 428.7 206.5 429.2 206.0 429.5Z"/>
<path fill="#ff8000" fill-rule="evenodd" d="M206.0 428.8 205.5 428.8 205.0 428.7 204.5 428.3 204.0 427.6 203.3 426.0 203.1 425.0 202.9 423.5 202.9 422.0 203.1 420.5 203.6 418.5 204.0 417.7 204.5 417.0 205.0 416.6 205.5 416.4 206.0 416.4 206.5 416.6 207.0 417.1 207.5 417.9 207.9 419.0 208.2 420.0 208.4 422.0 208.3 424.5 207.8 426.5 207.5 427.1 207.0 428.0 206.5 428.5 206.0 428.8Z"/>
<path fill="#ff5000" fill-rule="evenodd" d="M206.5 427.7 206.0 427.9 205.5 428.0 205.0 427.7 204.5 427.2 204.0 426.4 203.7 425.5 203.3 423.5 203.3 422.0 203.4 421.0 203.8 419.0 204.5 417.7 205.0 417.2 205.5 417.0 206.0 417.0 206.5 417.2 207.2 418.0 207.5 418.7 207.8 419.5 208.1 421.5 208.1 423.5 207.9 425.0 207.4 426.5 207.0 427.1 206.5 427.7Z"/>
<path fill="#e82400" fill-rule="evenodd" d="M206.0 427.2 205.5 427.2 205.0 426.9 204.4 426.0 203.8 424.5 203.6 422.5 203.8 420.5 204.2 419.0 204.5 418.5 205.0 417.9 205.5 417.6 206.0 417.6 206.5 417.8 207.0 418.4 207.5 419.5 207.8 421.0 207.9 422.5 207.8 424.0 207.4 425.5 206.9 426.5 206.5 426.9 206.0 427.2Z"/></g>
</g>
<rect x="189.5" y="376.5" width="75.30000000000001" height="75.69999999999999" fill="none" stroke="#808080" stroke-width="0.8"/>
<line x1="212.5" y1="376.5" x2="212.5" y2="452.2" stroke="#2b3040" stroke-width="1.0"/>
<line x1="189.5" y1="428.0" x2="264.8" y2="428.0" stroke="#2b3040" stroke-width="1.0"/>
<rect x="190.70000000000002" y="379.5" width="10.4" height="5.6" fill="#fff" stroke="none" stroke-width="1"/>
<text x="191.3" y="384.1" font-size="5.5" text-rendering="geometricPrecision" text-anchor="start" fill="#1a1a1a">59.8</text>
<rect x="248.0" y="379.5" width="10.4" height="5.6" fill="#fff" stroke="none" stroke-width="1"/>
<text x="257.8" y="384.1" font-size="5.5" text-rendering="geometricPrecision" text-anchor="end" fill="#1a1a1a">11.4</text>
<rect x="190.70000000000002" y="443.09999999999997" width="10.4" height="5.6" fill="#fff" stroke="none" stroke-width="1"/>
<text x="191.3" y="447.7" font-size="5.5" text-rendering="geometricPrecision" text-anchor="start" fill="#1a1a1a">26.3</text>
<rect x="248.0" y="443.09999999999997" width="10.4" height="5.6" fill="#fff" stroke="none" stroke-width="1"/>
<text x="257.8" y="447.7" font-size="5.5" text-rendering="geometricPrecision" text-anchor="end" fill="#1a1a1a">2.52</text>
<line x1="28.7" y1="465.1" x2="92.2" y2="465.1" stroke="#333" stroke-width="1.8"/>
<path d="M90.7 459.4 L102.2 465.1 L90.7 470.8 Z" fill="#000"/>
<line x1="110" y1="465.1" x2="173.8" y2="465.1" stroke="#333" stroke-width="1.8"/>
<path d="M172.3 459.4 L183.8 465.1 L172.3 470.8 Z" fill="#000"/>
<line x1="191" y1="465.1" x2="253.8" y2="465.1" stroke="#333" stroke-width="1.8"/>
<path d="M252.3 459.4 L263.8 465.1 L252.3 470.8 Z" fill="#000"/>
<text x="29.5" y="477.2" font-size="9.0" text-anchor="start" font-style="italic" fill="#111" stroke="#111" stroke-width="0.3">(CD3<tspan font-size="62%" baseline-shift="super">+</tspan>)</text>
<text x="71" y="477.2" font-size="9.0" text-anchor="start" fill="#111" stroke="#111" stroke-width="0.3">CD8</text>
<text x="152.5" y="477.2" font-size="9.0" text-anchor="start" fill="#111" stroke="#111" stroke-width="0.3">ST2</text>
<text x="218.7" y="477.2" font-size="9.0" text-anchor="start" fill="#111" stroke="#111" stroke-width="0.3">IL17RB</text>
<line x1="273.6" y1="302" x2="273.6" y2="453.5" stroke="#333" stroke-width="1.5"/>
<path d="M268.2 302.5 L273.6 292 L279 302.5 Z" fill="#000"/>
<text x="284.5" y="317" font-size="9.0" text-anchor="middle" fill="#111" stroke="#111" stroke-width="0.3" transform="rotate(-90 284.5 317)">PD1</text>
<text x="11.8" y="335.5" font-size="9.0" text-anchor="middle" fill="#111" stroke="#111" stroke-width="0.3" transform="rotate(-90 11.8 335.5)">Healthy</text>
<text x="11.6" y="414.3" font-size="9.0" text-anchor="middle" fill="#111" stroke="#111" stroke-width="0.3" transform="rotate(-90 11.6 414.3)">mCRC Patient</text>
<text x="346.2" y="281" font-size="7.5" text-anchor="middle" fill="#111" stroke="#111" stroke-width="0.3">CD3<tspan font-size="62%" baseline-shift="super">+</tspan>CD4<tspan font-size="62%" baseline-shift="super">+</tspan></text>
<text x="345.8" y="289.7" font-size="7.6" text-anchor="middle" fill="#111" stroke="#111" stroke-width="0.3"><tspan font-style="italic">P</tspan> = 0.055</text>
<line x1="326.5" y1="294.2" x2="326.5" y2="360.0" stroke="#111" stroke-width="1"/>
<line x1="326.0" y1="359.5" x2="362.3" y2="359.5" stroke="#111" stroke-width="1"/>
<line x1="324.2" y1="338.6" x2="326.5" y2="338.6" stroke="#111" stroke-width="0.9"/>
<line x1="324.2" y1="317.7" x2="326.5" y2="317.7" stroke="#111" stroke-width="0.9"/>
<line x1="324.2" y1="296.8" x2="326.5" y2="296.8" stroke="#111" stroke-width="0.9"/>
<text x="322.1" y="362.6" font-size="8.8" text-anchor="end" fill="#111" stroke="#111" stroke-width="0.3">0</text>
<text x="322.1" y="341.70000000000005" font-size="8.8" text-anchor="end" fill="#111" stroke="#111" stroke-width="0.3">10</text>
<text x="322.1" y="320.8" font-size="8.8" text-anchor="end" fill="#111" stroke="#111" stroke-width="0.3">20</text>
<text x="322.1" y="299.90000000000003" font-size="8.8" text-anchor="end" fill="#111" stroke="#111" stroke-width="0.3">30</text>
<line x1="338.35" y1="330.658" x2="338.35" y2="334.42" stroke="#111" stroke-width="0.9"/>
<line x1="335.95000000000005" y1="330.658" x2="340.75" y2="330.658" stroke="#111" stroke-width="0.9"/>
<rect x="330.2" y="334.42" width="16.30000000000001" height="25.079999999999984" fill="#fff" stroke="#111" stroke-width="0.8"/>
<line x1="354.25" y1="333.793" x2="354.25" y2="341.526" stroke="#111" stroke-width="0.9"/>
<line x1="351.85" y1="333.793" x2="356.65" y2="333.793" stroke="#111" stroke-width="0.9"/>
<rect x="346.5" y="341.526" width="15.5" height="17.97399999999999" fill="#333" stroke="#111" stroke-width="0.8"/>
<text x="392" y="281" font-size="7.5" text-anchor="middle" fill="#111" stroke="#111" stroke-width="0.3">CD3<tspan font-size="62%" baseline-shift="super">+</tspan>CD8<tspan font-size="62%" baseline-shift="super">+</tspan></text>
<text x="391.3" y="289.7" font-size="7.6" text-anchor="middle" fill="#111" stroke="#111" stroke-width="0.3"><tspan font-style="italic">P</tspan> = 0.009</text>
<line x1="370.5" y1="294.2" x2="370.5" y2="360.0" stroke="#111" stroke-width="1"/>
<line x1="370.0" y1="359.5" x2="408" y2="359.5" stroke="#111" stroke-width="1"/>
<line x1="368.2" y1="338.6" x2="370.5" y2="338.6" stroke="#111" stroke-width="0.9"/>
<line x1="368.2" y1="317.7" x2="370.5" y2="317.7" stroke="#111" stroke-width="0.9"/>
<line x1="368.2" y1="296.8" x2="370.5" y2="296.8" stroke="#111" stroke-width="0.9"/>
<line x1="383.1" y1="339.436" x2="383.1" y2="344.243" stroke="#111" stroke-width="0.9"/>
<line x1="380.70000000000005" y1="339.436" x2="385.5" y2="339.436" stroke="#111" stroke-width="0.9"/>
<rect x="375.4" y="344.243" width="15.400000000000034" height="15.257000000000005" fill="#fff" stroke="#111" stroke-width="0.8"/>
<line x1="399.4" y1="348.214" x2="399.4" y2="352.812" stroke="#111" stroke-width="0.9"/>
<line x1="397.0" y1="348.214" x2="401.79999999999995" y2="348.214" stroke="#111" stroke-width="0.9"/>
<rect x="391.7" y="352.812" width="15.400000000000034" height="6.687999999999988" fill="#333" stroke="#111" stroke-width="0.8"/>
<text x="435.4" y="281" font-size="7.5" text-anchor="middle" fill="#111" stroke="#111" stroke-width="0.3">ST2<tspan font-size="62%" baseline-shift="super">+</tspan></text>
<text x="435.4" y="289.7" font-size="7.6" text-anchor="middle" fill="#111" stroke="#111" stroke-width="0.3"><tspan font-style="italic">P</tspan> = 0.008</text>
<line x1="417.5" y1="294.2" x2="417.5" y2="360.0" stroke="#111" stroke-width="1"/>
<line x1="417.0" y1="359.5" x2="455.5" y2="359.5" stroke="#111" stroke-width="1"/>
<line x1="415.2" y1="338.6" x2="417.5" y2="338.6" stroke="#111" stroke-width="0.9"/>
<line x1="415.2" y1="317.7" x2="417.5" y2="317.7" stroke="#111" stroke-width="0.9"/>
<line x1="415.2" y1="296.8" x2="417.5" y2="296.8" stroke="#111" stroke-width="0.9"/>
<line x1="428.6" y1="340.481" x2="428.6" y2="349.468" stroke="#111" stroke-width="0.9"/>
<line x1="426.20000000000005" y1="340.481" x2="431.0" y2="340.481" stroke="#111" stroke-width="0.9"/>
<rect x="420.7" y="349.468" width="15.800000000000011" height="10.031999999999982" fill="#fff" stroke="#111" stroke-width="0.8"/>
<line x1="444.95000000000005" y1="295.546" x2="444.95000000000005" y2="316.446" stroke="#111" stroke-width="0.9"/>
<line x1="442.55000000000007" y1="295.546" x2="447.35" y2="295.546" stroke="#111" stroke-width="0.9"/>
<rect x="437.1" y="316.446" width="15.699999999999989" height="43.053999999999974" fill="#333" stroke="#111" stroke-width="0.8"/>
<text x="480.5" y="281" font-size="7.5" text-anchor="middle" fill="#111" stroke="#111" stroke-width="0.3">IL17RB<tspan font-size="62%" baseline-shift="super">+</tspan></text>
<text x="480.6" y="289.7" font-size="7.6" text-anchor="middle" fill="#111" stroke="#111" stroke-width="0.3"><tspan font-style="italic">P</tspan> = 0.021</text>
<line x1="463.5" y1="294.2" x2="463.5" y2="360.0" stroke="#111" stroke-width="1"/>
<line x1="463.0" y1="359.5" x2="501.2" y2="359.5" stroke="#111" stroke-width="1"/>
<line x1="461.2" y1="338.6" x2="463.5" y2="338.6" stroke="#111" stroke-width="0.9"/>
<line x1="461.2" y1="317.7" x2="463.5" y2="317.7" stroke="#111" stroke-width="0.9"/>
<line x1="461.2" y1="296.8" x2="463.5" y2="296.8" stroke="#111" stroke-width="0.9"/>
<line x1="473.95" y1="355.738" x2="473.95" y2="356.365" stroke="#111" stroke-width="0.9"/>
<line x1="471.55" y1="355.738" x2="476.34999999999997" y2="355.738" stroke="#111" stroke-width="0.9"/>
<rect x="466.2" y="356.365" width="15.5" height="3.134999999999991" fill="#fff" stroke="#111" stroke-width="0.8"/>
<line x1="490.35" y1="328.359" x2="490.35" y2="341.526" stroke="#111" stroke-width="0.9"/>
<line x1="487.95000000000005" y1="328.359" x2="492.75" y2="328.359" stroke="#111" stroke-width="0.9"/>
<rect x="482.3" y="341.526" width="16.099999999999966" height="17.97399999999999" fill="#333" stroke="#111" stroke-width="0.8"/>
<text x="307.3" y="328.5" font-size="8.9" text-anchor="middle" fill="#111" stroke="#111" stroke-width="0.3" transform="rotate(-90 307.3 328.5)">% Positive cells</text>
<rect x="329.4" y="298.2" width="2.8" height="7.4" fill="#fff" stroke="#666" stroke-width="0.6"/>
<rect x="329.4" y="310" width="2.8" height="7.8" fill="#111" stroke="none" stroke-width="1"/>
<text x="336.8" y="306.5" font-size="7.7" text-anchor="start" fill="#111" stroke="#111" stroke-width="0.3">Healthy</text>
<text x="336.6" y="318.8" font-size="7.7" text-anchor="start" fill="#111" stroke="#111" stroke-width="0.3">mCRC</text>
<line x1="315.5" y1="377.2" x2="315.5" y2="455.4" stroke="#111" stroke-width="1"/>
<line x1="315.0" y1="454.9" x2="400.5" y2="454.9" stroke="#111" stroke-width="1"/>
<line x1="313.3" y1="454.9" x2="315.5" y2="454.9" stroke="#111" stroke-width="0.9"/>
<text x="312.3" y="458.2" font-size="9.3" text-anchor="end" fill="#111" stroke="#111" stroke-width="0.3">0</text>
<line x1="313.3" y1="435.79999999999995" x2="315.5" y2="435.79999999999995" stroke="#111" stroke-width="0.9"/>
<text x="312.3" y="439.09999999999997" font-size="9.3" text-anchor="end" fill="#111" stroke="#111" stroke-width="0.3">10</text>
<line x1="313.3" y1="416.7" x2="315.5" y2="416.7" stroke="#111" stroke-width="0.9"/>
<text x="312.3" y="420.0" font-size="9.3" text-anchor="end" fill="#111" stroke="#111" stroke-width="0.3">20</text>
<line x1="313.3" y1="397.59999999999997" x2="315.5" y2="397.59999999999997" stroke="#111" stroke-width="0.9"/>
<text x="312.3" y="400.9" font-size="9.3" text-anchor="end" fill="#111" stroke="#111" stroke-width="0.3">30</text>
<line x1="313.3" y1="378.5" x2="315.5" y2="378.5" stroke="#111" stroke-width="0.9"/>
<text x="312.3" y="381.8" font-size="9.3" text-anchor="end" fill="#111" stroke="#111" stroke-width="0.3">40</text>
<line x1="318.0" y1="454.9" x2="318.0" y2="457.09999999999997" stroke="#111" stroke-width="0.9"/>
<text x="318.0" y="468.4" font-size="9.0" text-anchor="middle" fill="#111" stroke="#111" stroke-width="0.3">0</text>
<line x1="331.74" y1="454.9" x2="331.74" y2="457.09999999999997" stroke="#111" stroke-width="0.9"/>
<text x="331.74" y="468.4" font-size="9.0" text-anchor="middle" fill="#111" stroke="#111" stroke-width="0.3">2</text>
<line x1="345.48" y1="454.9" x2="345.48" y2="457.09999999999997" stroke="#111" stroke-width="0.9"/>
<text x="345.48" y="468.4" font-size="9.0" text-anchor="middle" fill="#111" stroke="#111" stroke-width="0.3">4</text>
<line x1="359.22" y1="454.9" x2="359.22" y2="457.09999999999997" stroke="#111" stroke-width="0.9"/>
<text x="359.22" y="468.4" font-size="9.0" text-anchor="middle" fill="#111" stroke="#111" stroke-width="0.3">6</text>
<line x1="372.96" y1="454.9" x2="372.96" y2="457.09999999999997" stroke="#111" stroke-width="0.9"/>
<text x="372.96" y="468.4" font-size="9.0" text-anchor="middle" fill="#111" stroke="#111" stroke-width="0.3">8</text>
<line x1="386.7" y1="454.9" x2="386.7" y2="457.09999999999997" stroke="#111" stroke-width="0.9"/>
<text x="386.7" y="468.4" font-size="9.0" text-anchor="middle" fill="#111" stroke="#111" stroke-width="0.3">10</text>
<text x="323" y="382.5" font-size="7.6" fill="#111" stroke="#111" stroke-width="0.3"><tspan font-style="italic">y</tspan> = -3.1764x + 29.423</text>
<text x="397.2" y="391" font-size="7.6" text-anchor="end" fill="#111" stroke="#111" stroke-width="0.3"><tspan font-style="italic">R</tspan><tspan font-size="70%" baseline-shift="sub">2</tspan> = 0.6871</text>
<text x="397.2" y="399.3" font-size="7.6" text-anchor="end" fill="#111" stroke="#111" stroke-width="0.3"><tspan font-style="italic">P</tspan> = 0.005</text>
<line x1="320.061" y1="400.52214719999995" x2="381.62994000000003" y2="454.89392008799996" stroke="#555" stroke-width="0.8"/>
<circle cx="345" cy="434.2" r="2.5" fill="#fff" stroke="#777" stroke-width="0.8"/>
<circle cx="365.2" cy="449.6" r="2.5" fill="#fff" stroke="#777" stroke-width="0.8"/>
<circle cx="365.2" cy="453.2" r="2.5" fill="#fff" stroke="#777" stroke-width="0.8"/>
<circle cx="390.5" cy="447.5" r="2.5" fill="#fff" stroke="#777" stroke-width="0.8"/>
<circle cx="319.5" cy="389.2" r="2.7" fill="#000" stroke="none" stroke-width="1"/>
<circle cx="332.6" cy="390.8" r="2.7" fill="#000" stroke="none" stroke-width="1"/>
<circle cx="326.9" cy="396.9" r="2.7" fill="#000" stroke="none" stroke-width="1"/>
<circle cx="323.1" cy="410.8" r="2.7" fill="#000" stroke="none" stroke-width="1"/>
<circle cx="329.4" cy="420" r="2.7" fill="#000" stroke="none" stroke-width="1"/>
<circle cx="348.5" cy="420" r="2.7" fill="#000" stroke="none" stroke-width="1"/>
<circle cx="337.7" cy="431.6" r="2.7" fill="#000" stroke="none" stroke-width="1"/>
<circle cx="367.3" cy="433.75" r="2.7" fill="#000" stroke="none" stroke-width="1"/>
<circle cx="357.5" cy="445.4" r="2.7" fill="#000" stroke="none" stroke-width="1"/>
<text x="355.3" y="480.3" font-size="9.15" text-anchor="middle" fill="#111" stroke="#111" stroke-width="0.3">% CD3<tspan font-size="62%" baseline-shift="super">+</tspan>CD8<tspan font-size="62%" baseline-shift="super">+</tspan> cells</text>
<text x="297" y="418" font-size="8.9" text-anchor="middle" fill="#111" stroke="#111" stroke-width="0.3" transform="rotate(-90 297 418)">% ST2<tspan font-size="62%" baseline-shift="super">+</tspan> cells</text>
<line x1="427.5" y1="377.2" x2="427.5" y2="455.4" stroke="#111" stroke-width="1"/>
<line x1="427.0" y1="454.9" x2="513.7" y2="454.9" stroke="#111" stroke-width="1"/>
<line x1="425.3" y1="454.9" x2="427.5" y2="454.9" stroke="#111" stroke-width="0.9"/>
<text x="424.3" y="458.2" font-size="9.3" text-anchor="end" fill="#111" stroke="#111" stroke-width="0.3">0</text>
<line x1="425.3" y1="429.5" x2="427.5" y2="429.5" stroke="#111" stroke-width="0.9"/>
<text x="424.3" y="432.8" font-size="9.3" text-anchor="end" fill="#111" stroke="#111" stroke-width="0.3">5</text>
<line x1="425.3" y1="404.09999999999997" x2="427.5" y2="404.09999999999997" stroke="#111" stroke-width="0.9"/>
<text x="424.3" y="407.4" font-size="9.3" text-anchor="end" fill="#111" stroke="#111" stroke-width="0.3">10</text>
<line x1="425.3" y1="378.7" x2="427.5" y2="378.7" stroke="#111" stroke-width="0.9"/>
<text x="424.3" y="382.0" font-size="9.3" text-anchor="end" fill="#111" stroke="#111" stroke-width="0.3">15</text>
<line x1="429.5" y1="454.9" x2="429.5" y2="457.09999999999997" stroke="#111" stroke-width="0.9"/>
<text x="429.5" y="468.4" font-size="9.0" text-anchor="middle" fill="#111" stroke="#111" stroke-width="0.3">0</text>
<line x1="444.42" y1="454.9" x2="444.42" y2="457.09999999999997" stroke="#111" stroke-width="0.9"/>
<text x="444.42" y="468.4" font-size="9.0" text-anchor="middle" fill="#111" stroke="#111" stroke-width="0.3">2</text>
<line x1="459.34" y1="454.9" x2="459.34" y2="457.09999999999997" stroke="#111" stroke-width="0.9"/>
<text x="459.34" y="468.4" font-size="9.0" text-anchor="middle" fill="#111" stroke="#111" stroke-width="0.3">4</text>
<line x1="474.26" y1="454.9" x2="474.26" y2="457.09999999999997" stroke="#111" stroke-width="0.9"/>
<text x="474.26" y="468.4" font-size="9.0" text-anchor="middle" fill="#111" stroke="#111" stroke-width="0.3">6</text>
<line x1="489.18" y1="454.9" x2="489.18" y2="457.09999999999997" stroke="#111" stroke-width="0.9"/>
<text x="489.18" y="468.4" font-size="9.0" text-anchor="middle" fill="#111" stroke="#111" stroke-width="0.3">8</text>
<line x1="504.1" y1="454.9" x2="504.1" y2="457.09999999999997" stroke="#111" stroke-width="0.9"/>
<text x="504.1" y="468.4" font-size="9.0" text-anchor="middle" fill="#111" stroke="#111" stroke-width="0.3">10</text>
<text x="432.3" y="382.5" font-size="7.6" fill="#111" stroke="#111" stroke-width="0.3"><tspan font-style="italic">y</tspan> = -1.3863x + 12.372</text>
<text x="505.5" y="391" font-size="7.6" text-anchor="end" fill="#111" stroke="#111" stroke-width="0.3"><tspan font-style="italic">R</tspan><tspan font-size="70%" baseline-shift="sub">2</tspan> = 0.4482</text>
<text x="505.5" y="399.3" font-size="7.6" text-anchor="end" fill="#111" stroke="#111" stroke-width="0.3"><tspan font-style="italic">P</tspan> = 0.062</text>
<line x1="431.738" y1="394.1629612" x2="496.08050000000003" y2="454.9036957" stroke="#555" stroke-width="0.8"/>
<circle cx="460.1" cy="447.5" r="2.5" fill="#fff" stroke="#777" stroke-width="0.8"/>
<circle cx="481.5" cy="450.7" r="2.5" fill="#fff" stroke="#777" stroke-width="0.8"/>
<circle cx="508.4" cy="446.9" r="2.5" fill="#fff" stroke="#777" stroke-width="0.8"/>
<circle cx="431.8" cy="395.4" r="2.7" fill="#000" stroke="none" stroke-width="1"/>
<circle cx="435.7" cy="405.7" r="2.7" fill="#000" stroke="none" stroke-width="1"/>
<circle cx="452" cy="413.8" r="2.7" fill="#000" stroke="none" stroke-width="1"/>
<circle cx="440.3" cy="433.1" r="2.7" fill="#000" stroke="none" stroke-width="1"/>
<circle cx="463.5" cy="446" r="2.7" fill="#000" stroke="none" stroke-width="1"/>
<circle cx="473.5" cy="443.3" r="2.7" fill="#000" stroke="none" stroke-width="1"/>
<circle cx="483.4" cy="433.3" r="2.7" fill="#000" stroke="none" stroke-width="1"/>
<text x="466.8" y="480.3" font-size="9.15" text-anchor="middle" fill="#111" stroke="#111" stroke-width="0.3">% CD3<tspan font-size="62%" baseline-shift="super">+</tspan>CD8<tspan font-size="62%" baseline-shift="super">+</tspan> cells</text>
<text x="411.5" y="416.5" font-size="8.9" text-anchor="middle" fill="#111" stroke="#111" stroke-width="0.3" transform="rotate(-90 411.5 416.5)">% IL17RB<tspan font-size="62%" baseline-shift="super">+</tspan> cells</text>
<line x1="26.7" y1="301.0" x2="28.5" y2="301.0" stroke="#555" stroke-width="0.7"/>
<line x1="26.7" y1="321.0" x2="28.5" y2="321.0" stroke="#555" stroke-width="0.7"/>
<line x1="26.7" y1="341.0" x2="28.5" y2="341.0" stroke="#555" stroke-width="0.7"/>
<line x1="26.7" y1="361.5" x2="28.5" y2="361.5" stroke="#555" stroke-width="0.7"/>
<circle cx="27.8" cy="353.3" r="1.3" fill="#111" stroke="none" stroke-width="1"/>
<text x="26.3" y="302.2" font-size="3.8" text-anchor="end" fill="#6a6a6a">10<tspan font-size="70%" baseline-shift="super">5</tspan></text>
<text x="26.3" y="322.2" font-size="3.8" text-anchor="end" fill="#6a6a6a">10<tspan font-size="70%" baseline-shift="super">4</tspan></text>
<text x="26.3" y="342.2" font-size="3.8" text-anchor="end" fill="#6a6a6a">10<tspan font-size="70%" baseline-shift="super">3</tspan></text>
<text x="26.3" y="355.7" font-size="3.8" text-anchor="end" fill="#6a6a6a">0</text>
<text x="26.3" y="364.0" font-size="3.8" text-anchor="end" fill="#6a6a6a">-10<tspan font-size="70%" baseline-shift="super">3</tspan></text>
<line x1="107.7" y1="301.0" x2="109.5" y2="301.0" stroke="#555" stroke-width="0.7"/>
<line x1="107.7" y1="321.0" x2="109.5" y2="321.0" stroke="#555" stroke-width="0.7"/>
<line x1="107.7" y1="341.0" x2="109.5" y2="341.0" stroke="#555" stroke-width="0.7"/>
<line x1="107.7" y1="361.5" x2="109.5" y2="361.5" stroke="#555" stroke-width="0.7"/>
<circle cx="108.8" cy="353.3" r="1.3" fill="#111" stroke="none" stroke-width="1"/>
<line x1="187.7" y1="301.0" x2="189.5" y2="301.0" stroke="#555" stroke-width="0.7"/>
<line x1="187.7" y1="321.0" x2="189.5" y2="321.0" stroke="#555" stroke-width="0.7"/>
<line x1="187.7" y1="341.0" x2="189.5" y2="341.0" stroke="#555" stroke-width="0.7"/>
<line x1="187.7" y1="361.5" x2="189.5" y2="361.5" stroke="#555" stroke-width="0.7"/>
<circle cx="188.8" cy="353.3" r="1.3" fill="#111" stroke="none" stroke-width="1"/>
<line x1="26.7" y1="383.0" x2="28.5" y2="383.0" stroke="#555" stroke-width="0.7"/>
<line x1="26.7" y1="403.0" x2="28.5" y2="403.0" stroke="#555" stroke-width="0.7"/>
<line x1="26.7" y1="423.0" x2="28.5" y2="423.0" stroke="#555" stroke-width="0.7"/>
<line x1="26.7" y1="443.5" x2="28.5" y2="443.5" stroke="#555" stroke-width="0.7"/>
<circle cx="27.8" cy="435.3" r="1.3" fill="#111" stroke="none" stroke-width="1"/>
<text x="26.3" y="384.2" font-size="3.8" text-anchor="end" fill="#6a6a6a">10<tspan font-size="70%" baseline-shift="super">5</tspan></text>
<text x="26.3" y="404.2" font-size="3.8" text-anchor="end" fill="#6a6a6a">10<tspan font-size="70%" baseline-shift="super">4</tspan></text>
<text x="26.3" y="424.2" font-size="3.8" text-anchor="end" fill="#6a6a6a">10<tspan font-size="70%" baseline-shift="super">3</tspan></text>
<text x="26.3" y="437.7" font-size="3.8" text-anchor="end" fill="#6a6a6a">0</text>
<text x="26.3" y="446.0" font-size="3.8" text-anchor="end" fill="#6a6a6a">-10<tspan font-size="70%" baseline-shift="super">3</tspan></text>
<line x1="107.7" y1="383.0" x2="109.5" y2="383.0" stroke="#555" stroke-width="0.7"/>
<line x1="107.7" y1="403.0" x2="109.5" y2="403.0" stroke="#555" stroke-width="0.7"/>
<line x1="107.7" y1="423.0" x2="109.5" y2="423.0" stroke="#555" stroke-width="0.7"/>
<line x1="107.7" y1="443.5" x2="109.5" y2="443.5" stroke="#555" stroke-width="0.7"/>
<circle cx="108.8" cy="435.3" r="1.3" fill="#111" stroke="none" stroke-width="1"/>
<line x1="187.7" y1="383.0" x2="189.5" y2="383.0" stroke="#555" stroke-width="0.7"/>
<line x1="187.7" y1="403.0" x2="189.5" y2="403.0" stroke="#555" stroke-width="0.7"/>
<line x1="187.7" y1="423.0" x2="189.5" y2="423.0" stroke="#555" stroke-width="0.7"/>
<line x1="187.7" y1="443.5" x2="189.5" y2="443.5" stroke="#555" stroke-width="0.7"/>
<circle cx="188.8" cy="435.3" r="1.3" fill="#111" stroke="none" stroke-width="1"/>
<line x1="47.5" y1="370.2" x2="47.5" y2="372.0" stroke="#555" stroke-width="0.7"/>
<line x1="64" y1="370.2" x2="64" y2="372.0" stroke="#555" stroke-width="0.7"/>
<line x1="80.5" y1="370.2" x2="80.5" y2="372.0" stroke="#555" stroke-width="0.7"/>
<line x1="98.7" y1="370.2" x2="98.7" y2="372.0" stroke="#555" stroke-width="0.7"/>
<rect x="45.7" y="370.4" width="3.6" height="1.4" fill="#111" stroke="none" stroke-width="1"/>
<line x1="116" y1="370.2" x2="116" y2="372.0" stroke="#555" stroke-width="0.7"/>
<line x1="131.5" y1="370.2" x2="131.5" y2="372.0" stroke="#555" stroke-width="0.7"/>
<line x1="140.5" y1="370.2" x2="140.5" y2="372.0" stroke="#555" stroke-width="0.7"/>
<line x1="162" y1="370.2" x2="162" y2="372.0" stroke="#555" stroke-width="0.7"/>
<line x1="178" y1="370.2" x2="178" y2="372.0" stroke="#555" stroke-width="0.7"/>
<rect x="129.7" y="370.4" width="3.6" height="1.4" fill="#111" stroke="none" stroke-width="1"/>
<line x1="196" y1="370.2" x2="196" y2="372.0" stroke="#555" stroke-width="0.7"/>
<line x1="206" y1="370.2" x2="206" y2="372.0" stroke="#555" stroke-width="0.7"/>
<line x1="222" y1="370.2" x2="222" y2="372.0" stroke="#555" stroke-width="0.7"/>
<line x1="244" y1="370.2" x2="244" y2="372.0" stroke="#555" stroke-width="0.7"/>
<line x1="261" y1="370.2" x2="261" y2="372.0" stroke="#555" stroke-width="0.7"/>
<rect x="204.2" y="370.4" width="3.6" height="1.4" fill="#111" stroke="none" stroke-width="1"/>
<line x1="47.5" y1="452.2" x2="47.5" y2="454.0" stroke="#555" stroke-width="0.7"/>
<text x="47.5" y="458.0" font-size="3.8" text-anchor="middle" fill="#6a6a6a">0</text>
<line x1="64" y1="452.2" x2="64" y2="454.0" stroke="#555" stroke-width="0.7"/>
<line x1="80.5" y1="452.2" x2="80.5" y2="454.0" stroke="#555" stroke-width="0.7"/>
<text x="80.5" y="458.0" font-size="3.8" text-anchor="middle" fill="#6a6a6a">10<tspan font-size="70%" baseline-shift="super">4</tspan></text>
<line x1="98.7" y1="452.2" x2="98.7" y2="454.0" stroke="#555" stroke-width="0.7"/>
<text x="98.7" y="458.0" font-size="3.8" text-anchor="middle" fill="#6a6a6a">10<tspan font-size="70%" baseline-shift="super">5</tspan></text>
<rect x="45.7" y="452.4" width="3.6" height="1.4" fill="#111" stroke="none" stroke-width="1"/>
<line x1="116" y1="452.2" x2="116" y2="454.0" stroke="#555" stroke-width="0.7"/>
<text x="116" y="458.0" font-size="3.8" text-anchor="middle" fill="#6a6a6a">-10<tspan font-size="70%" baseline-shift="super">2</tspan></text>
<line x1="131.5" y1="452.2" x2="131.5" y2="454.0" stroke="#555" stroke-width="0.7"/>
<text x="131.5" y="458.0" font-size="3.8" text-anchor="middle" fill="#6a6a6a">0</text>
<line x1="140.5" y1="452.2" x2="140.5" y2="454.0" stroke="#555" stroke-width="0.7"/>
<text x="140.5" y="458.0" font-size="3.8" text-anchor="middle" fill="#6a6a6a">10<tspan font-size="70%" baseline-shift="super">2</tspan></text>
<line x1="162" y1="452.2" x2="162" y2="454.0" stroke="#555" stroke-width="0.7"/>
<text x="162" y="458.0" font-size="3.8" text-anchor="middle" fill="#6a6a6a">10<tspan font-size="70%" baseline-shift="super">3</tspan></text>
<line x1="178" y1="452.2" x2="178" y2="454.0" stroke="#555" stroke-width="0.7"/>
<text x="178" y="458.0" font-size="3.8" text-anchor="middle" fill="#6a6a6a">10<tspan font-size="70%" baseline-shift="super">4</tspan></text>
<rect x="129.7" y="452.4" width="3.6" height="1.4" fill="#111" stroke="none" stroke-width="1"/>
<line x1="196" y1="452.2" x2="196" y2="454.0" stroke="#555" stroke-width="0.7"/>
<text x="196" y="458.0" font-size="3.8" text-anchor="middle" fill="#6a6a6a">-10<tspan font-size="70%" baseline-shift="super">3</tspan></text>
<line x1="206" y1="452.2" x2="206" y2="454.0" stroke="#555" stroke-width="0.7"/>
<text x="206" y="458.0" font-size="3.8" text-anchor="middle" fill="#6a6a6a">0</text>
<line x1="222" y1="452.2" x2="222" y2="454.0" stroke="#555" stroke-width="0.7"/>
<text x="222" y="458.0" font-size="3.8" text-anchor="middle" fill="#6a6a6a">10<tspan font-size="70%" baseline-shift="super">3</tspan></text>
<line x1="244" y1="452.2" x2="244" y2="454.0" stroke="#555" stroke-width="0.7"/>
<text x="244" y="458.0" font-size="3.8" text-anchor="middle" fill="#6a6a6a">10<tspan font-size="70%" baseline-shift="super">4</tspan></text>
<line x1="261" y1="452.2" x2="261" y2="454.0" stroke="#555" stroke-width="0.7"/>
<text x="261" y="458.0" font-size="3.8" text-anchor="middle" fill="#6a6a6a">10<tspan font-size="70%" baseline-shift="super">5</tspan></text>
<rect x="204.2" y="452.4" width="3.6" height="1.4" fill="#111" stroke="none" stroke-width="1"/>
</svg></body></html>
